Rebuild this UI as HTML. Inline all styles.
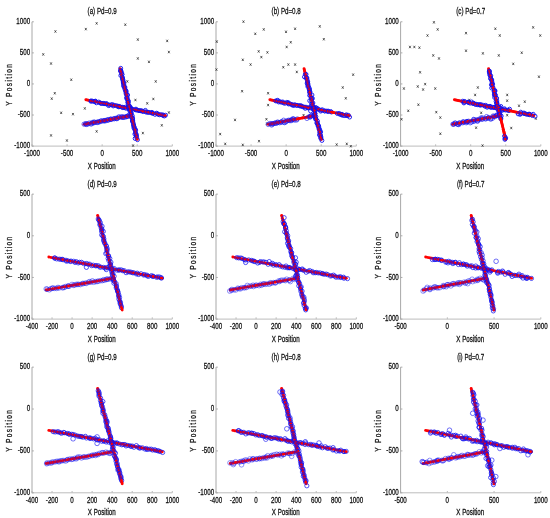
<!DOCTYPE html>
<html><head><meta charset="utf-8"><title>Tracking results</title>
<style>
html,body{margin:0;padding:0;background:#fff;}
svg{display:block;}
circle.r{fill:#f00}circle.b,circle.b1,circle.c,circle.c1,circle.e{fill:none;stroke:#1010f0}circle.e{stroke-width:0.6}circle.b{stroke-width:0.72}circle.b1{stroke-width:0.9}circle.c{stroke-width:0.45}circle.c1{stroke-width:0.6}
text{font-family:"Liberation Sans",sans-serif;font-size:9.5px;fill:#111;stroke:#111;stroke-width:0.3px;}
</style></head><body>
<svg width="550" height="518" viewBox="0 0 550 518">
<rect width="550" height="518" fill="#fff"/>
<g>
<path d="M32.00 146.10H172.30M32.00 146.10v-1.8M67.08 146.10v-1.8M102.15 146.10v-1.8M137.23 146.10v-1.8M172.30 146.10v-1.8" fill="none" stroke="#bcbcbc" stroke-width="1"/>
<path d="M32.00 21.80V146.60M32.00 146.10h1.8M32.00 115.02h1.8M32.00 83.95h1.8M32.00 52.88h1.8M32.00 21.80h1.8" fill="none" stroke="#a8a8a8" stroke-width="1"/>
<text transform="translate(32.00,156.00) scale(0.655,1)" text-anchor="middle">-1000</text>
<text transform="translate(67.08,156.00) scale(0.655,1)" text-anchor="middle">-500</text>
<text transform="translate(102.15,156.00) scale(0.655,1)" text-anchor="middle">0</text>
<text transform="translate(137.23,156.00) scale(0.655,1)" text-anchor="middle">500</text>
<text transform="translate(172.30,156.00) scale(0.655,1)" text-anchor="middle">1000</text>
<text transform="translate(30.20,148.40) scale(0.655,1)" text-anchor="end">-1000</text>
<text transform="translate(30.20,117.32) scale(0.655,1)" text-anchor="end">-500</text>
<text transform="translate(30.20,86.25) scale(0.655,1)" text-anchor="end">0</text>
<text transform="translate(30.20,55.17) scale(0.655,1)" text-anchor="end">500</text>
<text transform="translate(30.20,24.10) scale(0.655,1)" text-anchor="end">1000</text>
<text transform="translate(102.15,14.40) scale(0.655,1)" text-anchor="middle">(a) Pd=0.9</text>
<text transform="translate(101.75,168.70) scale(0.655,1)" text-anchor="middle">X Position</text>
<text transform="translate(12.00,84.25) rotate(-90) scale(0.7,0.93)" text-anchor="middle" stroke="none" fill="#2a2a2a" letter-spacing="1.9">Y Position</text>
<path d="M84.92 27.90l1.8 2.4M84.92 30.30l1.8 -2.4M95.72 22.16l1.8 2.4M95.72 24.56l1.8 -2.4M124.42 23.51l1.8 2.4M124.42 25.91l1.8 -2.4M54.53 30.26l1.8 2.4M54.53 32.66l1.8 -2.4M136.91 38.36l1.8 2.4M136.91 40.76l1.8 -2.4M166.28 39.71l1.8 2.4M166.28 42.11l1.8 -2.4M167.97 50.85l1.8 2.4M167.97 53.25l1.8 -2.4M42.38 53.22l1.8 2.4M42.38 55.62l1.8 -2.4M50.14 62.33l1.8 2.4M50.14 64.73l1.8 -2.4M136.91 57.27l1.8 2.4M136.91 59.67l1.8 -2.4M148.05 60.64l1.8 2.4M148.05 63.04l1.8 -2.4M70.40 78.54l1.8 2.4M70.40 80.94l1.8 -2.4M126.44 80.23l1.8 2.4M126.44 82.63l1.8 -2.4M154.80 80.23l1.8 2.4M154.80 82.63l1.8 -2.4M53.86 92.04l1.8 2.4M53.86 94.44l1.8 -2.4M50.82 97.44l1.8 2.4M50.82 99.84l1.8 -2.4M134.54 98.79l1.8 2.4M134.54 101.19l1.8 -2.4M152.44 97.78l1.8 2.4M152.44 100.18l1.8 -2.4M146.36 102.17l1.8 2.4M146.36 104.57l1.8 -2.4M83.90 107.24l1.8 2.4M83.90 109.64l1.8 -2.4M60.27 111.62l1.8 2.4M60.27 114.02l1.8 -2.4M72.09 112.97l1.8 2.4M72.09 115.37l1.8 -2.4M167.97 111.29l1.8 2.4M167.97 113.69l1.8 -2.4M160.88 124.12l1.8 2.4M160.88 126.52l1.8 -2.4M95.72 130.19l1.8 2.4M95.72 132.59l1.8 -2.4M141.97 131.88l1.8 2.4M141.97 134.28l1.8 -2.4M50.14 134.24l1.8 2.4M50.14 136.64l1.8 -2.4M66.01 139.31l1.8 2.4M66.01 141.71l1.8 -2.4M132.18 144.37l1.8 2.4M132.18 146.77l1.8 -2.4" fill="none" stroke="#222" stroke-width="0.7"/>
<circle class="r" cx="85.88" cy="99.80" r="1.45"/><circle class="r" cx="87.03" cy="100.03" r="1.45"/><circle class="r" cx="88.18" cy="100.26" r="1.45"/><circle class="r" cx="89.33" cy="100.49" r="1.45"/><circle class="r" cx="90.48" cy="100.72" r="1.45"/><circle class="b1" cx="90.86" cy="101.25" r="1.9500000000000002"/><circle class="r" cx="91.63" cy="100.95" r="1.45"/><circle class="b1" cx="91.21" cy="100.85" r="1.9500000000000002"/><circle class="r" cx="92.78" cy="101.18" r="1.45"/><circle class="b1" cx="92.66" cy="101.17" r="1.9500000000000002"/><circle class="r" cx="93.93" cy="101.41" r="1.45"/><circle class="b1" cx="94.11" cy="101.49" r="1.9500000000000002"/><circle class="r" cx="95.08" cy="101.64" r="1.45"/><circle class="b1" cx="95.19" cy="101.43" r="1.9500000000000002"/><circle class="r" cx="96.23" cy="101.87" r="1.45"/><circle class="b1" cx="95.47" cy="101.08" r="1.9500000000000002"/><circle class="r" cx="97.38" cy="102.10" r="1.45"/><circle class="b1" cx="96.40" cy="102.84" r="1.9500000000000002"/><circle class="r" cx="98.53" cy="102.32" r="1.45"/><circle class="b1" cx="98.77" cy="102.04" r="1.9500000000000002"/><circle class="r" cx="99.69" cy="102.55" r="1.45"/><circle class="b1" cx="99.97" cy="102.82" r="1.9500000000000002"/><circle class="r" cx="100.84" cy="102.78" r="1.45"/><circle class="b1" cx="101.09" cy="103.32" r="1.9500000000000002"/><circle class="r" cx="101.99" cy="103.01" r="1.45"/><circle class="b1" cx="101.59" cy="103.42" r="1.9500000000000002"/><circle class="r" cx="103.14" cy="103.24" r="1.45"/><circle class="b1" cx="103.42" cy="103.36" r="1.9500000000000002"/><circle class="r" cx="104.29" cy="103.47" r="1.45"/><circle class="b1" cx="103.94" cy="103.64" r="1.9500000000000002"/><circle class="r" cx="105.44" cy="103.70" r="1.45"/><circle class="b1" cx="105.08" cy="103.81" r="1.9500000000000002"/><circle class="r" cx="106.59" cy="103.93" r="1.45"/><circle class="b1" cx="106.48" cy="103.61" r="1.9500000000000002"/><circle class="r" cx="107.74" cy="104.16" r="1.45"/><circle class="b1" cx="106.84" cy="104.02" r="1.9500000000000002"/><circle class="r" cx="108.89" cy="104.39" r="1.45"/><circle class="b1" cx="108.59" cy="105.62" r="1.9500000000000002"/><circle class="r" cx="110.04" cy="104.62" r="1.45"/><circle class="b1" cx="109.38" cy="104.99" r="1.9500000000000002"/><circle class="r" cx="111.19" cy="104.85" r="1.45"/><circle class="b1" cx="111.07" cy="104.86" r="1.9500000000000002"/><circle class="r" cx="112.35" cy="105.08" r="1.45"/><circle class="b1" cx="112.40" cy="104.50" r="1.9500000000000002"/><circle class="r" cx="113.50" cy="105.31" r="1.45"/><circle class="b1" cx="113.23" cy="105.95" r="1.9500000000000002"/><circle class="r" cx="114.65" cy="105.54" r="1.45"/><circle class="b1" cx="114.21" cy="105.30" r="1.9500000000000002"/><circle class="r" cx="115.80" cy="105.77" r="1.45"/><circle class="b1" cx="116.28" cy="105.60" r="1.9500000000000002"/><circle class="r" cx="116.95" cy="106.00" r="1.45"/><circle class="b1" cx="117.60" cy="106.26" r="1.9500000000000002"/><circle class="r" cx="118.10" cy="106.23" r="1.45"/><circle class="b1" cx="118.93" cy="106.19" r="1.9500000000000002"/><circle class="r" cx="119.25" cy="106.46" r="1.45"/><circle class="b1" cx="118.75" cy="106.90" r="1.9500000000000002"/><circle class="r" cx="120.40" cy="106.69" r="1.45"/><circle class="b1" cx="120.14" cy="106.75" r="1.9500000000000002"/><circle class="r" cx="121.55" cy="106.92" r="1.45"/><circle class="b1" cx="122.27" cy="107.20" r="1.9500000000000002"/><circle class="r" cx="122.70" cy="107.15" r="1.45"/><circle class="b1" cx="122.71" cy="107.60" r="1.9500000000000002"/><circle class="r" cx="123.85" cy="107.38" r="1.45"/><circle class="b1" cx="124.28" cy="107.62" r="1.9500000000000002"/><circle class="r" cx="125.00" cy="107.61" r="1.45"/><circle class="b1" cx="125.62" cy="107.05" r="1.9500000000000002"/><circle class="r" cx="126.16" cy="107.84" r="1.45"/><circle class="b1" cx="126.07" cy="108.30" r="1.9500000000000002"/><circle class="r" cx="127.31" cy="108.07" r="1.45"/><circle class="b1" cx="128.15" cy="107.31" r="1.9500000000000002"/><circle class="r" cx="128.46" cy="108.30" r="1.45"/><circle class="b1" cx="128.60" cy="108.59" r="1.9500000000000002"/><circle class="r" cx="129.61" cy="108.53" r="1.45"/><circle class="b1" cx="129.01" cy="108.58" r="1.9500000000000002"/><circle class="r" cx="130.76" cy="108.76" r="1.45"/><circle class="b1" cx="131.23" cy="108.77" r="1.9500000000000002"/><circle class="r" cx="131.91" cy="108.99" r="1.45"/><circle class="b1" cx="130.89" cy="108.53" r="1.9500000000000002"/><circle class="r" cx="133.06" cy="109.22" r="1.45"/><circle class="b1" cx="132.44" cy="109.15" r="1.9500000000000002"/><circle class="r" cx="134.21" cy="109.45" r="1.45"/><circle class="b1" cx="135.12" cy="109.77" r="1.9500000000000002"/><circle class="r" cx="135.36" cy="109.67" r="1.45"/><circle class="b1" cx="135.93" cy="109.10" r="1.9500000000000002"/><circle class="r" cx="136.51" cy="109.90" r="1.45"/><circle class="b1" cx="136.34" cy="110.03" r="1.9500000000000002"/><circle class="r" cx="137.66" cy="110.13" r="1.45"/><circle class="b1" cx="137.82" cy="110.20" r="1.9500000000000002"/><circle class="r" cx="138.82" cy="110.36" r="1.45"/><circle class="b1" cx="139.03" cy="110.71" r="1.9500000000000002"/><circle class="r" cx="139.97" cy="110.59" r="1.45"/><circle class="b1" cx="140.22" cy="110.59" r="1.9500000000000002"/><circle class="r" cx="141.12" cy="110.82" r="1.45"/><circle class="b1" cx="141.05" cy="110.90" r="1.9500000000000002"/><circle class="r" cx="142.27" cy="111.05" r="1.45"/><circle class="b1" cx="142.08" cy="110.89" r="1.9500000000000002"/><circle class="r" cx="143.42" cy="111.28" r="1.45"/><circle class="b1" cx="143.17" cy="111.63" r="1.9500000000000002"/><circle class="r" cx="144.57" cy="111.51" r="1.45"/><circle class="b1" cx="145.40" cy="110.36" r="1.9500000000000002"/><circle class="r" cx="145.72" cy="111.74" r="1.45"/><circle class="b1" cx="145.53" cy="111.76" r="1.9500000000000002"/><circle class="r" cx="146.87" cy="111.97" r="1.45"/><circle class="b1" cx="146.68" cy="112.27" r="1.9500000000000002"/><circle class="r" cx="148.02" cy="112.20" r="1.45"/><circle class="b1" cx="148.07" cy="112.28" r="1.9500000000000002"/><circle class="r" cx="149.17" cy="112.43" r="1.45"/><circle class="b1" cx="148.92" cy="112.39" r="1.9500000000000002"/><circle class="r" cx="150.32" cy="112.66" r="1.45"/><circle class="b1" cx="150.87" cy="112.75" r="1.9500000000000002"/><circle class="r" cx="151.47" cy="112.89" r="1.45"/><circle class="b1" cx="151.93" cy="112.36" r="1.9500000000000002"/><circle class="r" cx="152.63" cy="113.12" r="1.45"/><circle class="b1" cx="152.44" cy="113.32" r="1.9500000000000002"/><circle class="r" cx="153.78" cy="113.35" r="1.45"/><circle class="b1" cx="153.01" cy="113.19" r="1.9500000000000002"/><circle class="r" cx="154.93" cy="113.58" r="1.45"/><circle class="b1" cx="155.07" cy="114.39" r="1.9500000000000002"/><circle class="r" cx="156.08" cy="113.81" r="1.45"/><circle class="b1" cx="156.57" cy="113.16" r="1.9500000000000002"/><circle class="r" cx="157.23" cy="114.04" r="1.45"/><circle class="b1" cx="157.21" cy="113.72" r="1.9500000000000002"/><circle class="r" cx="158.38" cy="114.27" r="1.45"/><circle class="b1" cx="158.31" cy="114.35" r="1.9500000000000002"/><circle class="r" cx="159.53" cy="114.50" r="1.45"/><circle class="b1" cx="159.47" cy="114.84" r="1.9500000000000002"/><circle class="r" cx="160.68" cy="114.73" r="1.45"/><circle class="b1" cx="161.15" cy="114.60" r="1.9500000000000002"/><circle class="r" cx="161.83" cy="114.96" r="1.45"/><circle class="b1" cx="162.95" cy="114.87" r="1.9500000000000002"/><circle class="r" cx="162.98" cy="115.19" r="1.45"/><circle class="b1" cx="163.04" cy="115.50" r="1.9500000000000002"/><circle class="r" cx="164.13" cy="115.42" r="1.45"/><circle class="b1" cx="164.31" cy="116.02" r="1.9500000000000002"/><circle class="r" cx="165.28" cy="115.65" r="1.45"/><circle class="b1" cx="165.56" cy="115.21" r="1.9500000000000002"/><circle class="r" cx="85.88" cy="99.80" r="0.7"/><circle class="r" cx="88.18" cy="100.26" r="0.7"/><circle class="r" cx="90.48" cy="100.72" r="0.7"/><circle class="r" cx="92.78" cy="101.18" r="0.7"/><circle class="r" cx="95.08" cy="101.64" r="0.7"/><circle class="r" cx="97.38" cy="102.10" r="0.7"/><circle class="r" cx="99.69" cy="102.55" r="0.7"/><circle class="r" cx="101.99" cy="103.01" r="0.7"/><circle class="r" cx="104.29" cy="103.47" r="0.7"/><circle class="r" cx="106.59" cy="103.93" r="0.7"/><circle class="r" cx="108.89" cy="104.39" r="0.7"/><circle class="r" cx="111.19" cy="104.85" r="0.7"/><circle class="r" cx="113.50" cy="105.31" r="0.7"/><circle class="r" cx="115.80" cy="105.77" r="0.7"/><circle class="r" cx="118.10" cy="106.23" r="0.7"/><circle class="r" cx="120.40" cy="106.69" r="0.7"/><circle class="r" cx="122.70" cy="107.15" r="0.7"/><circle class="r" cx="125.00" cy="107.61" r="0.7"/><circle class="r" cx="127.31" cy="108.07" r="0.7"/><circle class="r" cx="129.61" cy="108.53" r="0.7"/><circle class="r" cx="131.91" cy="108.99" r="0.7"/><circle class="r" cx="134.21" cy="109.45" r="0.7"/><circle class="r" cx="136.51" cy="109.90" r="0.7"/><circle class="r" cx="138.82" cy="110.36" r="0.7"/><circle class="r" cx="141.12" cy="110.82" r="0.7"/><circle class="r" cx="143.42" cy="111.28" r="0.7"/><circle class="r" cx="145.72" cy="111.74" r="0.7"/><circle class="r" cx="148.02" cy="112.20" r="0.7"/><circle class="r" cx="150.32" cy="112.66" r="0.7"/><circle class="r" cx="152.63" cy="113.12" r="0.7"/><circle class="r" cx="154.93" cy="113.58" r="0.7"/><circle class="r" cx="157.23" cy="114.04" r="0.7"/><circle class="r" cx="159.53" cy="114.50" r="0.7"/><circle class="r" cx="161.83" cy="114.96" r="0.7"/><circle class="r" cx="164.13" cy="115.42" r="0.7"/>
<circle class="r" cx="84.05" cy="124.35" r="1.45"/><circle class="c1" cx="84.11" cy="124.17" r="2.2"/><circle class="r" cx="85.09" cy="124.15" r="1.45"/><circle class="c1" cx="85.76" cy="123.73" r="2.2"/><circle class="r" cx="86.13" cy="123.96" r="1.45"/><circle class="c1" cx="85.85" cy="124.00" r="2.2"/><circle class="r" cx="87.18" cy="123.77" r="1.45"/><circle class="c1" cx="86.77" cy="124.47" r="2.2"/><circle class="r" cx="88.22" cy="123.57" r="1.45"/><circle class="c1" cx="87.85" cy="123.85" r="2.2"/><circle class="r" cx="89.26" cy="123.38" r="1.45"/><circle class="c1" cx="89.21" cy="123.11" r="2.2"/><circle class="r" cx="90.30" cy="123.19" r="1.45"/><circle class="c1" cx="90.87" cy="123.98" r="2.2"/><circle class="r" cx="91.34" cy="122.99" r="1.45"/><circle class="c1" cx="91.85" cy="123.66" r="2.2"/><circle class="r" cx="92.38" cy="122.80" r="1.45"/><circle class="c1" cx="92.15" cy="122.45" r="2.2"/><circle class="r" cx="93.42" cy="122.61" r="1.45"/><circle class="c1" cx="93.48" cy="122.66" r="2.2"/><circle class="r" cx="94.46" cy="122.41" r="1.45"/><circle class="c1" cx="94.14" cy="121.97" r="2.2"/><circle class="r" cx="95.51" cy="122.22" r="1.45"/><circle class="c1" cx="94.67" cy="122.59" r="2.2"/><circle class="r" cx="96.55" cy="122.03" r="1.45"/><circle class="c1" cx="96.63" cy="122.36" r="2.2"/><circle class="r" cx="97.59" cy="121.83" r="1.45"/><circle class="c1" cx="97.62" cy="122.43" r="2.2"/><circle class="r" cx="98.63" cy="121.64" r="1.45"/><circle class="c1" cx="98.42" cy="121.76" r="2.2"/><circle class="r" cx="99.67" cy="121.45" r="1.45"/><circle class="c1" cx="99.37" cy="121.84" r="2.2"/><circle class="r" cx="100.71" cy="121.25" r="1.45"/><circle class="c1" cx="101.10" cy="120.99" r="2.2"/><circle class="r" cx="101.75" cy="121.06" r="1.45"/><circle class="c1" cx="101.20" cy="121.05" r="2.2"/><circle class="r" cx="102.80" cy="120.87" r="1.45"/><circle class="c1" cx="103.28" cy="120.92" r="2.2"/><circle class="r" cx="103.84" cy="120.67" r="1.45"/><circle class="c1" cx="104.64" cy="120.69" r="2.2"/><circle class="r" cx="104.88" cy="120.48" r="1.45"/><circle class="c1" cx="104.16" cy="120.60" r="2.2"/><circle class="r" cx="105.92" cy="120.29" r="1.45"/><circle class="c1" cx="105.67" cy="120.77" r="2.2"/><circle class="r" cx="106.96" cy="120.09" r="1.45"/><circle class="c1" cx="107.01" cy="119.89" r="2.2"/><circle class="r" cx="108.00" cy="119.90" r="1.45"/><circle class="c1" cx="108.01" cy="120.26" r="2.2"/><circle class="r" cx="109.04" cy="119.71" r="1.45"/><circle class="c1" cx="108.47" cy="119.68" r="2.2"/><circle class="r" cx="110.08" cy="119.51" r="1.45"/><circle class="c1" cx="110.50" cy="119.26" r="2.2"/><circle class="r" cx="111.13" cy="119.32" r="1.45"/><circle class="c1" cx="110.59" cy="119.30" r="2.2"/><circle class="r" cx="112.17" cy="119.13" r="1.45"/><circle class="c1" cx="111.64" cy="119.29" r="2.2"/><circle class="r" cx="113.21" cy="118.93" r="1.45"/><circle class="c1" cx="113.86" cy="118.68" r="2.2"/><circle class="r" cx="114.25" cy="118.74" r="1.45"/><circle class="c1" cx="114.58" cy="118.62" r="2.2"/><circle class="r" cx="115.29" cy="118.55" r="1.45"/><circle class="c1" cx="116.10" cy="118.25" r="2.2"/><circle class="r" cx="116.33" cy="118.35" r="1.45"/><circle class="c1" cx="116.68" cy="118.69" r="2.2"/><circle class="r" cx="117.37" cy="118.16" r="1.45"/><circle class="c1" cx="117.38" cy="118.34" r="2.2"/><circle class="r" cx="118.42" cy="117.97" r="1.45"/><circle class="c1" cx="118.62" cy="117.03" r="2.2"/><circle class="r" cx="119.46" cy="117.77" r="1.45"/><circle class="c1" cx="119.32" cy="117.13" r="2.2"/><circle class="r" cx="120.50" cy="117.58" r="1.45"/><circle class="c1" cx="121.37" cy="116.79" r="2.2"/><circle class="r" cx="121.54" cy="117.39" r="1.45"/><circle class="c1" cx="121.97" cy="117.25" r="2.2"/><circle class="r" cx="122.58" cy="117.19" r="1.45"/><circle class="c1" cx="123.43" cy="117.14" r="2.2"/><circle class="r" cx="123.62" cy="117.00" r="1.45"/><circle class="c1" cx="123.13" cy="117.23" r="2.2"/><circle class="r" cx="124.66" cy="116.81" r="1.45"/><circle class="c1" cx="124.80" cy="117.18" r="2.2"/><circle class="r" cx="125.70" cy="116.61" r="1.45"/><circle class="c1" cx="126.27" cy="116.68" r="2.2"/><circle class="r" cx="126.75" cy="116.42" r="1.45"/><circle class="c1" cx="127.15" cy="116.47" r="2.2"/><circle class="r" cx="127.79" cy="116.23" r="1.45"/><circle class="c1" cx="127.62" cy="116.21" r="2.2"/><circle class="r" cx="128.83" cy="116.03" r="1.45"/><circle class="c1" cx="129.12" cy="114.87" r="2.2"/><circle class="r" cx="129.87" cy="115.84" r="1.45"/><circle class="c1" cx="129.86" cy="115.97" r="2.2"/><circle class="r" cx="130.91" cy="115.65" r="1.45"/><circle class="c1" cx="130.88" cy="115.88" r="2.2"/>
<circle class="r" cx="120.04" cy="68.72" r="1.45"/><circle class="b1" cx="120.74" cy="68.28" r="1.9500000000000002"/><circle class="r" cx="120.29" cy="69.75" r="1.45"/><circle class="b1" cx="120.88" cy="70.56" r="1.9500000000000002"/><circle class="r" cx="120.54" cy="70.77" r="1.45"/><circle class="b1" cx="120.48" cy="70.59" r="1.9500000000000002"/><circle class="r" cx="120.79" cy="71.80" r="1.45"/><circle class="b1" cx="120.61" cy="71.36" r="1.9500000000000002"/><circle class="r" cx="121.03" cy="72.82" r="1.45"/><circle class="b1" cx="121.63" cy="72.58" r="1.9500000000000002"/><circle class="r" cx="121.28" cy="73.84" r="1.45"/><circle class="b1" cx="122.05" cy="74.29" r="1.9500000000000002"/><circle class="r" cx="121.53" cy="74.87" r="1.45"/><circle class="b1" cx="121.85" cy="74.49" r="1.9500000000000002"/><circle class="r" cx="121.78" cy="75.89" r="1.45"/><circle class="b1" cx="120.81" cy="75.56" r="1.9500000000000002"/><circle class="r" cx="122.03" cy="76.92" r="1.45"/><circle class="b1" cx="122.41" cy="77.32" r="1.9500000000000002"/><circle class="r" cx="122.28" cy="77.94" r="1.45"/><circle class="b1" cx="122.49" cy="78.11" r="1.9500000000000002"/><circle class="r" cx="122.53" cy="78.96" r="1.45"/><circle class="b1" cx="122.65" cy="79.34" r="1.9500000000000002"/><circle class="r" cx="122.78" cy="79.99" r="1.45"/><circle class="b1" cx="122.80" cy="79.62" r="1.9500000000000002"/><circle class="r" cx="123.03" cy="81.01" r="1.45"/><circle class="b1" cx="123.21" cy="81.39" r="1.9500000000000002"/><circle class="r" cx="123.28" cy="82.04" r="1.45"/><circle class="b1" cx="123.28" cy="82.12" r="1.9500000000000002"/><circle class="r" cx="123.53" cy="83.06" r="1.45"/><circle class="b1" cx="123.25" cy="82.97" r="1.9500000000000002"/><circle class="r" cx="123.77" cy="84.09" r="1.45"/><circle class="b1" cx="123.97" cy="84.00" r="1.9500000000000002"/><circle class="r" cx="124.02" cy="85.11" r="1.45"/><circle class="b1" cx="123.54" cy="85.33" r="1.9500000000000002"/><circle class="r" cx="124.27" cy="86.13" r="1.45"/><circle class="b1" cx="123.85" cy="86.47" r="1.9500000000000002"/><circle class="r" cx="124.52" cy="87.16" r="1.45"/><circle class="b1" cx="124.93" cy="87.11" r="1.9500000000000002"/><circle class="r" cx="124.77" cy="88.18" r="1.45"/><circle class="b1" cx="124.60" cy="87.57" r="1.9500000000000002"/><circle class="r" cx="125.02" cy="89.21" r="1.45"/><circle class="b1" cx="124.93" cy="89.33" r="1.9500000000000002"/><circle class="r" cx="125.27" cy="90.23" r="1.45"/><circle class="b1" cx="125.94" cy="90.55" r="1.9500000000000002"/><circle class="r" cx="125.52" cy="91.25" r="1.45"/><circle class="b1" cx="125.62" cy="91.42" r="1.9500000000000002"/><circle class="r" cx="125.77" cy="92.28" r="1.45"/><circle class="b1" cx="126.23" cy="91.79" r="1.9500000000000002"/><circle class="r" cx="126.02" cy="93.30" r="1.45"/><circle class="b1" cx="126.03" cy="93.68" r="1.9500000000000002"/><circle class="r" cx="126.27" cy="94.33" r="1.45"/><circle class="b1" cx="126.53" cy="94.74" r="1.9500000000000002"/><circle class="r" cx="126.51" cy="95.35" r="1.45"/><circle class="b1" cx="127.69" cy="95.06" r="1.9500000000000002"/><circle class="r" cx="126.76" cy="96.37" r="1.45"/><circle class="b1" cx="126.80" cy="97.54" r="1.9500000000000002"/><circle class="r" cx="127.01" cy="97.40" r="1.45"/><circle class="b1" cx="127.00" cy="97.42" r="1.9500000000000002"/><circle class="r" cx="127.26" cy="98.42" r="1.45"/><circle class="b1" cx="126.74" cy="98.51" r="1.9500000000000002"/><circle class="r" cx="127.51" cy="99.45" r="1.45"/><circle class="b1" cx="127.47" cy="99.45" r="1.9500000000000002"/><circle class="r" cx="127.76" cy="100.47" r="1.45"/><circle class="b1" cx="128.14" cy="100.71" r="1.9500000000000002"/><circle class="r" cx="128.01" cy="101.50" r="1.45"/><circle class="b1" cx="128.39" cy="101.55" r="1.9500000000000002"/><circle class="r" cx="128.26" cy="102.52" r="1.45"/><circle class="b1" cx="127.78" cy="102.24" r="1.9500000000000002"/><circle class="r" cx="128.51" cy="103.54" r="1.45"/><circle class="b1" cx="128.12" cy="102.95" r="1.9500000000000002"/><circle class="r" cx="128.76" cy="104.57" r="1.45"/><circle class="b1" cx="128.45" cy="104.82" r="1.9500000000000002"/><circle class="r" cx="129.01" cy="105.59" r="1.45"/><circle class="b1" cx="129.43" cy="106.17" r="1.9500000000000002"/><circle class="r" cx="129.25" cy="106.62" r="1.45"/><circle class="b1" cx="130.08" cy="106.85" r="1.9500000000000002"/><circle class="r" cx="129.50" cy="107.64" r="1.45"/><circle class="b1" cx="128.99" cy="107.11" r="1.9500000000000002"/><circle class="r" cx="129.75" cy="108.66" r="1.45"/><circle class="b1" cx="130.10" cy="109.08" r="1.9500000000000002"/><circle class="r" cx="130.00" cy="109.69" r="1.45"/><circle class="b1" cx="130.42" cy="108.99" r="1.9500000000000002"/><circle class="r" cx="130.25" cy="110.71" r="1.45"/><circle class="b1" cx="129.43" cy="110.23" r="1.9500000000000002"/><circle class="r" cx="130.50" cy="111.74" r="1.45"/><circle class="b1" cx="130.39" cy="111.43" r="1.9500000000000002"/><circle class="r" cx="130.75" cy="112.76" r="1.45"/><circle class="b1" cx="131.03" cy="113.08" r="1.9500000000000002"/><circle class="r" cx="131.00" cy="113.78" r="1.45"/><circle class="b1" cx="131.29" cy="113.29" r="1.9500000000000002"/><circle class="r" cx="131.25" cy="114.81" r="1.45"/><circle class="b1" cx="130.77" cy="114.32" r="1.9500000000000002"/><circle class="r" cx="131.50" cy="115.83" r="1.45"/><circle class="b1" cx="132.30" cy="115.85" r="1.9500000000000002"/><circle class="r" cx="131.75" cy="116.86" r="1.45"/><circle class="b1" cx="131.19" cy="116.85" r="1.9500000000000002"/><circle class="r" cx="131.99" cy="117.88" r="1.45"/><circle class="b1" cx="132.67" cy="118.18" r="1.9500000000000002"/><circle class="r" cx="132.24" cy="118.91" r="1.45"/><circle class="b1" cx="132.56" cy="119.06" r="1.9500000000000002"/><circle class="r" cx="132.49" cy="119.93" r="1.45"/><circle class="b1" cx="132.70" cy="120.64" r="1.9500000000000002"/><circle class="r" cx="132.74" cy="120.95" r="1.45"/><circle class="b1" cx="132.30" cy="120.97" r="1.9500000000000002"/><circle class="r" cx="132.99" cy="121.98" r="1.45"/><circle class="b1" cx="132.68" cy="121.28" r="1.9500000000000002"/><circle class="r" cx="133.24" cy="123.00" r="1.45"/><circle class="b1" cx="133.13" cy="122.86" r="1.9500000000000002"/><circle class="r" cx="133.49" cy="124.03" r="1.45"/><circle class="b1" cx="133.47" cy="124.77" r="1.9500000000000002"/><circle class="r" cx="133.74" cy="125.05" r="1.45"/><circle class="b1" cx="133.67" cy="125.02" r="1.9500000000000002"/><circle class="r" cx="133.99" cy="126.07" r="1.45"/><circle class="b1" cx="133.91" cy="126.74" r="1.9500000000000002"/><circle class="r" cx="134.24" cy="127.10" r="1.45"/><circle class="b1" cx="134.07" cy="126.77" r="1.9500000000000002"/><circle class="r" cx="134.49" cy="128.12" r="1.45"/><circle class="b1" cx="133.99" cy="128.23" r="1.9500000000000002"/><circle class="r" cx="134.73" cy="129.15" r="1.45"/><circle class="b1" cx="134.97" cy="128.96" r="1.9500000000000002"/><circle class="r" cx="134.98" cy="130.17" r="1.45"/><circle class="b1" cx="135.06" cy="130.14" r="1.9500000000000002"/><circle class="r" cx="135.23" cy="131.19" r="1.45"/><circle class="b1" cx="135.73" cy="130.13" r="1.9500000000000002"/><circle class="r" cx="135.48" cy="132.22" r="1.45"/><circle class="b1" cx="135.45" cy="132.53" r="1.9500000000000002"/><circle class="r" cx="135.73" cy="133.24" r="1.45"/><circle class="b1" cx="135.88" cy="133.82" r="1.9500000000000002"/><circle class="r" cx="135.98" cy="134.27" r="1.45"/><circle class="b1" cx="134.88" cy="134.10" r="1.9500000000000002"/><circle class="r" cx="136.23" cy="135.29" r="1.45"/><circle class="b1" cx="136.46" cy="134.81" r="1.9500000000000002"/><circle class="r" cx="136.48" cy="136.32" r="1.45"/><circle class="b1" cx="136.38" cy="136.00" r="1.9500000000000002"/><circle class="r" cx="136.73" cy="137.34" r="1.45"/><circle class="b1" cx="136.63" cy="137.35" r="1.9500000000000002"/><circle class="r" cx="136.98" cy="138.36" r="1.45"/><circle class="b1" cx="135.12" cy="138.46" r="1.9500000000000002"/><circle class="r" cx="137.23" cy="139.39" r="1.45"/><circle class="b1" cx="137.49" cy="139.71" r="1.9500000000000002"/><circle class="r" cx="120.04" cy="68.72" r="0.7"/><circle class="r" cx="120.54" cy="70.77" r="0.7"/><circle class="r" cx="121.03" cy="72.82" r="0.7"/><circle class="r" cx="121.53" cy="74.87" r="0.7"/><circle class="r" cx="122.03" cy="76.92" r="0.7"/><circle class="r" cx="122.53" cy="78.96" r="0.7"/><circle class="r" cx="123.03" cy="81.01" r="0.7"/><circle class="r" cx="123.53" cy="83.06" r="0.7"/><circle class="r" cx="124.02" cy="85.11" r="0.7"/><circle class="r" cx="124.52" cy="87.16" r="0.7"/><circle class="r" cx="125.02" cy="89.21" r="0.7"/><circle class="r" cx="125.52" cy="91.25" r="0.7"/><circle class="r" cx="126.02" cy="93.30" r="0.7"/><circle class="r" cx="126.51" cy="95.35" r="0.7"/><circle class="r" cx="127.01" cy="97.40" r="0.7"/><circle class="r" cx="127.51" cy="99.45" r="0.7"/><circle class="r" cx="128.01" cy="101.50" r="0.7"/><circle class="r" cx="128.51" cy="103.54" r="0.7"/><circle class="r" cx="129.01" cy="105.59" r="0.7"/><circle class="r" cx="129.50" cy="107.64" r="0.7"/><circle class="r" cx="130.00" cy="109.69" r="0.7"/><circle class="r" cx="130.50" cy="111.74" r="0.7"/><circle class="r" cx="131.00" cy="113.78" r="0.7"/><circle class="r" cx="131.50" cy="115.83" r="0.7"/><circle class="r" cx="131.99" cy="117.88" r="0.7"/><circle class="r" cx="132.49" cy="119.93" r="0.7"/><circle class="r" cx="132.99" cy="121.98" r="0.7"/><circle class="r" cx="133.49" cy="124.03" r="0.7"/><circle class="r" cx="133.99" cy="126.07" r="0.7"/><circle class="r" cx="134.49" cy="128.12" r="0.7"/><circle class="r" cx="134.98" cy="130.17" r="0.7"/><circle class="r" cx="135.48" cy="132.22" r="0.7"/><circle class="r" cx="135.98" cy="134.27" r="0.7"/><circle class="r" cx="136.48" cy="136.32" r="0.7"/><circle class="r" cx="136.98" cy="138.36" r="0.7"/>

</g>
<g>
<path d="M216.00 146.10H356.30M216.00 146.10v-1.8M251.07 146.10v-1.8M286.15 146.10v-1.8M321.23 146.10v-1.8M356.30 146.10v-1.8" fill="none" stroke="#bcbcbc" stroke-width="1"/>
<path d="M216.00 21.80V146.60M216.00 146.10h1.8M216.00 115.02h1.8M216.00 83.95h1.8M216.00 52.88h1.8M216.00 21.80h1.8" fill="none" stroke="#a8a8a8" stroke-width="1"/>
<text transform="translate(216.00,156.00) scale(0.655,1)" text-anchor="middle">-1000</text>
<text transform="translate(251.07,156.00) scale(0.655,1)" text-anchor="middle">-500</text>
<text transform="translate(286.15,156.00) scale(0.655,1)" text-anchor="middle">0</text>
<text transform="translate(321.23,156.00) scale(0.655,1)" text-anchor="middle">500</text>
<text transform="translate(356.30,156.00) scale(0.655,1)" text-anchor="middle">1000</text>
<text transform="translate(214.20,148.40) scale(0.655,1)" text-anchor="end">-1000</text>
<text transform="translate(214.20,117.32) scale(0.655,1)" text-anchor="end">-500</text>
<text transform="translate(214.20,86.25) scale(0.655,1)" text-anchor="end">0</text>
<text transform="translate(214.20,55.17) scale(0.655,1)" text-anchor="end">500</text>
<text transform="translate(214.20,24.10) scale(0.655,1)" text-anchor="end">1000</text>
<text transform="translate(286.15,14.40) scale(0.655,1)" text-anchor="middle">(b) Pd=0.8</text>
<text transform="translate(285.75,168.70) scale(0.655,1)" text-anchor="middle">X Position</text>
<text transform="translate(196.00,84.25) rotate(-90) scale(0.7,0.93)" text-anchor="middle" stroke="none" fill="#2a2a2a" letter-spacing="1.9">Y Position</text>
<path d="M242.57 20.47l1.8 2.4M242.57 22.87l1.8 -2.4M318.87 25.20l1.8 2.4M318.87 27.60l1.8 -2.4M262.83 28.23l1.8 2.4M262.83 30.63l1.8 -2.4M294.22 27.56l1.8 2.4M294.22 29.96l1.8 -2.4M254.39 32.62l1.8 2.4M254.39 35.02l1.8 -2.4M285.11 30.60l1.8 2.4M285.11 33.00l1.8 -2.4M322.92 38.03l1.8 2.4M322.92 40.43l1.8 -2.4M215.90 40.39l1.8 2.4M215.90 42.79l1.8 -2.4M289.83 41.06l1.8 2.4M289.83 43.46l1.8 -2.4M285.78 45.79l1.8 2.4M285.78 48.19l1.8 -2.4M257.76 50.18l1.8 2.4M257.76 52.58l1.8 -2.4M266.54 51.19l1.8 2.4M266.54 53.59l1.8 -2.4M260.46 55.92l1.8 2.4M260.46 58.32l1.8 -2.4M241.89 58.62l1.8 2.4M241.89 61.02l1.8 -2.4M249.66 63.35l1.8 2.4M249.66 65.75l1.8 -2.4M287.47 63.35l1.8 2.4M287.47 65.75l1.8 -2.4M294.22 63.35l1.8 2.4M294.22 65.75l1.8 -2.4M282.41 66.05l1.8 2.4M282.41 68.45l1.8 -2.4M295.91 70.77l1.8 2.4M295.91 73.17l1.8 -2.4M215.56 68.41l1.8 2.4M215.56 70.81l1.8 -2.4M352.29 73.47l1.8 2.4M352.29 75.87l1.8 -2.4M341.83 86.30l1.8 2.4M341.83 88.70l1.8 -2.4M241.22 90.02l1.8 2.4M241.22 92.42l1.8 -2.4M267.21 92.04l1.8 2.4M267.21 94.44l1.8 -2.4M344.86 97.11l1.8 2.4M344.86 99.51l1.8 -2.4M267.21 103.86l1.8 2.4M267.21 106.26l1.8 -2.4M302.66 113.99l1.8 2.4M302.66 116.39l1.8 -2.4M234.13 118.71l1.8 2.4M234.13 121.11l1.8 -2.4M265.53 118.04l1.8 2.4M265.53 120.44l1.8 -2.4M266.20 122.43l1.8 2.4M266.20 124.83l1.8 -2.4M219.27 132.89l1.8 2.4M219.27 135.29l1.8 -2.4M258.10 139.98l1.8 2.4M258.10 142.38l1.8 -2.4M224.34 142.68l1.8 2.4M224.34 145.08l1.8 -2.4M241.89 143.70l1.8 2.4M241.89 146.10l1.8 -2.4M335.75 143.36l1.8 2.4M335.75 145.76l1.8 -2.4M345.88 142.68l1.8 2.4M345.88 145.08l1.8 -2.4M349.93 145.05l1.8 2.4M349.93 147.45l1.8 -2.4" fill="none" stroke="#222" stroke-width="0.7"/>
<circle class="r" cx="269.88" cy="99.80" r="1.45"/><circle class="r" cx="271.03" cy="100.03" r="1.45"/><circle class="r" cx="272.18" cy="100.26" r="1.45"/><circle class="r" cx="273.33" cy="100.49" r="1.45"/><circle class="r" cx="274.48" cy="100.72" r="1.45"/><circle class="r" cx="275.63" cy="100.95" r="1.45"/><circle class="b1" cx="275.65" cy="100.92" r="1.9500000000000002"/><circle class="r" cx="276.78" cy="101.18" r="1.45"/><circle class="b1" cx="276.93" cy="100.94" r="1.9500000000000002"/><circle class="r" cx="277.93" cy="101.41" r="1.45"/><circle class="b1" cx="277.66" cy="100.25" r="1.9500000000000002"/><circle class="r" cx="279.08" cy="101.64" r="1.45"/><circle class="b1" cx="278.70" cy="102.03" r="1.9500000000000002"/><circle class="r" cx="280.23" cy="101.87" r="1.45"/><circle class="b1" cx="279.79" cy="101.59" r="1.9500000000000002"/><circle class="r" cx="281.38" cy="102.10" r="1.45"/><circle class="b1" cx="281.36" cy="102.27" r="1.9500000000000002"/><circle class="r" cx="282.53" cy="102.32" r="1.45"/><circle class="b1" cx="282.76" cy="101.94" r="1.9500000000000002"/><circle class="r" cx="283.69" cy="102.55" r="1.45"/><circle class="b1" cx="283.69" cy="102.99" r="1.9500000000000002"/><circle class="r" cx="284.84" cy="102.78" r="1.45"/><circle class="b1" cx="285.03" cy="103.28" r="1.9500000000000002"/><circle class="r" cx="285.99" cy="103.01" r="1.45"/><circle class="b1" cx="286.74" cy="102.35" r="1.9500000000000002"/><circle class="r" cx="287.14" cy="103.24" r="1.45"/><circle class="b1" cx="288.26" cy="102.57" r="1.9500000000000002"/><circle class="r" cx="288.29" cy="103.47" r="1.45"/><circle class="b1" cx="288.26" cy="103.30" r="1.9500000000000002"/><circle class="r" cx="289.44" cy="103.70" r="1.45"/><circle class="b1" cx="288.56" cy="103.98" r="1.9500000000000002"/><circle class="r" cx="290.59" cy="103.93" r="1.45"/><circle class="b1" cx="290.55" cy="104.10" r="1.9500000000000002"/><circle class="r" cx="291.74" cy="104.16" r="1.45"/><circle class="b1" cx="292.17" cy="104.61" r="1.9500000000000002"/><circle class="r" cx="292.89" cy="104.39" r="1.45"/><circle class="b1" cx="292.63" cy="105.25" r="1.9500000000000002"/><circle class="r" cx="294.04" cy="104.62" r="1.45"/><circle class="b1" cx="293.99" cy="105.42" r="1.9500000000000002"/><circle class="r" cx="295.19" cy="104.85" r="1.45"/><circle class="b1" cx="294.68" cy="104.66" r="1.9500000000000002"/><circle class="r" cx="296.35" cy="105.08" r="1.45"/><circle class="b1" cx="296.54" cy="105.40" r="1.9500000000000002"/><circle class="r" cx="297.50" cy="105.31" r="1.45"/><circle class="b1" cx="297.11" cy="105.32" r="1.9500000000000002"/><circle class="r" cx="298.65" cy="105.54" r="1.45"/><circle class="b1" cx="299.25" cy="105.53" r="1.9500000000000002"/><circle class="r" cx="299.80" cy="105.77" r="1.45"/><circle class="b1" cx="299.88" cy="105.99" r="1.9500000000000002"/><circle class="r" cx="300.95" cy="106.00" r="1.45"/><circle class="b1" cx="301.29" cy="106.22" r="1.9500000000000002"/><circle class="r" cx="302.10" cy="106.23" r="1.45"/><circle class="b1" cx="301.06" cy="105.74" r="1.9500000000000002"/><circle class="r" cx="303.25" cy="106.46" r="1.45"/><circle class="b1" cx="302.77" cy="106.76" r="1.9500000000000002"/><circle class="r" cx="304.40" cy="106.69" r="1.45"/><circle class="b1" cx="304.04" cy="107.04" r="1.9500000000000002"/><circle class="r" cx="305.55" cy="106.92" r="1.45"/><circle class="b1" cx="305.30" cy="108.34" r="1.9500000000000002"/><circle class="r" cx="306.70" cy="107.15" r="1.45"/><circle class="b1" cx="305.93" cy="107.13" r="1.9500000000000002"/><circle class="r" cx="307.85" cy="107.38" r="1.45"/><circle class="b1" cx="307.95" cy="107.81" r="1.9500000000000002"/><circle class="r" cx="309.00" cy="107.61" r="1.45"/><circle class="b1" cx="308.52" cy="107.96" r="1.9500000000000002"/><circle class="r" cx="310.16" cy="107.84" r="1.45"/><circle class="b1" cx="310.80" cy="106.93" r="1.9500000000000002"/><circle class="r" cx="311.31" cy="108.07" r="1.45"/><circle class="b1" cx="313.92" cy="108.60" r="1.9500000000000002"/><circle class="r" cx="312.46" cy="108.30" r="1.45"/><circle class="b1" cx="311.74" cy="108.42" r="1.9500000000000002"/><circle class="r" cx="313.61" cy="108.53" r="1.45"/><circle class="b1" cx="310.59" cy="110.98" r="1.9500000000000002"/><circle class="r" cx="314.76" cy="108.76" r="1.45"/><circle class="b1" cx="315.66" cy="107.60" r="1.9500000000000002"/><circle class="r" cx="315.91" cy="108.99" r="1.45"/><circle class="b1" cx="316.16" cy="109.19" r="1.9500000000000002"/><circle class="r" cx="317.06" cy="109.22" r="1.45"/><circle class="b1" cx="316.52" cy="108.02" r="1.9500000000000002"/><circle class="r" cx="318.21" cy="109.45" r="1.45"/><circle class="b1" cx="317.65" cy="108.70" r="1.9500000000000002"/><circle class="r" cx="319.36" cy="109.67" r="1.45"/><circle class="b1" cx="319.21" cy="109.63" r="1.9500000000000002"/><circle class="r" cx="320.51" cy="109.90" r="1.45"/><circle class="b1" cx="320.65" cy="111.13" r="1.9500000000000002"/><circle class="r" cx="321.66" cy="110.13" r="1.45"/><circle class="b1" cx="321.57" cy="110.41" r="1.9500000000000002"/><circle class="r" cx="322.82" cy="110.36" r="1.45"/><circle class="b1" cx="322.26" cy="109.72" r="1.9500000000000002"/><circle class="r" cx="323.97" cy="110.59" r="1.45"/><circle class="b1" cx="324.57" cy="110.88" r="1.9500000000000002"/><circle class="r" cx="325.12" cy="110.82" r="1.45"/><circle class="b1" cx="324.82" cy="111.08" r="1.9500000000000002"/><circle class="r" cx="326.27" cy="111.05" r="1.45"/><circle class="b1" cx="326.73" cy="111.08" r="1.9500000000000002"/><circle class="r" cx="327.42" cy="111.28" r="1.45"/><circle class="b1" cx="328.18" cy="111.08" r="1.9500000000000002"/><circle class="r" cx="328.57" cy="111.51" r="1.45"/><circle class="b1" cx="328.17" cy="111.57" r="1.9500000000000002"/><circle class="r" cx="329.72" cy="111.74" r="1.45"/><circle class="b1" cx="330.55" cy="111.53" r="1.9500000000000002"/><circle class="r" cx="330.87" cy="111.97" r="1.45"/><circle class="b1" cx="331.51" cy="112.06" r="1.9500000000000002"/><circle class="r" cx="332.02" cy="112.20" r="1.45"/><circle class="r" cx="333.17" cy="112.43" r="1.45"/><circle class="r" cx="334.32" cy="112.66" r="1.45"/><circle class="r" cx="335.47" cy="112.89" r="1.45"/><circle class="r" cx="336.63" cy="113.12" r="1.45"/><circle class="r" cx="337.78" cy="113.35" r="1.45"/><circle class="b1" cx="337.40" cy="113.55" r="1.9500000000000002"/><circle class="r" cx="338.93" cy="113.58" r="1.45"/><circle class="b1" cx="339.28" cy="113.40" r="1.9500000000000002"/><circle class="r" cx="340.08" cy="113.81" r="1.45"/><circle class="b1" cx="339.78" cy="114.30" r="1.9500000000000002"/><circle class="r" cx="341.23" cy="114.04" r="1.45"/><circle class="b1" cx="341.54" cy="114.97" r="1.9500000000000002"/><circle class="r" cx="342.38" cy="114.27" r="1.45"/><circle class="b1" cx="342.01" cy="114.26" r="1.9500000000000002"/><circle class="r" cx="343.53" cy="114.50" r="1.45"/><circle class="b1" cx="343.15" cy="115.44" r="1.9500000000000002"/><circle class="r" cx="344.68" cy="114.73" r="1.45"/><circle class="b1" cx="344.85" cy="115.64" r="1.9500000000000002"/><circle class="r" cx="345.83" cy="114.96" r="1.45"/><circle class="b1" cx="346.45" cy="114.77" r="1.9500000000000002"/><circle class="r" cx="346.98" cy="115.19" r="1.45"/><circle class="b1" cx="347.08" cy="115.75" r="1.9500000000000002"/><circle class="r" cx="348.13" cy="115.42" r="1.45"/><circle class="b1" cx="348.43" cy="115.32" r="1.9500000000000002"/><circle class="r" cx="349.28" cy="115.65" r="1.45"/><circle class="b1" cx="349.63" cy="117.09" r="1.9500000000000002"/><circle class="r" cx="269.88" cy="99.80" r="0.7"/><circle class="r" cx="272.18" cy="100.26" r="0.7"/><circle class="r" cx="274.48" cy="100.72" r="0.7"/><circle class="r" cx="276.78" cy="101.18" r="0.7"/><circle class="r" cx="279.08" cy="101.64" r="0.7"/><circle class="r" cx="281.38" cy="102.10" r="0.7"/><circle class="r" cx="283.69" cy="102.55" r="0.7"/><circle class="r" cx="285.99" cy="103.01" r="0.7"/><circle class="r" cx="288.29" cy="103.47" r="0.7"/><circle class="r" cx="290.59" cy="103.93" r="0.7"/><circle class="r" cx="292.89" cy="104.39" r="0.7"/><circle class="r" cx="295.19" cy="104.85" r="0.7"/><circle class="r" cx="297.50" cy="105.31" r="0.7"/><circle class="r" cx="299.80" cy="105.77" r="0.7"/><circle class="r" cx="302.10" cy="106.23" r="0.7"/><circle class="r" cx="304.40" cy="106.69" r="0.7"/><circle class="r" cx="306.70" cy="107.15" r="0.7"/><circle class="r" cx="309.00" cy="107.61" r="0.7"/><circle class="r" cx="311.31" cy="108.07" r="0.7"/><circle class="r" cx="313.61" cy="108.53" r="0.7"/><circle class="r" cx="315.91" cy="108.99" r="0.7"/><circle class="r" cx="318.21" cy="109.45" r="0.7"/><circle class="r" cx="320.51" cy="109.90" r="0.7"/><circle class="r" cx="322.82" cy="110.36" r="0.7"/><circle class="r" cx="325.12" cy="110.82" r="0.7"/><circle class="r" cx="327.42" cy="111.28" r="0.7"/><circle class="r" cx="329.72" cy="111.74" r="0.7"/><circle class="r" cx="332.02" cy="112.20" r="0.7"/><circle class="r" cx="334.32" cy="112.66" r="0.7"/><circle class="r" cx="336.63" cy="113.12" r="0.7"/><circle class="r" cx="338.93" cy="113.58" r="0.7"/><circle class="r" cx="341.23" cy="114.04" r="0.7"/><circle class="r" cx="343.53" cy="114.50" r="0.7"/><circle class="r" cx="345.83" cy="114.96" r="0.7"/><circle class="r" cx="348.13" cy="115.42" r="0.7"/>
<circle class="r" cx="268.05" cy="124.35" r="1.45"/><circle class="c1" cx="268.23" cy="124.41" r="2.2"/><circle class="r" cx="269.09" cy="124.15" r="1.45"/><circle class="c1" cx="270.01" cy="123.47" r="2.2"/><circle class="r" cx="270.13" cy="123.96" r="1.45"/><circle class="c1" cx="271.41" cy="123.94" r="2.2"/><circle class="r" cx="271.18" cy="123.77" r="1.45"/><circle class="c1" cx="271.68" cy="124.95" r="2.2"/><circle class="r" cx="272.22" cy="123.57" r="1.45"/><circle class="c1" cx="273.01" cy="123.74" r="2.2"/><circle class="r" cx="273.26" cy="123.38" r="1.45"/><circle class="c1" cx="272.91" cy="123.73" r="2.2"/><circle class="r" cx="274.30" cy="123.19" r="1.45"/><circle class="c1" cx="274.74" cy="123.20" r="2.2"/><circle class="r" cx="275.34" cy="122.99" r="1.45"/><circle class="c1" cx="275.61" cy="122.92" r="2.2"/><circle class="r" cx="276.38" cy="122.80" r="1.45"/><circle class="c1" cx="276.52" cy="123.30" r="2.2"/><circle class="r" cx="277.42" cy="122.61" r="1.45"/><circle class="c1" cx="277.68" cy="122.08" r="2.2"/><circle class="r" cx="278.46" cy="122.41" r="1.45"/><circle class="c1" cx="277.94" cy="122.50" r="2.2"/><circle class="r" cx="279.51" cy="122.22" r="1.45"/><circle class="c1" cx="279.69" cy="122.71" r="2.2"/><circle class="r" cx="280.55" cy="122.03" r="1.45"/><circle class="c1" cx="281.10" cy="122.13" r="2.2"/><circle class="r" cx="281.59" cy="121.83" r="1.45"/><circle class="c1" cx="281.61" cy="121.68" r="2.2"/><circle class="r" cx="282.63" cy="121.64" r="1.45"/><circle class="c1" cx="283.77" cy="122.11" r="2.2"/><circle class="r" cx="283.67" cy="121.45" r="1.45"/><circle class="c1" cx="283.65" cy="120.27" r="2.2"/><circle class="r" cx="284.71" cy="121.25" r="1.45"/><circle class="c1" cx="284.52" cy="122.62" r="2.2"/><circle class="r" cx="285.75" cy="121.06" r="1.45"/><circle class="c1" cx="285.69" cy="121.93" r="2.2"/><circle class="r" cx="286.80" cy="120.87" r="1.45"/><circle class="c1" cx="286.79" cy="120.91" r="2.2"/><circle class="r" cx="287.84" cy="120.67" r="1.45"/><circle class="c1" cx="288.51" cy="120.28" r="2.2"/><circle class="r" cx="288.88" cy="120.48" r="1.45"/><circle class="c1" cx="289.27" cy="120.54" r="2.2"/><circle class="r" cx="289.92" cy="120.29" r="1.45"/><circle class="c1" cx="291.23" cy="119.92" r="2.2"/><circle class="r" cx="290.96" cy="120.09" r="1.45"/><circle class="c1" cx="290.96" cy="120.68" r="2.2"/><circle class="r" cx="292.00" cy="119.90" r="1.45"/><circle class="c1" cx="292.32" cy="119.75" r="2.2"/><circle class="r" cx="293.04" cy="119.71" r="1.45"/><circle class="c1" cx="292.97" cy="118.69" r="2.2"/><circle class="r" cx="294.08" cy="119.51" r="1.45"/><circle class="c1" cx="293.70" cy="119.21" r="2.2"/><circle class="r" cx="295.13" cy="119.32" r="1.45"/><circle class="c1" cx="294.51" cy="120.05" r="2.2"/><circle class="r" cx="296.17" cy="119.13" r="1.45"/><circle class="c1" cx="296.47" cy="120.00" r="2.2"/><circle class="r" cx="297.21" cy="118.93" r="1.45"/><circle class="c1" cx="297.34" cy="118.99" r="2.2"/><circle class="r" cx="298.25" cy="118.74" r="1.45"/><circle class="r" cx="299.29" cy="118.55" r="1.45"/><circle class="r" cx="300.33" cy="118.35" r="1.45"/><circle class="r" cx="301.37" cy="118.16" r="1.45"/><circle class="r" cx="302.42" cy="117.97" r="1.45"/><circle class="r" cx="303.46" cy="117.77" r="1.45"/><circle class="r" cx="304.50" cy="117.58" r="1.45"/><circle class="r" cx="305.54" cy="117.39" r="1.45"/><circle class="r" cx="306.58" cy="117.19" r="1.45"/><circle class="r" cx="307.62" cy="117.00" r="1.45"/><circle class="c1" cx="306.92" cy="118.37" r="2.2"/><circle class="r" cx="308.66" cy="116.81" r="1.45"/><circle class="c1" cx="309.09" cy="116.77" r="2.2"/><circle class="r" cx="309.70" cy="116.61" r="1.45"/><circle class="c1" cx="310.24" cy="116.98" r="2.2"/><circle class="r" cx="310.75" cy="116.42" r="1.45"/><circle class="c1" cx="310.37" cy="116.55" r="2.2"/><circle class="r" cx="311.79" cy="116.23" r="1.45"/><circle class="c1" cx="311.19" cy="115.66" r="2.2"/><circle class="r" cx="312.83" cy="116.03" r="1.45"/><circle class="c1" cx="313.29" cy="115.37" r="2.2"/><circle class="r" cx="313.87" cy="115.84" r="1.45"/><circle class="c1" cx="314.12" cy="115.45" r="2.2"/><circle class="r" cx="314.91" cy="115.65" r="1.45"/><circle class="c1" cx="314.28" cy="116.29" r="2.2"/>
<circle class="r" cx="304.04" cy="68.72" r="1.45"/><circle class="r" cx="304.29" cy="69.75" r="1.45"/><circle class="r" cx="304.54" cy="70.77" r="1.45"/><circle class="r" cx="304.79" cy="71.80" r="1.45"/><circle class="r" cx="305.03" cy="72.82" r="1.45"/><circle class="r" cx="305.28" cy="73.84" r="1.45"/><circle class="b1" cx="305.29" cy="74.26" r="1.9500000000000002"/><circle class="r" cx="305.53" cy="74.87" r="1.45"/><circle class="b1" cx="306.07" cy="74.39" r="1.9500000000000002"/><circle class="r" cx="305.78" cy="75.89" r="1.45"/><circle class="b1" cx="304.42" cy="76.94" r="1.9500000000000002"/><circle class="r" cx="306.03" cy="76.92" r="1.45"/><circle class="b1" cx="306.15" cy="77.91" r="1.9500000000000002"/><circle class="r" cx="306.28" cy="77.94" r="1.45"/><circle class="b1" cx="306.54" cy="77.93" r="1.9500000000000002"/><circle class="r" cx="306.53" cy="78.96" r="1.45"/><circle class="b1" cx="306.97" cy="78.01" r="1.9500000000000002"/><circle class="r" cx="306.78" cy="79.99" r="1.45"/><circle class="b1" cx="307.22" cy="80.10" r="1.9500000000000002"/><circle class="r" cx="307.03" cy="81.01" r="1.45"/><circle class="b1" cx="307.58" cy="82.39" r="1.9500000000000002"/><circle class="r" cx="307.28" cy="82.04" r="1.45"/><circle class="b1" cx="307.76" cy="81.81" r="1.9500000000000002"/><circle class="r" cx="307.53" cy="83.06" r="1.45"/><circle class="b1" cx="307.12" cy="83.20" r="1.9500000000000002"/><circle class="r" cx="307.77" cy="84.09" r="1.45"/><circle class="b1" cx="308.02" cy="84.00" r="1.9500000000000002"/><circle class="r" cx="308.02" cy="85.11" r="1.45"/><circle class="b1" cx="307.74" cy="84.85" r="1.9500000000000002"/><circle class="r" cx="308.27" cy="86.13" r="1.45"/><circle class="b1" cx="308.51" cy="86.42" r="1.9500000000000002"/><circle class="r" cx="308.52" cy="87.16" r="1.45"/><circle class="b1" cx="307.87" cy="86.69" r="1.9500000000000002"/><circle class="r" cx="308.77" cy="88.18" r="1.45"/><circle class="b1" cx="309.26" cy="88.22" r="1.9500000000000002"/><circle class="r" cx="309.02" cy="89.21" r="1.45"/><circle class="b1" cx="309.21" cy="89.64" r="1.9500000000000002"/><circle class="r" cx="309.27" cy="90.23" r="1.45"/><circle class="b1" cx="309.46" cy="89.56" r="1.9500000000000002"/><circle class="r" cx="309.52" cy="91.25" r="1.45"/><circle class="b1" cx="309.96" cy="91.58" r="1.9500000000000002"/><circle class="r" cx="309.77" cy="92.28" r="1.45"/><circle class="b1" cx="309.61" cy="92.09" r="1.9500000000000002"/><circle class="r" cx="310.02" cy="93.30" r="1.45"/><circle class="b1" cx="309.83" cy="92.77" r="1.9500000000000002"/><circle class="r" cx="310.27" cy="94.33" r="1.45"/><circle class="b1" cx="309.78" cy="95.60" r="1.9500000000000002"/><circle class="r" cx="310.51" cy="95.35" r="1.45"/><circle class="b1" cx="310.04" cy="95.14" r="1.9500000000000002"/><circle class="r" cx="310.76" cy="96.37" r="1.45"/><circle class="b1" cx="311.98" cy="94.98" r="1.9500000000000002"/><circle class="r" cx="311.01" cy="97.40" r="1.45"/><circle class="b1" cx="311.30" cy="98.24" r="1.9500000000000002"/><circle class="r" cx="311.26" cy="98.42" r="1.45"/><circle class="b1" cx="312.45" cy="98.47" r="1.9500000000000002"/><circle class="r" cx="311.51" cy="99.45" r="1.45"/><circle class="b1" cx="311.75" cy="98.94" r="1.9500000000000002"/><circle class="r" cx="311.76" cy="100.47" r="1.45"/><circle class="b1" cx="311.44" cy="100.55" r="1.9500000000000002"/><circle class="r" cx="312.01" cy="101.50" r="1.45"/><circle class="b1" cx="309.70" cy="100.72" r="1.9500000000000002"/><circle class="r" cx="312.26" cy="102.52" r="1.45"/><circle class="b1" cx="312.91" cy="102.93" r="1.9500000000000002"/><circle class="r" cx="312.51" cy="103.54" r="1.45"/><circle class="b1" cx="312.20" cy="103.53" r="1.9500000000000002"/><circle class="r" cx="312.76" cy="104.57" r="1.45"/><circle class="b1" cx="311.51" cy="104.40" r="1.9500000000000002"/><circle class="r" cx="313.01" cy="105.59" r="1.45"/><circle class="b1" cx="312.01" cy="105.65" r="1.9500000000000002"/><circle class="r" cx="313.25" cy="106.62" r="1.45"/><circle class="b1" cx="313.35" cy="106.89" r="1.9500000000000002"/><circle class="r" cx="313.50" cy="107.64" r="1.45"/><circle class="b1" cx="314.13" cy="107.54" r="1.9500000000000002"/><circle class="r" cx="313.75" cy="108.66" r="1.45"/><circle class="b1" cx="314.24" cy="108.42" r="1.9500000000000002"/><circle class="r" cx="314.00" cy="109.69" r="1.45"/><circle class="b1" cx="313.26" cy="108.98" r="1.9500000000000002"/><circle class="r" cx="314.25" cy="110.71" r="1.45"/><circle class="b1" cx="314.34" cy="110.33" r="1.9500000000000002"/><circle class="r" cx="314.50" cy="111.74" r="1.45"/><circle class="b1" cx="315.09" cy="110.89" r="1.9500000000000002"/><circle class="r" cx="314.75" cy="112.76" r="1.45"/><circle class="b1" cx="314.86" cy="113.31" r="1.9500000000000002"/><circle class="r" cx="315.00" cy="113.78" r="1.45"/><circle class="b1" cx="314.79" cy="113.97" r="1.9500000000000002"/><circle class="r" cx="315.25" cy="114.81" r="1.45"/><circle class="b1" cx="315.06" cy="113.65" r="1.9500000000000002"/><circle class="r" cx="315.50" cy="115.83" r="1.45"/><circle class="b1" cx="314.64" cy="115.48" r="1.9500000000000002"/><circle class="r" cx="315.75" cy="116.86" r="1.45"/><circle class="b1" cx="315.89" cy="116.62" r="1.9500000000000002"/><circle class="r" cx="315.99" cy="117.88" r="1.45"/><circle class="b1" cx="315.26" cy="117.64" r="1.9500000000000002"/><circle class="r" cx="316.24" cy="118.91" r="1.45"/><circle class="b1" cx="315.61" cy="119.26" r="1.9500000000000002"/><circle class="r" cx="316.49" cy="119.93" r="1.45"/><circle class="b1" cx="316.17" cy="119.43" r="1.9500000000000002"/><circle class="r" cx="316.74" cy="120.95" r="1.45"/><circle class="b1" cx="317.50" cy="121.07" r="1.9500000000000002"/><circle class="r" cx="316.99" cy="121.98" r="1.45"/><circle class="b1" cx="317.08" cy="122.91" r="1.9500000000000002"/><circle class="r" cx="317.24" cy="123.00" r="1.45"/><circle class="b1" cx="316.91" cy="123.09" r="1.9500000000000002"/><circle class="r" cx="317.49" cy="124.03" r="1.45"/><circle class="b1" cx="317.71" cy="124.21" r="1.9500000000000002"/><circle class="r" cx="317.74" cy="125.05" r="1.45"/><circle class="b1" cx="318.24" cy="125.37" r="1.9500000000000002"/><circle class="r" cx="317.99" cy="126.07" r="1.45"/><circle class="b1" cx="318.74" cy="126.27" r="1.9500000000000002"/><circle class="r" cx="318.24" cy="127.10" r="1.45"/><circle class="b1" cx="318.14" cy="126.15" r="1.9500000000000002"/><circle class="r" cx="318.49" cy="128.12" r="1.45"/><circle class="b1" cx="319.10" cy="128.34" r="1.9500000000000002"/><circle class="r" cx="318.73" cy="129.15" r="1.45"/><circle class="b1" cx="319.02" cy="129.06" r="1.9500000000000002"/><circle class="r" cx="318.98" cy="130.17" r="1.45"/><circle class="b1" cx="319.88" cy="130.15" r="1.9500000000000002"/><circle class="r" cx="319.23" cy="131.19" r="1.45"/><circle class="b1" cx="319.77" cy="132.65" r="1.9500000000000002"/><circle class="r" cx="319.48" cy="132.22" r="1.45"/><circle class="b1" cx="320.66" cy="131.89" r="1.9500000000000002"/><circle class="r" cx="319.73" cy="133.24" r="1.45"/><circle class="b1" cx="320.03" cy="132.01" r="1.9500000000000002"/><circle class="r" cx="319.98" cy="134.27" r="1.45"/><circle class="b1" cx="319.43" cy="135.01" r="1.9500000000000002"/><circle class="r" cx="320.23" cy="135.29" r="1.45"/><circle class="b1" cx="320.58" cy="135.02" r="1.9500000000000002"/><circle class="r" cx="320.48" cy="136.32" r="1.45"/><circle class="b1" cx="320.88" cy="136.83" r="1.9500000000000002"/><circle class="r" cx="320.73" cy="137.34" r="1.45"/><circle class="b1" cx="320.84" cy="137.75" r="1.9500000000000002"/><circle class="r" cx="320.98" cy="138.36" r="1.45"/><circle class="b1" cx="320.91" cy="138.50" r="1.9500000000000002"/><circle class="r" cx="321.23" cy="139.39" r="1.45"/><circle class="b1" cx="321.91" cy="140.48" r="1.9500000000000002"/><circle class="r" cx="304.04" cy="68.72" r="0.7"/><circle class="r" cx="304.54" cy="70.77" r="0.7"/><circle class="r" cx="305.03" cy="72.82" r="0.7"/><circle class="r" cx="305.53" cy="74.87" r="0.7"/><circle class="r" cx="306.03" cy="76.92" r="0.7"/><circle class="r" cx="306.53" cy="78.96" r="0.7"/><circle class="r" cx="307.03" cy="81.01" r="0.7"/><circle class="r" cx="307.53" cy="83.06" r="0.7"/><circle class="r" cx="308.02" cy="85.11" r="0.7"/><circle class="r" cx="308.52" cy="87.16" r="0.7"/><circle class="r" cx="309.02" cy="89.21" r="0.7"/><circle class="r" cx="309.52" cy="91.25" r="0.7"/><circle class="r" cx="310.02" cy="93.30" r="0.7"/><circle class="r" cx="310.51" cy="95.35" r="0.7"/><circle class="r" cx="311.01" cy="97.40" r="0.7"/><circle class="r" cx="311.51" cy="99.45" r="0.7"/><circle class="r" cx="312.01" cy="101.50" r="0.7"/><circle class="r" cx="312.51" cy="103.54" r="0.7"/><circle class="r" cx="313.01" cy="105.59" r="0.7"/><circle class="r" cx="313.50" cy="107.64" r="0.7"/><circle class="r" cx="314.00" cy="109.69" r="0.7"/><circle class="r" cx="314.50" cy="111.74" r="0.7"/><circle class="r" cx="315.00" cy="113.78" r="0.7"/><circle class="r" cx="315.50" cy="115.83" r="0.7"/><circle class="r" cx="315.99" cy="117.88" r="0.7"/><circle class="r" cx="316.49" cy="119.93" r="0.7"/><circle class="r" cx="316.99" cy="121.98" r="0.7"/><circle class="r" cx="317.49" cy="124.03" r="0.7"/><circle class="r" cx="317.99" cy="126.07" r="0.7"/><circle class="r" cx="318.49" cy="128.12" r="0.7"/><circle class="r" cx="318.98" cy="130.17" r="0.7"/><circle class="r" cx="319.48" cy="132.22" r="0.7"/><circle class="r" cx="319.98" cy="134.27" r="0.7"/><circle class="r" cx="320.48" cy="136.32" r="0.7"/><circle class="r" cx="320.98" cy="138.36" r="0.7"/>

</g>
<g>
<path d="M400.60 146.10H540.80M400.60 146.10v-1.8M435.65 146.10v-1.8M470.70 146.10v-1.8M505.75 146.10v-1.8M540.80 146.10v-1.8" fill="none" stroke="#bcbcbc" stroke-width="1"/>
<path d="M400.60 21.80V146.60M400.60 146.10h1.8M400.60 115.02h1.8M400.60 83.95h1.8M400.60 52.88h1.8M400.60 21.80h1.8" fill="none" stroke="#a8a8a8" stroke-width="1"/>
<text transform="translate(400.60,156.00) scale(0.655,1)" text-anchor="middle">-1000</text>
<text transform="translate(435.65,156.00) scale(0.655,1)" text-anchor="middle">-500</text>
<text transform="translate(470.70,156.00) scale(0.655,1)" text-anchor="middle">0</text>
<text transform="translate(505.75,156.00) scale(0.655,1)" text-anchor="middle">500</text>
<text transform="translate(540.80,156.00) scale(0.655,1)" text-anchor="middle">1000</text>
<text transform="translate(398.80,148.40) scale(0.655,1)" text-anchor="end">-1000</text>
<text transform="translate(398.80,117.32) scale(0.655,1)" text-anchor="end">-500</text>
<text transform="translate(398.80,86.25) scale(0.655,1)" text-anchor="end">0</text>
<text transform="translate(398.80,55.17) scale(0.655,1)" text-anchor="end">500</text>
<text transform="translate(398.80,24.10) scale(0.655,1)" text-anchor="end">1000</text>
<text transform="translate(470.70,14.40) scale(0.655,1)" text-anchor="middle">(c) Pd=0.7</text>
<text transform="translate(470.30,168.70) scale(0.655,1)" text-anchor="middle">X Position</text>
<text transform="translate(380.60,84.25) rotate(-90) scale(0.7,0.93)" text-anchor="middle" stroke="none" fill="#2a2a2a" letter-spacing="1.9">Y Position</text>
<path d="M433.03 21.14l1.8 2.4M433.03 23.54l1.8 -2.4M436.75 28.23l1.8 2.4M436.75 30.63l1.8 -2.4M494.48 27.56l1.8 2.4M494.48 29.96l1.8 -2.4M532.29 26.21l1.8 2.4M532.29 28.61l1.8 -2.4M465.11 31.95l1.8 2.4M465.11 34.35l1.8 -2.4M426.62 34.31l1.8 2.4M426.62 36.71l1.8 -2.4M498.87 34.31l1.8 2.4M498.87 36.71l1.8 -2.4M539.38 34.31l1.8 2.4M539.38 36.71l1.8 -2.4M409.06 45.79l1.8 2.4M409.06 48.19l1.8 -2.4M413.45 45.79l1.8 2.4M413.45 48.19l1.8 -2.4M418.52 46.47l1.8 2.4M418.52 48.87l1.8 -2.4M465.11 49.50l1.8 2.4M465.11 51.90l1.8 -2.4M481.99 52.20l1.8 2.4M481.99 54.60l1.8 -2.4M520.81 51.53l1.8 2.4M520.81 53.93l1.8 -2.4M432.36 54.23l1.8 2.4M432.36 56.63l1.8 -2.4M438.10 57.27l1.8 2.4M438.10 59.67l1.8 -2.4M497.86 54.23l1.8 2.4M497.86 56.63l1.8 -2.4M512.37 62.67l1.8 2.4M512.37 65.07l1.8 -2.4M419.19 71.11l1.8 2.4M419.19 73.51l1.8 -2.4M538.03 75.50l1.8 2.4M538.03 77.90l1.8 -2.4M424.26 82.93l1.8 2.4M424.26 85.33l1.8 -2.4M416.83 85.29l1.8 2.4M416.83 87.69l1.8 -2.4M402.99 87.32l1.8 2.4M402.99 89.72l1.8 -2.4M422.23 88.33l1.8 2.4M422.23 90.73l1.8 -2.4M434.39 87.32l1.8 2.4M434.39 89.72l1.8 -2.4M476.92 86.30l1.8 2.4M476.92 88.70l1.8 -2.4M474.22 93.73l1.8 2.4M474.22 96.13l1.8 -2.4M506.30 93.73l1.8 2.4M506.30 96.13l1.8 -2.4M468.48 98.79l1.8 2.4M468.48 101.19l1.8 -2.4M506.30 99.47l1.8 2.4M506.30 101.87l1.8 -2.4M523.85 100.48l1.8 2.4M523.85 102.88l1.8 -2.4M417.50 103.52l1.8 2.4M417.50 105.92l1.8 -2.4M518.11 104.53l1.8 2.4M518.11 106.93l1.8 -2.4M407.38 109.60l1.8 2.4M407.38 112.00l1.8 -2.4M435.40 110.95l1.8 2.4M435.40 113.35l1.8 -2.4M480.30 111.62l1.8 2.4M480.30 114.02l1.8 -2.4M506.30 113.99l1.8 2.4M506.30 116.39l1.8 -2.4M439.45 116.35l1.8 2.4M439.45 118.75l1.8 -2.4M400.62 118.04l1.8 2.4M400.62 120.44l1.8 -2.4M534.99 117.36l1.8 2.4M534.99 119.76l1.8 -2.4M475.24 126.48l1.8 2.4M475.24 128.88l1.8 -2.4M510.35 126.82l1.8 2.4M510.35 129.22l1.8 -2.4M439.45 132.56l1.8 2.4M439.45 134.96l1.8 -2.4M481.65 144.37l1.8 2.4M481.65 146.77l1.8 -2.4" fill="none" stroke="#222" stroke-width="0.7"/>
<circle class="r" cx="454.44" cy="99.80" r="1.45"/><circle class="r" cx="455.59" cy="100.03" r="1.45"/><circle class="r" cx="456.74" cy="100.26" r="1.45"/><circle class="r" cx="457.89" cy="100.49" r="1.45"/><circle class="r" cx="459.04" cy="100.72" r="1.45"/><circle class="r" cx="460.19" cy="100.95" r="1.45"/><circle class="r" cx="461.34" cy="101.18" r="1.45"/><circle class="r" cx="462.49" cy="101.41" r="1.45"/><circle class="b1" cx="462.82" cy="101.15" r="1.9500000000000002"/><circle class="r" cx="463.64" cy="101.64" r="1.45"/><circle class="b1" cx="464.28" cy="102.21" r="1.9500000000000002"/><circle class="r" cx="464.79" cy="101.87" r="1.45"/><circle class="b1" cx="463.88" cy="102.96" r="1.9500000000000002"/><circle class="r" cx="465.94" cy="102.10" r="1.45"/><circle class="b1" cx="464.67" cy="101.40" r="1.9500000000000002"/><circle class="r" cx="467.09" cy="102.32" r="1.45"/><circle class="b1" cx="468.07" cy="102.28" r="1.9500000000000002"/><circle class="r" cx="468.24" cy="102.55" r="1.45"/><circle class="b1" cx="468.40" cy="102.03" r="1.9500000000000002"/><circle class="r" cx="469.39" cy="102.78" r="1.45"/><circle class="b1" cx="468.80" cy="102.48" r="1.9500000000000002"/><circle class="r" cx="470.54" cy="103.01" r="1.45"/><circle class="b1" cx="470.13" cy="103.17" r="1.9500000000000002"/><circle class="r" cx="471.69" cy="103.24" r="1.45"/><circle class="b1" cx="472.92" cy="103.63" r="1.9500000000000002"/><circle class="r" cx="472.84" cy="103.47" r="1.45"/><circle class="b1" cx="471.55" cy="101.93" r="1.9500000000000002"/><circle class="r" cx="473.99" cy="103.70" r="1.45"/><circle class="b1" cx="473.67" cy="103.18" r="1.9500000000000002"/><circle class="r" cx="475.14" cy="103.93" r="1.45"/><circle class="b1" cx="476.08" cy="104.14" r="1.9500000000000002"/><circle class="r" cx="476.29" cy="104.16" r="1.45"/><circle class="b1" cx="475.52" cy="104.51" r="1.9500000000000002"/><circle class="r" cx="477.44" cy="104.39" r="1.45"/><circle class="b1" cx="477.78" cy="104.76" r="1.9500000000000002"/><circle class="r" cx="478.59" cy="104.62" r="1.45"/><circle class="b1" cx="478.64" cy="104.63" r="1.9500000000000002"/><circle class="r" cx="479.74" cy="104.85" r="1.45"/><circle class="b1" cx="480.25" cy="105.26" r="1.9500000000000002"/><circle class="r" cx="480.89" cy="105.08" r="1.45"/><circle class="b1" cx="480.08" cy="104.61" r="1.9500000000000002"/><circle class="r" cx="482.04" cy="105.31" r="1.45"/><circle class="b1" cx="481.47" cy="104.75" r="1.9500000000000002"/><circle class="r" cx="483.19" cy="105.54" r="1.45"/><circle class="b1" cx="483.67" cy="105.34" r="1.9500000000000002"/><circle class="r" cx="484.34" cy="105.77" r="1.45"/><circle class="b1" cx="485.16" cy="106.34" r="1.9500000000000002"/><circle class="r" cx="485.49" cy="106.00" r="1.45"/><circle class="b1" cx="485.63" cy="105.30" r="1.9500000000000002"/><circle class="r" cx="486.64" cy="106.23" r="1.45"/><circle class="b1" cx="487.64" cy="106.30" r="1.9500000000000002"/><circle class="r" cx="487.79" cy="106.46" r="1.45"/><circle class="b1" cx="487.19" cy="107.27" r="1.9500000000000002"/><circle class="r" cx="488.94" cy="106.69" r="1.45"/><circle class="b1" cx="489.99" cy="106.25" r="1.9500000000000002"/><circle class="r" cx="490.09" cy="106.92" r="1.45"/><circle class="b1" cx="490.26" cy="106.80" r="1.9500000000000002"/><circle class="r" cx="491.24" cy="107.15" r="1.45"/><circle class="b1" cx="490.81" cy="107.44" r="1.9500000000000002"/><circle class="r" cx="492.39" cy="107.38" r="1.45"/><circle class="b1" cx="492.41" cy="107.27" r="1.9500000000000002"/><circle class="r" cx="493.54" cy="107.61" r="1.45"/><circle class="b1" cx="493.90" cy="107.47" r="1.9500000000000002"/><circle class="r" cx="494.69" cy="107.84" r="1.45"/><circle class="b1" cx="494.04" cy="107.31" r="1.9500000000000002"/><circle class="r" cx="495.84" cy="108.07" r="1.45"/><circle class="b1" cx="496.01" cy="107.67" r="1.9500000000000002"/><circle class="r" cx="496.99" cy="108.30" r="1.45"/><circle class="b1" cx="496.92" cy="108.51" r="1.9500000000000002"/><circle class="r" cx="498.14" cy="108.53" r="1.45"/><circle class="b1" cx="498.37" cy="107.44" r="1.9500000000000002"/><circle class="r" cx="499.29" cy="108.76" r="1.45"/><circle class="b1" cx="500.86" cy="106.43" r="1.9500000000000002"/><circle class="r" cx="500.44" cy="108.99" r="1.45"/><circle class="b1" cx="500.40" cy="108.22" r="1.9500000000000002"/><circle class="r" cx="501.59" cy="109.22" r="1.45"/><circle class="b1" cx="501.99" cy="109.53" r="1.9500000000000002"/><circle class="r" cx="502.74" cy="109.45" r="1.45"/><circle class="b1" cx="502.14" cy="110.45" r="1.9500000000000002"/><circle class="r" cx="503.89" cy="109.67" r="1.45"/><circle class="b1" cx="504.51" cy="108.76" r="1.9500000000000002"/><circle class="r" cx="505.04" cy="109.90" r="1.45"/><circle class="b1" cx="504.33" cy="109.66" r="1.9500000000000002"/><circle class="r" cx="506.19" cy="110.13" r="1.45"/><circle class="b1" cx="505.65" cy="110.05" r="1.9500000000000002"/><circle class="r" cx="507.34" cy="110.36" r="1.45"/><circle class="b1" cx="507.82" cy="110.26" r="1.9500000000000002"/><circle class="r" cx="508.49" cy="110.59" r="1.45"/><circle class="b1" cx="509.03" cy="110.65" r="1.9500000000000002"/><circle class="r" cx="509.64" cy="110.82" r="1.45"/><circle class="b1" cx="509.57" cy="109.14" r="1.9500000000000002"/><circle class="r" cx="510.79" cy="111.05" r="1.45"/><circle class="r" cx="511.94" cy="111.28" r="1.45"/><circle class="r" cx="513.09" cy="111.51" r="1.45"/><circle class="r" cx="514.24" cy="111.74" r="1.45"/><circle class="r" cx="515.39" cy="111.97" r="1.45"/><circle class="r" cx="516.54" cy="112.20" r="1.45"/><circle class="r" cx="517.69" cy="112.43" r="1.45"/><circle class="r" cx="518.84" cy="112.66" r="1.45"/><circle class="b1" cx="518.17" cy="113.94" r="1.9500000000000002"/><circle class="r" cx="519.99" cy="112.89" r="1.45"/><circle class="b1" cx="520.09" cy="114.41" r="1.9500000000000002"/><circle class="r" cx="521.14" cy="113.12" r="1.45"/><circle class="b1" cx="520.78" cy="112.15" r="1.9500000000000002"/><circle class="r" cx="522.29" cy="113.35" r="1.45"/><circle class="b1" cx="520.97" cy="113.60" r="1.9500000000000002"/><circle class="r" cx="523.44" cy="113.58" r="1.45"/><circle class="b1" cx="523.91" cy="112.99" r="1.9500000000000002"/><circle class="r" cx="524.59" cy="113.81" r="1.45"/><circle class="b1" cx="524.05" cy="113.55" r="1.9500000000000002"/><circle class="r" cx="525.74" cy="114.04" r="1.45"/><circle class="b1" cx="525.54" cy="113.84" r="1.9500000000000002"/><circle class="r" cx="526.89" cy="114.27" r="1.45"/><circle class="b1" cx="526.99" cy="114.40" r="1.9500000000000002"/><circle class="r" cx="528.04" cy="114.50" r="1.45"/><circle class="b1" cx="528.62" cy="114.22" r="1.9500000000000002"/><circle class="r" cx="529.19" cy="114.73" r="1.45"/><circle class="b1" cx="529.39" cy="114.76" r="1.9500000000000002"/><circle class="r" cx="530.34" cy="114.96" r="1.45"/><circle class="b1" cx="529.62" cy="114.15" r="1.9500000000000002"/><circle class="r" cx="531.49" cy="115.19" r="1.45"/><circle class="b1" cx="532.35" cy="115.56" r="1.9500000000000002"/><circle class="r" cx="532.64" cy="115.42" r="1.45"/><circle class="b1" cx="533.17" cy="114.24" r="1.9500000000000002"/><circle class="r" cx="533.79" cy="115.65" r="1.45"/><circle class="b1" cx="535.08" cy="116.21" r="1.9500000000000002"/><circle class="r" cx="454.44" cy="99.80" r="0.7"/><circle class="r" cx="456.74" cy="100.26" r="0.7"/><circle class="r" cx="459.04" cy="100.72" r="0.7"/><circle class="r" cx="461.34" cy="101.18" r="0.7"/><circle class="r" cx="463.64" cy="101.64" r="0.7"/><circle class="r" cx="465.94" cy="102.10" r="0.7"/><circle class="r" cx="468.24" cy="102.55" r="0.7"/><circle class="r" cx="470.54" cy="103.01" r="0.7"/><circle class="r" cx="472.84" cy="103.47" r="0.7"/><circle class="r" cx="475.14" cy="103.93" r="0.7"/><circle class="r" cx="477.44" cy="104.39" r="0.7"/><circle class="r" cx="479.74" cy="104.85" r="0.7"/><circle class="r" cx="482.04" cy="105.31" r="0.7"/><circle class="r" cx="484.34" cy="105.77" r="0.7"/><circle class="r" cx="486.64" cy="106.23" r="0.7"/><circle class="r" cx="488.94" cy="106.69" r="0.7"/><circle class="r" cx="491.24" cy="107.15" r="0.7"/><circle class="r" cx="493.54" cy="107.61" r="0.7"/><circle class="r" cx="495.84" cy="108.07" r="0.7"/><circle class="r" cx="498.14" cy="108.53" r="0.7"/><circle class="r" cx="500.44" cy="108.99" r="0.7"/><circle class="r" cx="502.74" cy="109.45" r="0.7"/><circle class="r" cx="505.04" cy="109.90" r="0.7"/><circle class="r" cx="507.34" cy="110.36" r="0.7"/><circle class="r" cx="509.64" cy="110.82" r="0.7"/><circle class="r" cx="511.94" cy="111.28" r="0.7"/><circle class="r" cx="514.24" cy="111.74" r="0.7"/><circle class="r" cx="516.54" cy="112.20" r="0.7"/><circle class="r" cx="518.84" cy="112.66" r="0.7"/><circle class="r" cx="521.14" cy="113.12" r="0.7"/><circle class="r" cx="523.44" cy="113.58" r="0.7"/><circle class="r" cx="525.74" cy="114.04" r="0.7"/><circle class="r" cx="528.04" cy="114.50" r="0.7"/><circle class="r" cx="530.34" cy="114.96" r="0.7"/><circle class="r" cx="532.64" cy="115.42" r="0.7"/>
<circle class="r" cx="452.61" cy="124.35" r="1.45"/><circle class="c1" cx="452.93" cy="124.23" r="2.2"/><circle class="r" cx="453.65" cy="124.15" r="1.45"/><circle class="c1" cx="453.80" cy="124.27" r="2.2"/><circle class="r" cx="454.70" cy="123.96" r="1.45"/><circle class="c1" cx="455.07" cy="123.04" r="2.2"/><circle class="r" cx="455.74" cy="123.77" r="1.45"/><circle class="c1" cx="455.35" cy="123.34" r="2.2"/><circle class="r" cx="456.78" cy="123.57" r="1.45"/><circle class="c1" cx="457.74" cy="124.25" r="2.2"/><circle class="r" cx="457.82" cy="123.38" r="1.45"/><circle class="c1" cx="457.51" cy="124.05" r="2.2"/><circle class="r" cx="458.86" cy="123.19" r="1.45"/><circle class="c1" cx="458.80" cy="124.57" r="2.2"/><circle class="r" cx="459.90" cy="122.99" r="1.45"/><circle class="c1" cx="459.48" cy="123.45" r="2.2"/><circle class="r" cx="460.94" cy="122.80" r="1.45"/><circle class="c1" cx="459.57" cy="122.77" r="2.2"/><circle class="r" cx="461.98" cy="122.61" r="1.45"/><circle class="c1" cx="462.69" cy="122.75" r="2.2"/><circle class="r" cx="463.02" cy="122.41" r="1.45"/><circle class="c1" cx="463.11" cy="121.77" r="2.2"/><circle class="r" cx="464.06" cy="122.22" r="1.45"/><circle class="c1" cx="463.59" cy="122.11" r="2.2"/><circle class="r" cx="465.10" cy="122.03" r="1.45"/><circle class="c1" cx="466.19" cy="122.73" r="2.2"/><circle class="r" cx="466.14" cy="121.83" r="1.45"/><circle class="c1" cx="466.61" cy="121.84" r="2.2"/><circle class="r" cx="467.18" cy="121.64" r="1.45"/><circle class="c1" cx="467.25" cy="121.63" r="2.2"/><circle class="r" cx="468.22" cy="121.45" r="1.45"/><circle class="c1" cx="466.98" cy="121.51" r="2.2"/><circle class="r" cx="469.26" cy="121.25" r="1.45"/><circle class="c1" cx="468.62" cy="121.28" r="2.2"/><circle class="r" cx="470.30" cy="121.06" r="1.45"/><circle class="c1" cx="470.19" cy="122.74" r="2.2"/><circle class="r" cx="471.34" cy="120.87" r="1.45"/><circle class="c1" cx="471.58" cy="121.93" r="2.2"/><circle class="r" cx="472.39" cy="120.67" r="1.45"/><circle class="c1" cx="473.15" cy="121.31" r="2.2"/><circle class="r" cx="473.43" cy="120.48" r="1.45"/><circle class="c1" cx="473.68" cy="119.43" r="2.2"/><circle class="r" cx="474.47" cy="120.29" r="1.45"/><circle class="c1" cx="474.01" cy="119.81" r="2.2"/><circle class="r" cx="475.51" cy="120.09" r="1.45"/><circle class="c1" cx="474.35" cy="121.00" r="2.2"/><circle class="r" cx="476.55" cy="119.90" r="1.45"/><circle class="c1" cx="476.67" cy="119.80" r="2.2"/><circle class="r" cx="477.59" cy="119.71" r="1.45"/><circle class="c1" cx="477.46" cy="121.21" r="2.2"/><circle class="r" cx="478.63" cy="119.51" r="1.45"/><circle class="c1" cx="477.57" cy="120.51" r="2.2"/><circle class="r" cx="479.67" cy="119.32" r="1.45"/><circle class="c1" cx="478.83" cy="119.53" r="2.2"/><circle class="r" cx="480.71" cy="119.13" r="1.45"/><circle class="c1" cx="480.73" cy="118.12" r="2.2"/><circle class="r" cx="481.75" cy="118.93" r="1.45"/><circle class="c1" cx="481.56" cy="119.29" r="2.2"/><circle class="r" cx="482.79" cy="118.74" r="1.45"/><circle class="c1" cx="482.19" cy="117.76" r="2.2"/><circle class="r" cx="483.83" cy="118.55" r="1.45"/><circle class="c1" cx="482.71" cy="119.00" r="2.2"/><circle class="r" cx="484.87" cy="118.35" r="1.45"/><circle class="c1" cx="485.42" cy="118.91" r="2.2"/><circle class="r" cx="485.91" cy="118.16" r="1.45"/><circle class="c1" cx="485.95" cy="118.62" r="2.2"/><circle class="r" cx="486.95" cy="117.97" r="1.45"/><circle class="c1" cx="486.56" cy="116.68" r="2.2"/><circle class="r" cx="487.99" cy="117.77" r="1.45"/><circle class="c1" cx="488.29" cy="118.21" r="2.2"/><circle class="r" cx="489.04" cy="117.58" r="1.45"/><circle class="c1" cx="488.62" cy="117.52" r="2.2"/><circle class="r" cx="490.08" cy="117.39" r="1.45"/><circle class="c1" cx="490.78" cy="119.15" r="2.2"/><circle class="r" cx="491.12" cy="117.19" r="1.45"/><circle class="c1" cx="492.55" cy="118.26" r="2.2"/><circle class="r" cx="492.16" cy="117.00" r="1.45"/><circle class="c1" cx="490.66" cy="118.34" r="2.2"/><circle class="r" cx="493.20" cy="116.81" r="1.45"/><circle class="c1" cx="493.12" cy="116.06" r="2.2"/><circle class="r" cx="494.24" cy="116.61" r="1.45"/><circle class="c1" cx="494.02" cy="116.36" r="2.2"/><circle class="r" cx="495.28" cy="116.42" r="1.45"/><circle class="c1" cx="495.14" cy="116.54" r="2.2"/><circle class="r" cx="496.32" cy="116.23" r="1.45"/><circle class="c1" cx="496.59" cy="115.19" r="2.2"/><circle class="r" cx="497.36" cy="116.03" r="1.45"/><circle class="c1" cx="496.83" cy="115.46" r="2.2"/><circle class="r" cx="498.40" cy="115.84" r="1.45"/><circle class="c1" cx="497.83" cy="115.41" r="2.2"/><circle class="r" cx="499.44" cy="115.65" r="1.45"/><circle class="c1" cx="500.06" cy="115.24" r="2.2"/>
<circle class="r" cx="488.58" cy="68.72" r="1.45"/><circle class="r" cx="488.82" cy="69.75" r="1.45"/><circle class="r" cx="489.07" cy="70.77" r="1.45"/><circle class="r" cx="489.32" cy="71.80" r="1.45"/><circle class="b1" cx="489.32" cy="71.06" r="1.9500000000000002"/><circle class="r" cx="489.57" cy="72.82" r="1.45"/><circle class="b1" cx="489.32" cy="71.40" r="1.9500000000000002"/><circle class="r" cx="489.82" cy="73.84" r="1.45"/><circle class="b1" cx="489.40" cy="72.54" r="1.9500000000000002"/><circle class="r" cx="490.07" cy="74.87" r="1.45"/><circle class="b1" cx="489.58" cy="74.27" r="1.9500000000000002"/><circle class="r" cx="490.32" cy="75.89" r="1.45"/><circle class="b1" cx="490.10" cy="75.66" r="1.9500000000000002"/><circle class="r" cx="490.57" cy="76.92" r="1.45"/><circle class="b1" cx="490.79" cy="75.83" r="1.9500000000000002"/><circle class="r" cx="490.82" cy="77.94" r="1.45"/><circle class="b1" cx="490.82" cy="78.68" r="1.9500000000000002"/><circle class="r" cx="491.06" cy="78.96" r="1.45"/><circle class="b1" cx="490.55" cy="78.47" r="1.9500000000000002"/><circle class="r" cx="491.31" cy="79.99" r="1.45"/><circle class="b1" cx="491.72" cy="79.80" r="1.9500000000000002"/><circle class="r" cx="491.56" cy="81.01" r="1.45"/><circle class="b1" cx="491.68" cy="80.33" r="1.9500000000000002"/><circle class="r" cx="491.81" cy="82.04" r="1.45"/><circle class="b1" cx="492.00" cy="82.01" r="1.9500000000000002"/><circle class="r" cx="492.06" cy="83.06" r="1.45"/><circle class="b1" cx="492.71" cy="84.10" r="1.9500000000000002"/><circle class="r" cx="492.31" cy="84.09" r="1.45"/><circle class="b1" cx="491.99" cy="84.05" r="1.9500000000000002"/><circle class="r" cx="492.56" cy="85.11" r="1.45"/><circle class="b1" cx="491.48" cy="84.83" r="1.9500000000000002"/><circle class="r" cx="492.81" cy="86.13" r="1.45"/><circle class="b1" cx="491.96" cy="85.12" r="1.9500000000000002"/><circle class="r" cx="493.06" cy="87.16" r="1.45"/><circle class="b1" cx="491.62" cy="88.07" r="1.9500000000000002"/><circle class="r" cx="493.30" cy="88.18" r="1.45"/><circle class="b1" cx="493.02" cy="87.54" r="1.9500000000000002"/><circle class="r" cx="493.55" cy="89.21" r="1.45"/><circle class="b1" cx="495.01" cy="90.61" r="1.9500000000000002"/><circle class="r" cx="493.80" cy="90.23" r="1.45"/><circle class="b1" cx="494.33" cy="90.43" r="1.9500000000000002"/><circle class="r" cx="494.05" cy="91.25" r="1.45"/><circle class="b1" cx="494.78" cy="91.31" r="1.9500000000000002"/><circle class="r" cx="494.30" cy="92.28" r="1.45"/><circle class="b1" cx="494.09" cy="91.66" r="1.9500000000000002"/><circle class="r" cx="494.55" cy="93.30" r="1.45"/><circle class="b1" cx="494.73" cy="94.44" r="1.9500000000000002"/><circle class="r" cx="494.80" cy="94.33" r="1.45"/><circle class="b1" cx="494.31" cy="94.24" r="1.9500000000000002"/><circle class="r" cx="495.05" cy="95.35" r="1.45"/><circle class="b1" cx="494.67" cy="95.65" r="1.9500000000000002"/><circle class="r" cx="495.30" cy="96.37" r="1.45"/><circle class="b1" cx="495.51" cy="95.12" r="1.9500000000000002"/><circle class="r" cx="495.54" cy="97.40" r="1.45"/><circle class="b1" cx="494.66" cy="97.57" r="1.9500000000000002"/><circle class="r" cx="495.79" cy="98.42" r="1.45"/><circle class="b1" cx="496.43" cy="98.28" r="1.9500000000000002"/><circle class="r" cx="496.04" cy="99.45" r="1.45"/><circle class="b1" cx="496.58" cy="98.28" r="1.9500000000000002"/><circle class="r" cx="496.29" cy="100.47" r="1.45"/><circle class="b1" cx="496.05" cy="101.32" r="1.9500000000000002"/><circle class="r" cx="496.54" cy="101.50" r="1.45"/><circle class="b1" cx="496.87" cy="100.93" r="1.9500000000000002"/><circle class="r" cx="496.79" cy="102.52" r="1.45"/><circle class="b1" cx="496.72" cy="103.20" r="1.9500000000000002"/><circle class="r" cx="497.04" cy="103.54" r="1.45"/><circle class="b1" cx="496.64" cy="103.74" r="1.9500000000000002"/><circle class="r" cx="497.29" cy="104.57" r="1.45"/><circle class="b1" cx="497.04" cy="103.21" r="1.9500000000000002"/><circle class="r" cx="497.54" cy="105.59" r="1.45"/><circle class="b1" cx="497.28" cy="106.35" r="1.9500000000000002"/><circle class="r" cx="497.79" cy="106.62" r="1.45"/><circle class="b1" cx="497.12" cy="105.84" r="1.9500000000000002"/><circle class="r" cx="498.03" cy="107.64" r="1.45"/><circle class="b1" cx="499.27" cy="107.04" r="1.9500000000000002"/><circle class="r" cx="498.28" cy="108.66" r="1.45"/><circle class="b1" cx="499.00" cy="107.32" r="1.9500000000000002"/><circle class="r" cx="498.53" cy="109.69" r="1.45"/><circle class="b1" cx="499.37" cy="110.71" r="1.9500000000000002"/><circle class="r" cx="498.78" cy="110.71" r="1.45"/><circle class="b1" cx="498.89" cy="110.72" r="1.9500000000000002"/><circle class="r" cx="499.03" cy="111.74" r="1.45"/><circle class="b1" cx="498.73" cy="111.30" r="1.9500000000000002"/><circle class="r" cx="499.28" cy="112.76" r="1.45"/><circle class="b1" cx="499.60" cy="113.16" r="1.9500000000000002"/><circle class="r" cx="499.53" cy="113.78" r="1.45"/><circle class="b1" cx="499.30" cy="114.12" r="1.9500000000000002"/><circle class="r" cx="499.78" cy="114.81" r="1.45"/><circle class="b1" cx="499.89" cy="114.40" r="1.9500000000000002"/><circle class="r" cx="500.03" cy="115.83" r="1.45"/><circle class="b1" cx="499.08" cy="115.06" r="1.9500000000000002"/><circle class="r" cx="500.27" cy="116.86" r="1.45"/><circle class="b1" cx="501.24" cy="116.09" r="1.9500000000000002"/><circle class="r" cx="500.52" cy="117.88" r="1.45"/><circle class="b1" cx="500.87" cy="118.90" r="1.9500000000000002"/><circle class="r" cx="500.77" cy="118.91" r="1.45"/><circle class="b1" cx="500.73" cy="118.15" r="1.9500000000000002"/><circle class="r" cx="501.02" cy="119.93" r="1.45"/><circle class="r" cx="501.27" cy="120.95" r="1.45"/><circle class="r" cx="501.52" cy="121.98" r="1.45"/><circle class="r" cx="501.77" cy="123.00" r="1.45"/><circle class="r" cx="502.02" cy="124.03" r="1.45"/><circle class="r" cx="502.27" cy="125.05" r="1.45"/><circle class="r" cx="502.51" cy="126.07" r="1.45"/><circle class="r" cx="502.76" cy="127.10" r="1.45"/><circle class="r" cx="503.01" cy="128.12" r="1.45"/><circle class="r" cx="503.26" cy="129.15" r="1.45"/><circle class="r" cx="503.51" cy="130.17" r="1.45"/><circle class="r" cx="503.76" cy="131.19" r="1.45"/><circle class="r" cx="504.01" cy="132.22" r="1.45"/><circle class="r" cx="504.26" cy="133.24" r="1.45"/><circle class="r" cx="504.51" cy="134.27" r="1.45"/><circle class="r" cx="504.75" cy="135.29" r="1.45"/><circle class="r" cx="505.00" cy="136.32" r="1.45"/><circle class="b1" cx="504.49" cy="136.13" r="1.9500000000000002"/><circle class="r" cx="505.25" cy="137.34" r="1.45"/><circle class="b1" cx="505.77" cy="137.97" r="1.9500000000000002"/><circle class="r" cx="505.50" cy="138.36" r="1.45"/><circle class="b1" cx="505.12" cy="138.44" r="1.9500000000000002"/><circle class="r" cx="505.75" cy="139.39" r="1.45"/><circle class="b1" cx="504.88" cy="139.40" r="1.9500000000000002"/><circle class="r" cx="488.58" cy="68.72" r="0.7"/><circle class="r" cx="489.07" cy="70.77" r="0.7"/><circle class="r" cx="489.57" cy="72.82" r="0.7"/><circle class="r" cx="490.07" cy="74.87" r="0.7"/><circle class="r" cx="490.57" cy="76.92" r="0.7"/><circle class="r" cx="491.06" cy="78.96" r="0.7"/><circle class="r" cx="491.56" cy="81.01" r="0.7"/><circle class="r" cx="492.06" cy="83.06" r="0.7"/><circle class="r" cx="492.56" cy="85.11" r="0.7"/><circle class="r" cx="493.06" cy="87.16" r="0.7"/><circle class="r" cx="493.55" cy="89.21" r="0.7"/><circle class="r" cx="494.05" cy="91.25" r="0.7"/><circle class="r" cx="494.55" cy="93.30" r="0.7"/><circle class="r" cx="495.05" cy="95.35" r="0.7"/><circle class="r" cx="495.54" cy="97.40" r="0.7"/><circle class="r" cx="496.04" cy="99.45" r="0.7"/><circle class="r" cx="496.54" cy="101.50" r="0.7"/><circle class="r" cx="497.04" cy="103.54" r="0.7"/><circle class="r" cx="497.54" cy="105.59" r="0.7"/><circle class="r" cx="498.03" cy="107.64" r="0.7"/><circle class="r" cx="498.53" cy="109.69" r="0.7"/><circle class="r" cx="499.03" cy="111.74" r="0.7"/><circle class="r" cx="499.53" cy="113.78" r="0.7"/><circle class="r" cx="500.03" cy="115.83" r="0.7"/><circle class="r" cx="500.52" cy="117.88" r="0.7"/><circle class="r" cx="501.02" cy="119.93" r="0.7"/><circle class="r" cx="501.52" cy="121.98" r="0.7"/><circle class="r" cx="502.02" cy="124.03" r="0.7"/><circle class="r" cx="502.51" cy="126.07" r="0.7"/><circle class="r" cx="503.01" cy="128.12" r="0.7"/><circle class="r" cx="503.51" cy="130.17" r="0.7"/><circle class="r" cx="504.01" cy="132.22" r="0.7"/><circle class="r" cx="504.51" cy="134.27" r="0.7"/><circle class="r" cx="505.00" cy="136.32" r="0.7"/><circle class="r" cx="505.50" cy="138.36" r="0.7"/>

</g>
<g>
<path d="M32.00 319.10H172.30M32.00 319.10v-1.8M52.04 319.10v-1.8M72.09 319.10v-1.8M92.13 319.10v-1.8M112.17 319.10v-1.8M132.21 319.10v-1.8M152.26 319.10v-1.8M172.30 319.10v-1.8" fill="none" stroke="#bcbcbc" stroke-width="1"/>
<path d="M32.00 194.15V319.60M32.00 319.10h1.8M32.00 277.45h1.8M32.00 235.80h1.8M32.00 194.15h1.8" fill="none" stroke="#a8a8a8" stroke-width="1"/>
<text transform="translate(32.00,329.00) scale(0.655,1)" text-anchor="middle">-400</text>
<text transform="translate(52.04,329.00) scale(0.655,1)" text-anchor="middle">-200</text>
<text transform="translate(72.09,329.00) scale(0.655,1)" text-anchor="middle">0</text>
<text transform="translate(92.13,329.00) scale(0.655,1)" text-anchor="middle">200</text>
<text transform="translate(112.17,329.00) scale(0.655,1)" text-anchor="middle">400</text>
<text transform="translate(132.21,329.00) scale(0.655,1)" text-anchor="middle">600</text>
<text transform="translate(152.26,329.00) scale(0.655,1)" text-anchor="middle">800</text>
<text transform="translate(172.30,329.00) scale(0.655,1)" text-anchor="middle">1000</text>
<text transform="translate(30.20,321.40) scale(0.655,1)" text-anchor="end">-1000</text>
<text transform="translate(30.20,279.75) scale(0.655,1)" text-anchor="end">-500</text>
<text transform="translate(30.20,238.10) scale(0.655,1)" text-anchor="end">0</text>
<text transform="translate(30.20,196.45) scale(0.655,1)" text-anchor="end">500</text>
<text transform="translate(102.15,186.75) scale(0.655,1)" text-anchor="middle">(d) Pd=0.9</text>
<text transform="translate(101.75,341.70) scale(0.655,1)" text-anchor="middle">X Position</text>
<text transform="translate(12.00,256.93) rotate(-90) scale(0.7,0.93)" text-anchor="middle" stroke="none" fill="#2a2a2a" letter-spacing="1.9">Y Position</text>
<circle class="r" cx="48.84" cy="257.04" r="1.45"/><circle class="r" cx="50.48" cy="257.35" r="1.45"/><circle class="r" cx="52.12" cy="257.66" r="1.45"/><circle class="r" cx="53.77" cy="257.97" r="1.45"/><circle class="b" cx="54.63" cy="258.00" r="2.1"/><circle class="r" cx="55.41" cy="258.27" r="1.45"/><circle class="b" cx="54.80" cy="258.02" r="2.1"/><circle class="r" cx="57.06" cy="258.58" r="1.45"/><circle class="b" cx="56.73" cy="258.91" r="2.1"/><circle class="r" cx="58.70" cy="258.89" r="1.45"/><circle class="b" cx="59.27" cy="259.18" r="2.1"/><circle class="r" cx="60.34" cy="259.20" r="1.45"/><circle class="b" cx="60.95" cy="259.31" r="2.1"/><circle class="r" cx="61.99" cy="259.50" r="1.45"/><circle class="b" cx="62.36" cy="259.34" r="2.1"/><circle class="r" cx="63.63" cy="259.81" r="1.45"/><circle class="b" cx="63.12" cy="259.78" r="2.1"/><circle class="r" cx="65.28" cy="260.12" r="1.45"/><circle class="b" cx="65.98" cy="260.27" r="2.1"/><circle class="r" cx="66.92" cy="260.43" r="1.45"/><circle class="b" cx="66.45" cy="261.19" r="2.1"/><circle class="r" cx="68.57" cy="260.74" r="1.45"/><circle class="b" cx="68.02" cy="260.82" r="2.1"/><circle class="r" cx="70.21" cy="261.04" r="1.45"/><circle class="b" cx="70.33" cy="261.51" r="2.1"/><circle class="r" cx="71.85" cy="261.35" r="1.45"/><circle class="b" cx="71.06" cy="261.07" r="2.1"/><circle class="r" cx="73.50" cy="261.66" r="1.45"/><circle class="b" cx="73.71" cy="261.26" r="2.1"/><circle class="r" cx="75.14" cy="261.97" r="1.45"/><circle class="b" cx="75.07" cy="262.50" r="2.1"/><circle class="r" cx="76.79" cy="262.27" r="1.45"/><circle class="b" cx="76.34" cy="261.62" r="2.1"/><circle class="r" cx="78.43" cy="262.58" r="1.45"/><circle class="b" cx="78.27" cy="262.93" r="2.1"/><circle class="r" cx="80.07" cy="262.89" r="1.45"/><circle class="b" cx="79.55" cy="262.30" r="2.1"/><circle class="r" cx="81.72" cy="263.20" r="1.45"/><circle class="b" cx="81.56" cy="262.28" r="2.1"/><circle class="r" cx="83.36" cy="263.51" r="1.45"/><circle class="b" cx="83.72" cy="263.62" r="2.1"/><circle class="r" cx="85.01" cy="263.81" r="1.45"/><circle class="b" cx="86.42" cy="267.38" r="2.1"/><circle class="r" cx="86.65" cy="264.12" r="1.45"/><circle class="b" cx="86.22" cy="263.46" r="2.1"/><circle class="r" cx="88.29" cy="264.43" r="1.45"/><circle class="b" cx="87.82" cy="264.03" r="2.1"/><circle class="r" cx="89.94" cy="264.74" r="1.45"/><circle class="b" cx="89.74" cy="264.17" r="2.1"/><circle class="r" cx="91.58" cy="265.05" r="1.45"/><circle class="b" cx="91.74" cy="265.69" r="2.1"/><circle class="r" cx="93.23" cy="265.35" r="1.45"/><circle class="b" cx="93.24" cy="265.15" r="2.1"/><circle class="r" cx="94.87" cy="265.66" r="1.45"/><circle class="b" cx="95.63" cy="265.84" r="2.1"/><circle class="r" cx="96.51" cy="265.97" r="1.45"/><circle class="b" cx="96.27" cy="265.61" r="2.1"/><circle class="r" cx="98.16" cy="266.28" r="1.45"/><circle class="b" cx="98.29" cy="265.71" r="2.1"/><circle class="r" cx="99.80" cy="266.58" r="1.45"/><circle class="b" cx="99.65" cy="267.03" r="2.1"/><circle class="r" cx="101.45" cy="266.89" r="1.45"/><circle class="b" cx="100.86" cy="267.16" r="2.1"/><circle class="r" cx="103.09" cy="267.20" r="1.45"/><circle class="b" cx="103.64" cy="267.40" r="2.1"/><circle class="r" cx="104.74" cy="267.51" r="1.45"/><circle class="b" cx="105.34" cy="268.07" r="2.1"/><circle class="r" cx="106.38" cy="267.82" r="1.45"/><circle class="b" cx="106.81" cy="267.58" r="2.1"/><circle class="r" cx="108.02" cy="268.12" r="1.45"/><circle class="b" cx="106.30" cy="269.61" r="2.1"/><circle class="r" cx="109.67" cy="268.43" r="1.45"/><circle class="b" cx="110.17" cy="268.37" r="2.1"/><circle class="r" cx="111.31" cy="268.74" r="1.45"/><circle class="b" cx="111.83" cy="269.13" r="2.1"/><circle class="r" cx="112.96" cy="269.05" r="1.45"/><circle class="b" cx="113.00" cy="269.11" r="2.1"/><circle class="r" cx="114.60" cy="269.36" r="1.45"/><circle class="b" cx="114.25" cy="268.56" r="2.1"/><circle class="r" cx="116.24" cy="269.66" r="1.45"/><circle class="b" cx="117.02" cy="270.14" r="2.1"/><circle class="r" cx="117.89" cy="269.97" r="1.45"/><circle class="b" cx="118.60" cy="270.05" r="2.1"/><circle class="r" cx="119.53" cy="270.28" r="1.45"/><circle class="b" cx="119.50" cy="269.99" r="2.1"/><circle class="r" cx="121.18" cy="270.59" r="1.45"/><circle class="b" cx="121.28" cy="269.88" r="2.1"/><circle class="r" cx="122.82" cy="270.89" r="1.45"/><circle class="b" cx="122.80" cy="270.71" r="2.1"/><circle class="r" cx="124.46" cy="271.20" r="1.45"/><circle class="b" cx="124.34" cy="270.72" r="2.1"/><circle class="r" cx="126.11" cy="271.51" r="1.45"/><circle class="b" cx="126.08" cy="272.67" r="2.1"/><circle class="r" cx="127.75" cy="271.82" r="1.45"/><circle class="b" cx="127.83" cy="271.82" r="2.1"/><circle class="r" cx="129.40" cy="272.13" r="1.45"/><circle class="b" cx="129.47" cy="271.96" r="2.1"/><circle class="r" cx="131.04" cy="272.43" r="1.45"/><circle class="b" cx="131.01" cy="272.17" r="2.1"/><circle class="r" cx="132.68" cy="272.74" r="1.45"/><circle class="b" cx="132.53" cy="272.76" r="2.1"/><circle class="r" cx="134.33" cy="273.05" r="1.45"/><circle class="b" cx="133.90" cy="272.83" r="2.1"/><circle class="r" cx="135.97" cy="273.36" r="1.45"/><circle class="b" cx="136.47" cy="273.99" r="2.1"/><circle class="r" cx="137.62" cy="273.67" r="1.45"/><circle class="b" cx="137.23" cy="273.16" r="2.1"/><circle class="r" cx="139.26" cy="273.97" r="1.45"/><circle class="b" cx="138.67" cy="274.49" r="2.1"/><circle class="r" cx="140.91" cy="274.28" r="1.45"/><circle class="b" cx="141.03" cy="273.71" r="2.1"/><circle class="r" cx="142.55" cy="274.59" r="1.45"/><circle class="b" cx="143.68" cy="275.04" r="2.1"/><circle class="r" cx="144.19" cy="274.90" r="1.45"/><circle class="b" cx="144.38" cy="274.54" r="2.1"/><circle class="r" cx="145.84" cy="275.20" r="1.45"/><circle class="b" cx="146.68" cy="275.08" r="2.1"/><circle class="r" cx="147.48" cy="275.51" r="1.45"/><circle class="b" cx="147.31" cy="275.96" r="2.1"/><circle class="r" cx="149.13" cy="275.82" r="1.45"/><circle class="b" cx="148.64" cy="276.30" r="2.1"/><circle class="r" cx="150.77" cy="276.13" r="1.45"/><circle class="b" cx="151.42" cy="275.63" r="2.1"/><circle class="r" cx="152.41" cy="276.44" r="1.45"/><circle class="b" cx="152.77" cy="276.44" r="2.1"/><circle class="r" cx="154.06" cy="276.74" r="1.45"/><circle class="b" cx="153.35" cy="276.31" r="2.1"/><circle class="r" cx="155.70" cy="277.05" r="1.45"/><circle class="b" cx="156.52" cy="277.28" r="2.1"/><circle class="r" cx="157.35" cy="277.36" r="1.45"/><circle class="b" cx="157.74" cy="276.93" r="2.1"/><circle class="r" cx="158.99" cy="277.67" r="1.45"/><circle class="b" cx="159.48" cy="277.01" r="2.1"/><circle class="r" cx="160.63" cy="277.98" r="1.45"/><circle class="b" cx="160.99" cy="277.76" r="2.1"/><circle class="r" cx="162.28" cy="278.28" r="1.45"/><circle class="b" cx="161.52" cy="278.02" r="2.1"/>
<circle class="r" cx="46.23" cy="289.94" r="1.45"/><circle class="c" cx="46.23" cy="288.90" r="2.35"/><circle class="r" cx="47.72" cy="289.69" r="1.45"/><circle class="c" cx="47.19" cy="289.26" r="2.35"/><circle class="r" cx="49.21" cy="289.43" r="1.45"/><circle class="c" cx="49.30" cy="289.76" r="2.35"/><circle class="r" cx="50.69" cy="289.17" r="1.45"/><circle class="c" cx="50.82" cy="288.69" r="2.35"/><circle class="r" cx="52.18" cy="288.91" r="1.45"/><circle class="c" cx="52.45" cy="288.18" r="2.35"/><circle class="r" cx="53.67" cy="288.65" r="1.45"/><circle class="c" cx="52.83" cy="288.19" r="2.35"/><circle class="r" cx="55.16" cy="288.39" r="1.45"/><circle class="c" cx="54.65" cy="288.32" r="2.35"/><circle class="r" cx="56.64" cy="288.13" r="1.45"/><circle class="c" cx="56.75" cy="288.40" r="2.35"/><circle class="r" cx="58.13" cy="287.87" r="1.45"/><circle class="c" cx="58.00" cy="287.46" r="2.35"/><circle class="r" cx="59.62" cy="287.61" r="1.45"/><circle class="c" cx="59.17" cy="287.92" r="2.35"/><circle class="r" cx="61.11" cy="287.35" r="1.45"/><circle class="c" cx="62.59" cy="287.78" r="2.35"/><circle class="r" cx="62.59" cy="287.09" r="1.45"/><circle class="c" cx="63.09" cy="287.49" r="2.35"/><circle class="r" cx="64.08" cy="286.84" r="1.45"/><circle class="c" cx="64.42" cy="287.34" r="2.35"/><circle class="r" cx="65.57" cy="286.58" r="1.45"/><circle class="c" cx="65.48" cy="286.56" r="2.35"/><circle class="r" cx="67.06" cy="286.32" r="1.45"/><circle class="c" cx="67.96" cy="286.26" r="2.35"/><circle class="r" cx="68.54" cy="286.06" r="1.45"/><circle class="c" cx="68.23" cy="285.91" r="2.35"/><circle class="r" cx="70.03" cy="285.80" r="1.45"/><circle class="c" cx="69.06" cy="286.29" r="2.35"/><circle class="r" cx="71.52" cy="285.54" r="1.45"/><circle class="c" cx="72.01" cy="284.49" r="2.35"/><circle class="r" cx="73.01" cy="285.28" r="1.45"/><circle class="c" cx="73.30" cy="285.35" r="2.35"/><circle class="r" cx="74.50" cy="285.02" r="1.45"/><circle class="c" cx="74.62" cy="285.09" r="2.35"/><circle class="r" cx="75.98" cy="284.76" r="1.45"/><circle class="c" cx="76.33" cy="284.40" r="2.35"/><circle class="r" cx="77.47" cy="284.50" r="1.45"/><circle class="c" cx="77.61" cy="284.41" r="2.35"/><circle class="r" cx="78.96" cy="284.24" r="1.45"/><circle class="c" cx="78.78" cy="284.38" r="2.35"/><circle class="r" cx="80.45" cy="283.98" r="1.45"/><circle class="c" cx="80.42" cy="284.56" r="2.35"/><circle class="r" cx="81.93" cy="283.73" r="1.45"/><circle class="c" cx="82.58" cy="283.54" r="2.35"/><circle class="r" cx="83.42" cy="283.47" r="1.45"/><circle class="c" cx="83.17" cy="283.55" r="2.35"/><circle class="r" cx="84.91" cy="283.21" r="1.45"/><circle class="c" cx="85.23" cy="283.19" r="2.35"/><circle class="r" cx="86.40" cy="282.95" r="1.45"/><circle class="c" cx="86.38" cy="283.37" r="2.35"/><circle class="r" cx="87.88" cy="282.69" r="1.45"/><circle class="c" cx="88.59" cy="282.20" r="2.35"/><circle class="r" cx="89.37" cy="282.43" r="1.45"/><circle class="c" cx="89.53" cy="281.74" r="2.35"/><circle class="r" cx="90.86" cy="282.17" r="1.45"/><circle class="c" cx="91.01" cy="282.16" r="2.35"/><circle class="r" cx="92.35" cy="281.91" r="1.45"/><circle class="c" cx="92.38" cy="280.85" r="2.35"/><circle class="r" cx="93.83" cy="281.65" r="1.45"/><circle class="c" cx="93.65" cy="282.23" r="2.35"/><circle class="r" cx="95.32" cy="281.39" r="1.45"/><circle class="c" cx="95.64" cy="281.64" r="2.35"/><circle class="r" cx="96.81" cy="281.13" r="1.45"/><circle class="c" cx="97.18" cy="281.50" r="2.35"/><circle class="r" cx="98.30" cy="280.87" r="1.45"/><circle class="c" cx="98.32" cy="281.12" r="2.35"/><circle class="r" cx="99.78" cy="280.62" r="1.45"/><circle class="c" cx="100.50" cy="280.67" r="2.35"/><circle class="r" cx="101.27" cy="280.36" r="1.45"/><circle class="c" cx="102.28" cy="280.59" r="2.35"/><circle class="r" cx="102.76" cy="280.10" r="1.45"/><circle class="c" cx="103.59" cy="279.73" r="2.35"/><circle class="r" cx="104.25" cy="279.84" r="1.45"/><circle class="c" cx="104.56" cy="280.22" r="2.35"/><circle class="r" cx="105.74" cy="279.58" r="1.45"/><circle class="c" cx="106.52" cy="279.20" r="2.35"/><circle class="r" cx="107.22" cy="279.32" r="1.45"/><circle class="c" cx="106.83" cy="279.44" r="2.35"/><circle class="r" cx="108.71" cy="279.06" r="1.45"/><circle class="c" cx="108.08" cy="279.15" r="2.35"/><circle class="r" cx="110.20" cy="278.80" r="1.45"/><circle class="c" cx="110.23" cy="278.95" r="2.35"/><circle class="r" cx="111.69" cy="278.54" r="1.45"/><circle class="c" cx="111.45" cy="278.46" r="2.35"/><circle class="r" cx="113.17" cy="278.28" r="1.45"/><circle class="c" cx="113.13" cy="278.74" r="2.35"/>
<circle class="r" cx="97.64" cy="215.39" r="1.45"/><circle class="r" cx="98.00" cy="216.76" r="1.45"/><circle class="r" cx="98.35" cy="218.14" r="1.45"/><circle class="b" cx="98.24" cy="218.99" r="2.1"/><circle class="r" cx="98.71" cy="219.51" r="1.45"/><circle class="b" cx="98.97" cy="219.96" r="2.1"/><circle class="r" cx="99.06" cy="220.88" r="1.45"/><circle class="b" cx="99.25" cy="220.76" r="2.1"/><circle class="r" cx="99.42" cy="222.25" r="1.45"/><circle class="b" cx="100.31" cy="222.59" r="2.1"/><circle class="r" cx="99.78" cy="223.63" r="1.45"/><circle class="b" cx="99.90" cy="224.12" r="2.1"/><circle class="r" cx="100.13" cy="225.00" r="1.45"/><circle class="b" cx="100.12" cy="225.30" r="2.1"/><circle class="r" cx="100.49" cy="226.37" r="1.45"/><circle class="b" cx="102.08" cy="226.28" r="2.1"/><circle class="r" cx="100.84" cy="227.75" r="1.45"/><circle class="b" cx="101.15" cy="227.96" r="2.1"/><circle class="r" cx="101.20" cy="229.12" r="1.45"/><circle class="b" cx="101.88" cy="229.37" r="2.1"/><circle class="r" cx="101.55" cy="230.49" r="1.45"/><circle class="b" cx="101.63" cy="230.48" r="2.1"/><circle class="r" cx="101.91" cy="231.86" r="1.45"/><circle class="b" cx="101.78" cy="232.07" r="2.1"/><circle class="r" cx="102.27" cy="233.24" r="1.45"/><circle class="b" cx="103.29" cy="231.43" r="2.1"/><circle class="r" cx="102.62" cy="234.61" r="1.45"/><circle class="b" cx="101.71" cy="235.00" r="2.1"/><circle class="r" cx="102.98" cy="235.98" r="1.45"/><circle class="b" cx="102.76" cy="235.87" r="2.1"/><circle class="r" cx="103.33" cy="237.35" r="1.45"/><circle class="b" cx="103.42" cy="236.65" r="2.1"/><circle class="r" cx="103.69" cy="238.73" r="1.45"/><circle class="b" cx="103.86" cy="238.82" r="2.1"/><circle class="r" cx="104.05" cy="240.10" r="1.45"/><circle class="b" cx="103.69" cy="240.11" r="2.1"/><circle class="r" cx="104.40" cy="241.47" r="1.45"/><circle class="b" cx="103.86" cy="241.01" r="2.1"/><circle class="r" cx="104.76" cy="242.84" r="1.45"/><circle class="b" cx="104.49" cy="242.69" r="2.1"/><circle class="r" cx="105.11" cy="244.22" r="1.45"/><circle class="b" cx="105.06" cy="243.76" r="2.1"/><circle class="r" cx="105.47" cy="245.59" r="1.45"/><circle class="b" cx="106.24" cy="245.87" r="2.1"/><circle class="r" cx="105.82" cy="246.96" r="1.45"/><circle class="b" cx="106.32" cy="246.21" r="2.1"/><circle class="r" cx="106.18" cy="248.33" r="1.45"/><circle class="b" cx="107.16" cy="248.43" r="2.1"/><circle class="r" cx="106.54" cy="249.71" r="1.45"/><circle class="b" cx="106.78" cy="249.45" r="2.1"/><circle class="r" cx="106.89" cy="251.08" r="1.45"/><circle class="b" cx="107.10" cy="250.71" r="2.1"/><circle class="r" cx="107.25" cy="252.45" r="1.45"/><circle class="b" cx="106.83" cy="252.89" r="2.1"/><circle class="r" cx="107.60" cy="253.83" r="1.45"/><circle class="b" cx="105.77" cy="253.60" r="2.1"/><circle class="r" cx="107.96" cy="255.20" r="1.45"/><circle class="b" cx="108.48" cy="255.69" r="2.1"/><circle class="r" cx="108.32" cy="256.57" r="1.45"/><circle class="b" cx="108.58" cy="256.27" r="2.1"/><circle class="r" cx="108.67" cy="257.94" r="1.45"/><circle class="b" cx="108.12" cy="258.45" r="2.1"/><circle class="r" cx="109.03" cy="259.32" r="1.45"/><circle class="b" cx="109.81" cy="258.52" r="2.1"/><circle class="r" cx="109.38" cy="260.69" r="1.45"/><circle class="b" cx="108.83" cy="260.64" r="2.1"/><circle class="r" cx="109.74" cy="262.06" r="1.45"/><circle class="b" cx="110.91" cy="262.21" r="2.1"/><circle class="r" cx="110.09" cy="263.43" r="1.45"/><circle class="b" cx="110.18" cy="263.62" r="2.1"/><circle class="r" cx="110.45" cy="264.81" r="1.45"/><circle class="b" cx="110.50" cy="264.71" r="2.1"/><circle class="r" cx="110.81" cy="266.18" r="1.45"/><circle class="b" cx="110.71" cy="265.90" r="2.1"/><circle class="r" cx="111.16" cy="267.55" r="1.45"/><circle class="b" cx="109.35" cy="266.25" r="2.1"/><circle class="r" cx="111.52" cy="268.92" r="1.45"/><circle class="b" cx="111.46" cy="268.72" r="2.1"/><circle class="r" cx="111.87" cy="270.30" r="1.45"/><circle class="b" cx="111.85" cy="270.16" r="2.1"/><circle class="r" cx="112.23" cy="271.67" r="1.45"/><circle class="b" cx="111.70" cy="271.69" r="2.1"/><circle class="r" cx="112.59" cy="273.04" r="1.45"/><circle class="b" cx="112.92" cy="273.36" r="2.1"/><circle class="r" cx="112.94" cy="274.41" r="1.45"/><circle class="b" cx="112.19" cy="273.93" r="2.1"/><circle class="r" cx="113.30" cy="275.79" r="1.45"/><circle class="b" cx="112.63" cy="275.46" r="2.1"/><circle class="r" cx="113.65" cy="277.16" r="1.45"/><circle class="b" cx="114.14" cy="276.22" r="2.1"/><circle class="r" cx="114.01" cy="278.53" r="1.45"/><circle class="b" cx="113.25" cy="278.95" r="2.1"/><circle class="r" cx="114.36" cy="279.91" r="1.45"/><circle class="b" cx="113.52" cy="280.56" r="2.1"/><circle class="r" cx="114.72" cy="281.28" r="1.45"/><circle class="b" cx="114.54" cy="281.56" r="2.1"/><circle class="r" cx="115.08" cy="282.65" r="1.45"/><circle class="b" cx="113.91" cy="283.15" r="2.1"/><circle class="r" cx="115.43" cy="284.02" r="1.45"/><circle class="b" cx="116.14" cy="283.59" r="2.1"/><circle class="r" cx="115.79" cy="285.40" r="1.45"/><circle class="b" cx="116.30" cy="285.58" r="2.1"/><circle class="r" cx="116.14" cy="286.77" r="1.45"/><circle class="b" cx="116.46" cy="286.63" r="2.1"/><circle class="r" cx="116.50" cy="288.14" r="1.45"/><circle class="b" cx="116.21" cy="287.82" r="2.1"/><circle class="r" cx="116.86" cy="289.51" r="1.45"/><circle class="b" cx="117.29" cy="289.72" r="2.1"/><circle class="r" cx="117.21" cy="290.89" r="1.45"/><circle class="b" cx="117.46" cy="290.92" r="2.1"/><circle class="r" cx="117.57" cy="292.26" r="1.45"/><circle class="b" cx="117.74" cy="291.22" r="2.1"/><circle class="r" cx="117.92" cy="293.63" r="1.45"/><circle class="b" cx="118.26" cy="292.76" r="2.1"/><circle class="r" cx="118.28" cy="295.00" r="1.45"/><circle class="b" cx="118.91" cy="295.14" r="2.1"/><circle class="r" cx="118.63" cy="296.38" r="1.45"/><circle class="b" cx="118.48" cy="296.05" r="2.1"/><circle class="r" cx="118.99" cy="297.75" r="1.45"/><circle class="b" cx="119.55" cy="297.46" r="2.1"/><circle class="r" cx="119.35" cy="299.12" r="1.45"/><circle class="b" cx="118.87" cy="299.06" r="2.1"/><circle class="r" cx="119.70" cy="300.50" r="1.45"/><circle class="b" cx="119.61" cy="300.87" r="2.1"/><circle class="r" cx="120.06" cy="301.87" r="1.45"/><circle class="b" cx="120.50" cy="302.28" r="2.1"/><circle class="r" cx="120.41" cy="303.24" r="1.45"/><circle class="b" cx="120.06" cy="303.21" r="2.1"/><circle class="r" cx="120.77" cy="304.61" r="1.45"/><circle class="b" cx="120.52" cy="304.56" r="2.1"/><circle class="r" cx="121.13" cy="305.99" r="1.45"/><circle class="b" cx="121.38" cy="306.26" r="2.1"/><circle class="r" cx="121.48" cy="307.36" r="1.45"/><circle class="b" cx="121.40" cy="307.68" r="2.1"/><circle class="r" cx="121.84" cy="308.73" r="1.45"/><circle class="r" cx="122.19" cy="310.10" r="1.45"/>

</g>
<g>
<path d="M216.00 319.10H356.30M216.00 319.10v-1.8M236.04 319.10v-1.8M256.09 319.10v-1.8M276.13 319.10v-1.8M296.17 319.10v-1.8M316.21 319.10v-1.8M336.26 319.10v-1.8M356.30 319.10v-1.8" fill="none" stroke="#bcbcbc" stroke-width="1"/>
<path d="M216.00 194.15V319.60M216.00 319.10h1.8M216.00 277.45h1.8M216.00 235.80h1.8M216.00 194.15h1.8" fill="none" stroke="#a8a8a8" stroke-width="1"/>
<text transform="translate(216.00,329.00) scale(0.655,1)" text-anchor="middle">-400</text>
<text transform="translate(236.04,329.00) scale(0.655,1)" text-anchor="middle">-200</text>
<text transform="translate(256.09,329.00) scale(0.655,1)" text-anchor="middle">0</text>
<text transform="translate(276.13,329.00) scale(0.655,1)" text-anchor="middle">200</text>
<text transform="translate(296.17,329.00) scale(0.655,1)" text-anchor="middle">400</text>
<text transform="translate(316.21,329.00) scale(0.655,1)" text-anchor="middle">600</text>
<text transform="translate(336.26,329.00) scale(0.655,1)" text-anchor="middle">800</text>
<text transform="translate(356.30,329.00) scale(0.655,1)" text-anchor="middle">1000</text>
<text transform="translate(214.20,321.40) scale(0.655,1)" text-anchor="end">-1000</text>
<text transform="translate(214.20,279.75) scale(0.655,1)" text-anchor="end">-500</text>
<text transform="translate(214.20,238.10) scale(0.655,1)" text-anchor="end">0</text>
<text transform="translate(214.20,196.45) scale(0.655,1)" text-anchor="end">500</text>
<text transform="translate(286.15,186.75) scale(0.655,1)" text-anchor="middle">(e) Pd=0.8</text>
<text transform="translate(285.75,341.70) scale(0.655,1)" text-anchor="middle">X Position</text>
<text transform="translate(196.00,256.93) rotate(-90) scale(0.7,0.93)" text-anchor="middle" stroke="none" fill="#2a2a2a" letter-spacing="1.9">Y Position</text>
<circle class="r" cx="232.84" cy="257.04" r="1.45"/><circle class="r" cx="234.48" cy="257.35" r="1.45"/><circle class="r" cx="236.12" cy="257.66" r="1.45"/><circle class="r" cx="237.77" cy="257.97" r="1.45"/><circle class="b" cx="236.76" cy="257.66" r="2.1"/><circle class="r" cx="239.41" cy="258.27" r="1.45"/><circle class="b" cx="238.69" cy="257.93" r="2.1"/><circle class="r" cx="241.06" cy="258.58" r="1.45"/><circle class="b" cx="240.91" cy="257.99" r="2.1"/><circle class="r" cx="242.70" cy="258.89" r="1.45"/><circle class="b" cx="242.23" cy="258.49" r="2.1"/><circle class="r" cx="244.34" cy="259.20" r="1.45"/><circle class="b" cx="244.36" cy="259.59" r="2.1"/><circle class="r" cx="245.99" cy="259.50" r="1.45"/><circle class="b" cx="245.45" cy="259.99" r="2.1"/><circle class="r" cx="247.63" cy="259.81" r="1.45"/><circle class="b" cx="245.60" cy="262.52" r="2.1"/><circle class="r" cx="249.28" cy="260.12" r="1.45"/><circle class="b" cx="248.68" cy="259.90" r="2.1"/><circle class="r" cx="250.92" cy="260.43" r="1.45"/><circle class="b" cx="251.38" cy="260.39" r="2.1"/><circle class="r" cx="252.57" cy="260.74" r="1.45"/><circle class="b" cx="252.68" cy="260.91" r="2.1"/><circle class="r" cx="254.21" cy="261.04" r="1.45"/><circle class="b" cx="254.03" cy="261.12" r="2.1"/><circle class="r" cx="255.85" cy="261.35" r="1.45"/><circle class="b" cx="255.02" cy="261.68" r="2.1"/><circle class="r" cx="257.50" cy="261.66" r="1.45"/><circle class="b" cx="257.71" cy="263.03" r="2.1"/><circle class="r" cx="259.14" cy="261.97" r="1.45"/><circle class="b" cx="259.42" cy="262.38" r="2.1"/><circle class="r" cx="260.79" cy="262.27" r="1.45"/><circle class="b" cx="260.44" cy="261.60" r="2.1"/><circle class="r" cx="262.43" cy="262.58" r="1.45"/><circle class="b" cx="262.72" cy="261.98" r="2.1"/><circle class="r" cx="264.07" cy="262.89" r="1.45"/><circle class="b" cx="264.03" cy="261.96" r="2.1"/><circle class="r" cx="265.72" cy="263.20" r="1.45"/><circle class="b" cx="265.91" cy="262.36" r="2.1"/><circle class="r" cx="267.36" cy="263.51" r="1.45"/><circle class="b" cx="268.14" cy="264.30" r="2.1"/><circle class="r" cx="269.01" cy="263.81" r="1.45"/><circle class="b" cx="269.23" cy="261.57" r="2.1"/><circle class="r" cx="270.65" cy="264.12" r="1.45"/><circle class="b" cx="271.35" cy="263.96" r="2.1"/><circle class="r" cx="272.29" cy="264.43" r="1.45"/><circle class="b" cx="272.53" cy="263.34" r="2.1"/><circle class="r" cx="273.94" cy="264.74" r="1.45"/><circle class="b" cx="273.50" cy="265.15" r="2.1"/><circle class="r" cx="275.58" cy="265.05" r="1.45"/><circle class="b" cx="275.51" cy="264.59" r="2.1"/><circle class="r" cx="277.23" cy="265.35" r="1.45"/><circle class="b" cx="276.72" cy="265.17" r="2.1"/><circle class="r" cx="278.87" cy="265.66" r="1.45"/><circle class="b" cx="279.12" cy="264.62" r="2.1"/><circle class="r" cx="280.51" cy="265.97" r="1.45"/><circle class="b" cx="280.19" cy="266.09" r="2.1"/><circle class="r" cx="282.16" cy="266.28" r="1.45"/><circle class="b" cx="282.60" cy="266.85" r="2.1"/><circle class="r" cx="283.80" cy="266.58" r="1.45"/><circle class="b" cx="284.86" cy="267.23" r="2.1"/><circle class="r" cx="285.45" cy="266.89" r="1.45"/><circle class="b" cx="286.03" cy="266.02" r="2.1"/><circle class="r" cx="287.09" cy="267.20" r="1.45"/><circle class="b" cx="287.26" cy="267.76" r="2.1"/><circle class="r" cx="288.74" cy="267.51" r="1.45"/><circle class="b" cx="288.91" cy="267.52" r="2.1"/><circle class="r" cx="290.38" cy="267.82" r="1.45"/><circle class="b" cx="289.14" cy="267.84" r="2.1"/><circle class="r" cx="292.02" cy="268.12" r="1.45"/><circle class="b" cx="290.11" cy="267.65" r="2.1"/><circle class="r" cx="293.67" cy="268.43" r="1.45"/><circle class="b" cx="292.84" cy="268.34" r="2.1"/><circle class="r" cx="295.31" cy="268.74" r="1.45"/><circle class="b" cx="294.85" cy="269.32" r="2.1"/><circle class="r" cx="296.96" cy="269.05" r="1.45"/><circle class="b" cx="297.74" cy="268.78" r="2.1"/><circle class="r" cx="298.60" cy="269.36" r="1.45"/><circle class="b" cx="299.03" cy="269.67" r="2.1"/><circle class="r" cx="300.24" cy="269.66" r="1.45"/><circle class="b" cx="299.58" cy="269.39" r="2.1"/><circle class="r" cx="301.89" cy="269.97" r="1.45"/><circle class="b" cx="302.51" cy="269.83" r="2.1"/><circle class="r" cx="303.53" cy="270.28" r="1.45"/><circle class="b" cx="302.23" cy="268.99" r="2.1"/><circle class="r" cx="305.18" cy="270.59" r="1.45"/><circle class="b" cx="304.18" cy="270.40" r="2.1"/><circle class="r" cx="306.82" cy="270.89" r="1.45"/><circle class="b" cx="306.19" cy="272.28" r="2.1"/><circle class="r" cx="308.46" cy="271.20" r="1.45"/><circle class="b" cx="308.20" cy="271.18" r="2.1"/><circle class="r" cx="310.11" cy="271.51" r="1.45"/><circle class="b" cx="309.73" cy="270.56" r="2.1"/><circle class="r" cx="311.75" cy="271.82" r="1.45"/><circle class="b" cx="312.19" cy="271.45" r="2.1"/><circle class="r" cx="313.40" cy="272.13" r="1.45"/><circle class="b" cx="313.23" cy="272.76" r="2.1"/><circle class="r" cx="315.04" cy="272.43" r="1.45"/><circle class="b" cx="315.17" cy="272.76" r="2.1"/><circle class="r" cx="316.68" cy="272.74" r="1.45"/><circle class="b" cx="316.28" cy="272.43" r="2.1"/><circle class="r" cx="318.33" cy="273.05" r="1.45"/><circle class="b" cx="318.22" cy="272.93" r="2.1"/><circle class="r" cx="319.97" cy="273.36" r="1.45"/><circle class="b" cx="320.08" cy="272.90" r="2.1"/><circle class="r" cx="321.62" cy="273.67" r="1.45"/><circle class="b" cx="322.09" cy="273.68" r="2.1"/><circle class="r" cx="323.26" cy="273.97" r="1.45"/><circle class="b" cx="322.56" cy="273.55" r="2.1"/><circle class="r" cx="324.91" cy="274.28" r="1.45"/><circle class="b" cx="324.21" cy="274.29" r="2.1"/><circle class="r" cx="326.55" cy="274.59" r="1.45"/><circle class="b" cx="326.14" cy="274.05" r="2.1"/><circle class="r" cx="328.19" cy="274.90" r="1.45"/><circle class="b" cx="327.69" cy="274.64" r="2.1"/><circle class="r" cx="329.84" cy="275.20" r="1.45"/><circle class="b" cx="330.35" cy="275.98" r="2.1"/><circle class="r" cx="331.48" cy="275.51" r="1.45"/><circle class="b" cx="331.75" cy="275.71" r="2.1"/><circle class="r" cx="333.13" cy="275.82" r="1.45"/><circle class="b" cx="333.46" cy="275.14" r="2.1"/><circle class="r" cx="334.77" cy="276.13" r="1.45"/><circle class="b" cx="334.85" cy="276.16" r="2.1"/><circle class="r" cx="336.41" cy="276.44" r="1.45"/><circle class="b" cx="336.03" cy="277.22" r="2.1"/><circle class="r" cx="338.06" cy="276.74" r="1.45"/><circle class="b" cx="338.27" cy="277.12" r="2.1"/><circle class="r" cx="339.70" cy="277.05" r="1.45"/><circle class="b" cx="340.30" cy="276.64" r="2.1"/><circle class="r" cx="341.35" cy="277.36" r="1.45"/><circle class="b" cx="340.83" cy="277.53" r="2.1"/><circle class="r" cx="342.99" cy="277.67" r="1.45"/><circle class="b" cx="343.55" cy="277.21" r="2.1"/><circle class="r" cx="344.63" cy="277.98" r="1.45"/><circle class="b" cx="343.92" cy="278.26" r="2.1"/><circle class="r" cx="346.28" cy="278.28" r="1.45"/><circle class="b" cx="347.50" cy="278.63" r="2.1"/>
<circle class="r" cx="230.23" cy="289.94" r="1.45"/><circle class="c" cx="229.76" cy="291.03" r="2.35"/><circle class="r" cx="231.72" cy="289.69" r="1.45"/><circle class="c" cx="231.47" cy="290.39" r="2.35"/><circle class="r" cx="233.21" cy="289.43" r="1.45"/><circle class="c" cx="231.86" cy="289.46" r="2.35"/><circle class="r" cx="234.69" cy="289.17" r="1.45"/><circle class="c" cx="234.02" cy="289.73" r="2.35"/><circle class="r" cx="236.18" cy="288.91" r="1.45"/><circle class="c" cx="235.77" cy="289.95" r="2.35"/><circle class="r" cx="237.67" cy="288.65" r="1.45"/><circle class="c" cx="237.78" cy="288.25" r="2.35"/><circle class="r" cx="239.16" cy="288.39" r="1.45"/><circle class="c" cx="238.93" cy="288.66" r="2.35"/><circle class="r" cx="240.64" cy="288.13" r="1.45"/><circle class="c" cx="240.47" cy="288.81" r="2.35"/><circle class="r" cx="242.13" cy="287.87" r="1.45"/><circle class="c" cx="241.60" cy="287.76" r="2.35"/><circle class="r" cx="243.62" cy="287.61" r="1.45"/><circle class="c" cx="243.88" cy="287.73" r="2.35"/><circle class="r" cx="245.11" cy="287.35" r="1.45"/><circle class="c" cx="244.86" cy="287.69" r="2.35"/><circle class="r" cx="246.59" cy="287.09" r="1.45"/><circle class="c" cx="246.51" cy="287.49" r="2.35"/><circle class="r" cx="248.08" cy="286.84" r="1.45"/><circle class="c" cx="247.28" cy="285.50" r="2.35"/><circle class="r" cx="249.57" cy="286.58" r="1.45"/><circle class="c" cx="249.50" cy="286.34" r="2.35"/><circle class="r" cx="251.06" cy="286.32" r="1.45"/><circle class="c" cx="251.20" cy="286.07" r="2.35"/><circle class="r" cx="252.54" cy="286.06" r="1.45"/><circle class="c" cx="253.06" cy="285.21" r="2.35"/><circle class="r" cx="254.03" cy="285.80" r="1.45"/><circle class="c" cx="253.50" cy="286.50" r="2.35"/><circle class="r" cx="255.52" cy="285.54" r="1.45"/><circle class="c" cx="255.88" cy="285.44" r="2.35"/><circle class="r" cx="257.01" cy="285.28" r="1.45"/><circle class="c" cx="256.61" cy="285.27" r="2.35"/><circle class="r" cx="258.50" cy="285.02" r="1.45"/><circle class="c" cx="259.08" cy="285.65" r="2.35"/><circle class="r" cx="259.98" cy="284.76" r="1.45"/><circle class="c" cx="260.57" cy="284.33" r="2.35"/><circle class="r" cx="261.47" cy="284.50" r="1.45"/><circle class="c" cx="261.49" cy="285.26" r="2.35"/><circle class="r" cx="262.96" cy="284.24" r="1.45"/><circle class="c" cx="263.15" cy="284.04" r="2.35"/><circle class="r" cx="264.45" cy="283.98" r="1.45"/><circle class="c" cx="264.02" cy="283.87" r="2.35"/><circle class="r" cx="265.93" cy="283.73" r="1.45"/><circle class="c" cx="265.33" cy="284.26" r="2.35"/><circle class="r" cx="267.42" cy="283.47" r="1.45"/><circle class="c" cx="267.22" cy="283.97" r="2.35"/><circle class="r" cx="268.91" cy="283.21" r="1.45"/><circle class="c" cx="269.38" cy="284.17" r="2.35"/><circle class="r" cx="270.40" cy="282.95" r="1.45"/><circle class="c" cx="270.26" cy="282.72" r="2.35"/><circle class="r" cx="271.88" cy="282.69" r="1.45"/><circle class="c" cx="271.47" cy="283.18" r="2.35"/><circle class="r" cx="273.37" cy="282.43" r="1.45"/><circle class="c" cx="273.81" cy="282.62" r="2.35"/><circle class="r" cx="274.86" cy="282.17" r="1.45"/><circle class="c" cx="275.47" cy="282.79" r="2.35"/><circle class="r" cx="276.35" cy="281.91" r="1.45"/><circle class="c" cx="275.36" cy="282.60" r="2.35"/><circle class="r" cx="277.83" cy="281.65" r="1.45"/><circle class="c" cx="278.64" cy="280.92" r="2.35"/><circle class="r" cx="279.32" cy="281.39" r="1.45"/><circle class="c" cx="279.30" cy="281.53" r="2.35"/><circle class="r" cx="280.81" cy="281.13" r="1.45"/><circle class="c" cx="280.55" cy="280.70" r="2.35"/><circle class="r" cx="282.30" cy="280.87" r="1.45"/><circle class="c" cx="281.84" cy="280.16" r="2.35"/><circle class="r" cx="283.78" cy="280.62" r="1.45"/><circle class="c" cx="284.08" cy="280.19" r="2.35"/><circle class="r" cx="285.27" cy="280.36" r="1.45"/><circle class="c" cx="285.39" cy="280.60" r="2.35"/><circle class="r" cx="286.76" cy="280.10" r="1.45"/><circle class="c" cx="286.67" cy="279.23" r="2.35"/><circle class="r" cx="288.25" cy="279.84" r="1.45"/><circle class="c" cx="289.23" cy="280.09" r="2.35"/><circle class="r" cx="289.74" cy="279.58" r="1.45"/><circle class="c" cx="289.56" cy="280.09" r="2.35"/><circle class="r" cx="291.22" cy="279.32" r="1.45"/><circle class="c" cx="290.32" cy="281.57" r="2.35"/><circle class="r" cx="292.71" cy="279.06" r="1.45"/><circle class="c" cx="293.09" cy="278.46" r="2.35"/><circle class="r" cx="294.20" cy="278.80" r="1.45"/><circle class="c" cx="294.18" cy="279.39" r="2.35"/><circle class="r" cx="295.69" cy="278.54" r="1.45"/><circle class="c" cx="295.67" cy="278.56" r="2.35"/><circle class="r" cx="297.17" cy="278.28" r="1.45"/><circle class="c" cx="297.25" cy="277.84" r="2.35"/>
<circle class="r" cx="281.64" cy="215.39" r="1.45"/><circle class="r" cx="282.00" cy="216.76" r="1.45"/><circle class="r" cx="282.35" cy="218.14" r="1.45"/><circle class="r" cx="282.71" cy="219.51" r="1.45"/><circle class="b" cx="284.12" cy="217.66" r="2.1"/><circle class="r" cx="283.06" cy="220.88" r="1.45"/><circle class="b" cx="283.09" cy="221.71" r="2.1"/><circle class="r" cx="283.42" cy="222.25" r="1.45"/><circle class="b" cx="283.72" cy="223.44" r="2.1"/><circle class="r" cx="283.78" cy="223.63" r="1.45"/><circle class="b" cx="284.50" cy="224.06" r="2.1"/><circle class="r" cx="284.13" cy="225.00" r="1.45"/><circle class="b" cx="284.12" cy="223.97" r="2.1"/><circle class="r" cx="284.49" cy="226.37" r="1.45"/><circle class="b" cx="285.61" cy="227.08" r="2.1"/><circle class="r" cx="284.84" cy="227.75" r="1.45"/><circle class="b" cx="285.61" cy="227.39" r="2.1"/><circle class="r" cx="285.20" cy="229.12" r="1.45"/><circle class="b" cx="285.57" cy="228.44" r="2.1"/><circle class="r" cx="285.55" cy="230.49" r="1.45"/><circle class="b" cx="286.36" cy="230.78" r="2.1"/><circle class="r" cx="285.91" cy="231.86" r="1.45"/><circle class="b" cx="284.65" cy="231.77" r="2.1"/><circle class="r" cx="286.27" cy="233.24" r="1.45"/><circle class="b" cx="286.28" cy="233.07" r="2.1"/><circle class="r" cx="286.62" cy="234.61" r="1.45"/><circle class="b" cx="286.77" cy="234.21" r="2.1"/><circle class="r" cx="286.98" cy="235.98" r="1.45"/><circle class="b" cx="287.75" cy="235.83" r="2.1"/><circle class="r" cx="287.33" cy="237.35" r="1.45"/><circle class="b" cx="287.33" cy="237.55" r="2.1"/><circle class="r" cx="287.69" cy="238.73" r="1.45"/><circle class="b" cx="287.38" cy="238.92" r="2.1"/><circle class="r" cx="288.05" cy="240.10" r="1.45"/><circle class="b" cx="288.61" cy="240.75" r="2.1"/><circle class="r" cx="288.40" cy="241.47" r="1.45"/><circle class="b" cx="288.43" cy="241.88" r="2.1"/><circle class="r" cx="288.76" cy="242.84" r="1.45"/><circle class="b" cx="287.54" cy="243.28" r="2.1"/><circle class="r" cx="289.11" cy="244.22" r="1.45"/><circle class="b" cx="288.76" cy="245.31" r="2.1"/><circle class="r" cx="289.47" cy="245.59" r="1.45"/><circle class="b" cx="289.01" cy="245.40" r="2.1"/><circle class="r" cx="289.82" cy="246.96" r="1.45"/><circle class="b" cx="288.94" cy="246.68" r="2.1"/><circle class="r" cx="290.18" cy="248.33" r="1.45"/><circle class="b" cx="289.81" cy="247.69" r="2.1"/><circle class="r" cx="290.54" cy="249.71" r="1.45"/><circle class="b" cx="290.64" cy="248.68" r="2.1"/><circle class="r" cx="290.89" cy="251.08" r="1.45"/><circle class="b" cx="290.76" cy="251.58" r="2.1"/><circle class="r" cx="291.25" cy="252.45" r="1.45"/><circle class="b" cx="291.66" cy="252.62" r="2.1"/><circle class="r" cx="291.60" cy="253.83" r="1.45"/><circle class="b" cx="291.42" cy="253.25" r="2.1"/><circle class="r" cx="291.96" cy="255.20" r="1.45"/><circle class="b" cx="291.68" cy="255.75" r="2.1"/><circle class="r" cx="292.32" cy="256.57" r="1.45"/><circle class="b" cx="292.42" cy="256.76" r="2.1"/><circle class="r" cx="292.67" cy="257.94" r="1.45"/><circle class="b" cx="295.50" cy="257.80" r="2.1"/><circle class="r" cx="293.03" cy="259.32" r="1.45"/><circle class="b" cx="292.71" cy="257.81" r="2.1"/><circle class="r" cx="293.38" cy="260.69" r="1.45"/><circle class="b" cx="293.88" cy="261.09" r="2.1"/><circle class="r" cx="293.74" cy="262.06" r="1.45"/><circle class="b" cx="293.99" cy="262.70" r="2.1"/><circle class="r" cx="294.09" cy="263.43" r="1.45"/><circle class="b" cx="296.23" cy="262.25" r="2.1"/><circle class="r" cx="294.45" cy="264.81" r="1.45"/><circle class="b" cx="295.18" cy="264.49" r="2.1"/><circle class="r" cx="294.81" cy="266.18" r="1.45"/><circle class="b" cx="294.81" cy="266.48" r="2.1"/><circle class="r" cx="295.16" cy="267.55" r="1.45"/><circle class="b" cx="295.66" cy="264.34" r="2.1"/><circle class="r" cx="295.52" cy="268.92" r="1.45"/><circle class="b" cx="295.83" cy="269.65" r="2.1"/><circle class="r" cx="295.87" cy="270.30" r="1.45"/><circle class="b" cx="296.17" cy="270.15" r="2.1"/><circle class="r" cx="296.23" cy="271.67" r="1.45"/><circle class="b" cx="296.67" cy="270.88" r="2.1"/><circle class="r" cx="296.59" cy="273.04" r="1.45"/><circle class="b" cx="297.00" cy="273.98" r="2.1"/><circle class="r" cx="296.94" cy="274.41" r="1.45"/><circle class="b" cx="296.47" cy="274.93" r="2.1"/><circle class="r" cx="297.30" cy="275.79" r="1.45"/><circle class="b" cx="297.50" cy="275.43" r="2.1"/><circle class="r" cx="297.65" cy="277.16" r="1.45"/><circle class="b" cx="295.47" cy="276.18" r="2.1"/><circle class="r" cx="298.01" cy="278.53" r="1.45"/><circle class="b" cx="297.68" cy="277.39" r="2.1"/><circle class="r" cx="298.36" cy="279.91" r="1.45"/><circle class="b" cx="297.72" cy="279.93" r="2.1"/><circle class="r" cx="298.72" cy="281.28" r="1.45"/><circle class="b" cx="298.50" cy="281.97" r="2.1"/><circle class="r" cx="299.08" cy="282.65" r="1.45"/><circle class="b" cx="298.95" cy="282.35" r="2.1"/><circle class="r" cx="299.43" cy="284.02" r="1.45"/><circle class="b" cx="299.67" cy="283.98" r="2.1"/><circle class="r" cx="299.79" cy="285.40" r="1.45"/><circle class="b" cx="298.76" cy="285.81" r="2.1"/><circle class="r" cx="300.14" cy="286.77" r="1.45"/><circle class="b" cx="301.20" cy="286.79" r="2.1"/><circle class="r" cx="300.50" cy="288.14" r="1.45"/><circle class="b" cx="300.63" cy="287.58" r="2.1"/><circle class="r" cx="300.86" cy="289.51" r="1.45"/><circle class="b" cx="300.51" cy="288.95" r="2.1"/><circle class="r" cx="301.21" cy="290.89" r="1.45"/><circle class="b" cx="300.90" cy="291.39" r="2.1"/><circle class="r" cx="301.57" cy="292.26" r="1.45"/><circle class="b" cx="302.11" cy="291.20" r="2.1"/><circle class="r" cx="301.92" cy="293.63" r="1.45"/><circle class="b" cx="301.75" cy="294.20" r="2.1"/><circle class="r" cx="302.28" cy="295.00" r="1.45"/><circle class="b" cx="302.07" cy="295.30" r="2.1"/><circle class="r" cx="302.63" cy="296.38" r="1.45"/><circle class="b" cx="302.36" cy="296.92" r="2.1"/><circle class="r" cx="302.99" cy="297.75" r="1.45"/><circle class="b" cx="303.92" cy="297.15" r="2.1"/><circle class="r" cx="303.35" cy="299.12" r="1.45"/><circle class="b" cx="304.09" cy="298.94" r="2.1"/><circle class="r" cx="303.70" cy="300.50" r="1.45"/><circle class="b" cx="304.47" cy="300.80" r="2.1"/><circle class="r" cx="304.06" cy="301.87" r="1.45"/><circle class="b" cx="303.85" cy="302.55" r="2.1"/><circle class="r" cx="304.41" cy="303.24" r="1.45"/><circle class="b" cx="303.63" cy="303.34" r="2.1"/><circle class="r" cx="304.77" cy="304.61" r="1.45"/><circle class="b" cx="304.14" cy="305.57" r="2.1"/><circle class="r" cx="305.13" cy="305.99" r="1.45"/><circle class="b" cx="306.09" cy="308.36" r="2.1"/><circle class="r" cx="305.48" cy="307.36" r="1.45"/><circle class="b" cx="306.18" cy="307.77" r="2.1"/><circle class="r" cx="305.84" cy="308.73" r="1.45"/><circle class="b" cx="305.34" cy="308.45" r="2.1"/><circle class="r" cx="306.19" cy="310.10" r="1.45"/><circle class="b" cx="305.69" cy="309.88" r="2.1"/>

</g>
<g>
<path d="M400.60 319.10H540.80M400.60 319.10v-1.8M447.33 319.10v-1.8M494.07 319.10v-1.8M540.80 319.10v-1.8" fill="none" stroke="#bcbcbc" stroke-width="1"/>
<path d="M400.60 194.15V319.60M400.60 319.10h1.8M400.60 277.45h1.8M400.60 235.80h1.8M400.60 194.15h1.8" fill="none" stroke="#a8a8a8" stroke-width="1"/>
<text transform="translate(400.60,329.00) scale(0.655,1)" text-anchor="middle">-500</text>
<text transform="translate(447.33,329.00) scale(0.655,1)" text-anchor="middle">0</text>
<text transform="translate(494.07,329.00) scale(0.655,1)" text-anchor="middle">500</text>
<text transform="translate(540.80,329.00) scale(0.655,1)" text-anchor="middle">1000</text>
<text transform="translate(398.80,321.40) scale(0.655,1)" text-anchor="end">-1000</text>
<text transform="translate(398.80,279.75) scale(0.655,1)" text-anchor="end">-500</text>
<text transform="translate(398.80,238.10) scale(0.655,1)" text-anchor="end">0</text>
<text transform="translate(398.80,196.45) scale(0.655,1)" text-anchor="end">500</text>
<text transform="translate(470.70,186.75) scale(0.655,1)" text-anchor="middle">(f) Pd=0.7</text>
<text transform="translate(470.30,341.70) scale(0.655,1)" text-anchor="middle">X Position</text>
<text transform="translate(380.60,256.93) rotate(-90) scale(0.7,0.93)" text-anchor="middle" stroke="none" fill="#2a2a2a" letter-spacing="1.9">Y Position</text>
<circle class="r" cx="425.65" cy="257.04" r="1.45"/><circle class="r" cx="427.18" cy="257.35" r="1.45"/><circle class="r" cx="428.72" cy="257.66" r="1.45"/><circle class="r" cx="430.25" cy="257.97" r="1.45"/><circle class="r" cx="431.78" cy="258.27" r="1.45"/><circle class="b" cx="432.40" cy="259.61" r="2.1"/><circle class="r" cx="433.32" cy="258.58" r="1.45"/><circle class="b" cx="434.38" cy="259.48" r="2.1"/><circle class="r" cx="434.85" cy="258.89" r="1.45"/><circle class="b" cx="435.56" cy="259.37" r="2.1"/><circle class="r" cx="436.38" cy="259.20" r="1.45"/><circle class="b" cx="435.50" cy="259.26" r="2.1"/><circle class="r" cx="437.92" cy="259.50" r="1.45"/><circle class="b" cx="437.61" cy="259.35" r="2.1"/><circle class="r" cx="439.45" cy="259.81" r="1.45"/><circle class="b" cx="439.21" cy="259.66" r="2.1"/><circle class="r" cx="440.98" cy="260.12" r="1.45"/><circle class="b" cx="441.66" cy="260.46" r="2.1"/><circle class="r" cx="442.52" cy="260.43" r="1.45"/><circle class="b" cx="441.46" cy="260.08" r="2.1"/><circle class="r" cx="444.05" cy="260.74" r="1.45"/><circle class="b" cx="445.66" cy="262.15" r="2.1"/><circle class="r" cx="445.58" cy="261.04" r="1.45"/><circle class="b" cx="446.64" cy="261.83" r="2.1"/><circle class="r" cx="447.12" cy="261.35" r="1.45"/><circle class="b" cx="447.96" cy="262.91" r="2.1"/><circle class="r" cx="448.65" cy="261.66" r="1.45"/><circle class="b" cx="448.71" cy="261.28" r="2.1"/><circle class="r" cx="450.18" cy="261.97" r="1.45"/><circle class="b" cx="450.66" cy="262.15" r="2.1"/><circle class="r" cx="451.72" cy="262.27" r="1.45"/><circle class="b" cx="452.65" cy="262.36" r="2.1"/><circle class="r" cx="453.25" cy="262.58" r="1.45"/><circle class="b" cx="452.91" cy="263.63" r="2.1"/><circle class="r" cx="454.78" cy="262.89" r="1.45"/><circle class="b" cx="455.53" cy="262.26" r="2.1"/><circle class="r" cx="456.32" cy="263.20" r="1.45"/><circle class="b" cx="454.87" cy="262.60" r="2.1"/><circle class="r" cx="457.85" cy="263.51" r="1.45"/><circle class="b" cx="458.42" cy="264.51" r="2.1"/><circle class="r" cx="459.38" cy="263.81" r="1.45"/><circle class="b" cx="459.47" cy="262.76" r="2.1"/><circle class="r" cx="460.92" cy="264.12" r="1.45"/><circle class="b" cx="461.40" cy="264.59" r="2.1"/><circle class="r" cx="462.45" cy="264.43" r="1.45"/><circle class="b" cx="463.51" cy="264.07" r="2.1"/><circle class="r" cx="463.98" cy="264.74" r="1.45"/><circle class="b" cx="463.36" cy="264.26" r="2.1"/><circle class="r" cx="465.52" cy="265.05" r="1.45"/><circle class="b" cx="465.63" cy="264.72" r="2.1"/><circle class="r" cx="467.05" cy="265.35" r="1.45"/><circle class="b" cx="466.81" cy="264.87" r="2.1"/><circle class="r" cx="468.58" cy="265.66" r="1.45"/><circle class="b" cx="467.32" cy="266.10" r="2.1"/><circle class="r" cx="470.12" cy="265.97" r="1.45"/><circle class="b" cx="470.23" cy="266.06" r="2.1"/><circle class="r" cx="471.65" cy="266.28" r="1.45"/><circle class="b" cx="471.79" cy="265.85" r="2.1"/><circle class="r" cx="473.18" cy="266.58" r="1.45"/><circle class="b" cx="472.92" cy="267.62" r="2.1"/><circle class="r" cx="474.72" cy="266.89" r="1.45"/><circle class="b" cx="475.60" cy="268.02" r="2.1"/><circle class="r" cx="476.25" cy="267.20" r="1.45"/><circle class="b" cx="475.78" cy="266.02" r="2.1"/><circle class="r" cx="477.78" cy="267.51" r="1.45"/><circle class="b" cx="478.42" cy="267.56" r="2.1"/><circle class="r" cx="479.32" cy="267.82" r="1.45"/><circle class="b" cx="477.90" cy="267.80" r="2.1"/><circle class="r" cx="480.85" cy="268.12" r="1.45"/><circle class="b" cx="481.28" cy="268.22" r="2.1"/><circle class="r" cx="482.38" cy="268.43" r="1.45"/><circle class="b" cx="482.09" cy="267.80" r="2.1"/><circle class="r" cx="483.92" cy="268.74" r="1.45"/><circle class="b" cx="484.65" cy="269.87" r="2.1"/><circle class="r" cx="485.45" cy="269.05" r="1.45"/><circle class="b" cx="486.12" cy="268.36" r="2.1"/><circle class="r" cx="486.98" cy="269.36" r="1.45"/><circle class="b" cx="486.75" cy="269.78" r="2.1"/><circle class="r" cx="488.52" cy="269.66" r="1.45"/><circle class="b" cx="488.34" cy="269.55" r="2.1"/><circle class="r" cx="490.05" cy="269.97" r="1.45"/><circle class="b" cx="489.55" cy="270.57" r="2.1"/><circle class="r" cx="491.59" cy="270.28" r="1.45"/><circle class="b" cx="491.09" cy="270.70" r="2.1"/><circle class="r" cx="493.12" cy="270.59" r="1.45"/><circle class="b" cx="491.77" cy="269.86" r="2.1"/><circle class="r" cx="494.65" cy="270.89" r="1.45"/><circle class="b" cx="489.83" cy="272.15" r="2.1"/><circle class="r" cx="496.19" cy="271.20" r="1.45"/><circle class="b" cx="497.73" cy="273.21" r="2.1"/><circle class="r" cx="497.72" cy="271.51" r="1.45"/><circle class="b" cx="497.60" cy="272.33" r="2.1"/><circle class="r" cx="499.25" cy="271.82" r="1.45"/><circle class="b" cx="498.47" cy="271.46" r="2.1"/><circle class="r" cx="500.79" cy="272.13" r="1.45"/><circle class="b" cx="500.97" cy="272.12" r="2.1"/><circle class="r" cx="502.32" cy="272.43" r="1.45"/><circle class="b" cx="502.50" cy="271.03" r="2.1"/><circle class="r" cx="503.85" cy="272.74" r="1.45"/><circle class="b" cx="503.19" cy="272.00" r="2.1"/><circle class="r" cx="505.39" cy="273.05" r="1.45"/><circle class="b" cx="505.14" cy="274.27" r="2.1"/><circle class="r" cx="506.92" cy="273.36" r="1.45"/><circle class="b" cx="507.90" cy="272.96" r="2.1"/><circle class="r" cx="508.45" cy="273.67" r="1.45"/><circle class="b" cx="508.55" cy="272.52" r="2.1"/><circle class="r" cx="509.99" cy="273.97" r="1.45"/><circle class="b" cx="509.56" cy="273.48" r="2.1"/><circle class="r" cx="511.52" cy="274.28" r="1.45"/><circle class="b" cx="511.31" cy="274.42" r="2.1"/><circle class="r" cx="513.05" cy="274.59" r="1.45"/><circle class="b" cx="512.12" cy="276.46" r="2.1"/><circle class="r" cx="514.59" cy="274.90" r="1.45"/><circle class="b" cx="514.23" cy="275.28" r="2.1"/><circle class="r" cx="516.12" cy="275.20" r="1.45"/><circle class="b" cx="515.90" cy="275.51" r="2.1"/><circle class="r" cx="517.65" cy="275.51" r="1.45"/><circle class="b" cx="518.94" cy="274.16" r="2.1"/><circle class="r" cx="519.19" cy="275.82" r="1.45"/><circle class="b" cx="518.65" cy="275.57" r="2.1"/><circle class="r" cx="520.72" cy="276.13" r="1.45"/><circle class="b" cx="521.26" cy="276.37" r="2.1"/><circle class="r" cx="522.25" cy="276.44" r="1.45"/><circle class="b" cx="522.12" cy="275.56" r="2.1"/><circle class="r" cx="523.79" cy="276.74" r="1.45"/><circle class="b" cx="522.94" cy="278.07" r="2.1"/><circle class="r" cx="525.32" cy="277.05" r="1.45"/><circle class="b" cx="525.70" cy="277.26" r="2.1"/><circle class="r" cx="526.85" cy="277.36" r="1.45"/><circle class="b" cx="527.51" cy="277.31" r="2.1"/><circle class="r" cx="528.39" cy="277.67" r="1.45"/><circle class="b" cx="527.12" cy="278.28" r="2.1"/><circle class="r" cx="529.92" cy="277.98" r="1.45"/><circle class="b" cx="526.30" cy="278.33" r="2.1"/><circle class="r" cx="531.45" cy="278.28" r="1.45"/><circle class="b" cx="531.45" cy="278.43" r="2.1"/>
<circle class="r" cx="423.22" cy="289.94" r="1.45"/><circle class="c" cx="423.10" cy="291.03" r="2.35"/><circle class="r" cx="424.61" cy="289.69" r="1.45"/><circle class="c" cx="424.23" cy="289.96" r="2.35"/><circle class="r" cx="425.99" cy="289.43" r="1.45"/><circle class="c" cx="426.66" cy="288.66" r="2.35"/><circle class="r" cx="427.38" cy="289.17" r="1.45"/><circle class="c" cx="427.20" cy="287.38" r="2.35"/><circle class="r" cx="428.77" cy="288.91" r="1.45"/><circle class="c" cx="429.89" cy="289.52" r="2.35"/><circle class="r" cx="430.16" cy="288.65" r="1.45"/><circle class="c" cx="429.95" cy="288.97" r="2.35"/><circle class="r" cx="431.54" cy="288.39" r="1.45"/><circle class="c" cx="430.15" cy="288.06" r="2.35"/><circle class="r" cx="432.93" cy="288.13" r="1.45"/><circle class="c" cx="433.36" cy="287.91" r="2.35"/><circle class="r" cx="434.32" cy="287.87" r="1.45"/><circle class="c" cx="434.31" cy="286.86" r="2.35"/><circle class="r" cx="435.71" cy="287.61" r="1.45"/><circle class="c" cx="435.43" cy="287.04" r="2.35"/><circle class="r" cx="437.09" cy="287.35" r="1.45"/><circle class="c" cx="436.65" cy="287.62" r="2.35"/><circle class="r" cx="438.48" cy="287.09" r="1.45"/><circle class="c" cx="438.07" cy="287.80" r="2.35"/><circle class="r" cx="439.87" cy="286.84" r="1.45"/><circle class="c" cx="439.83" cy="287.62" r="2.35"/><circle class="r" cx="441.26" cy="286.58" r="1.45"/><circle class="c" cx="443.21" cy="285.58" r="2.35"/><circle class="r" cx="442.64" cy="286.32" r="1.45"/><circle class="c" cx="443.55" cy="286.65" r="2.35"/><circle class="r" cx="444.03" cy="286.06" r="1.45"/><circle class="c" cx="443.88" cy="286.33" r="2.35"/><circle class="r" cx="445.42" cy="285.80" r="1.45"/><circle class="c" cx="446.16" cy="286.73" r="2.35"/><circle class="r" cx="446.81" cy="285.54" r="1.45"/><circle class="c" cx="447.09" cy="284.86" r="2.35"/><circle class="r" cx="448.19" cy="285.28" r="1.45"/><circle class="c" cx="447.44" cy="284.81" r="2.35"/><circle class="r" cx="449.58" cy="285.02" r="1.45"/><circle class="c" cx="449.08" cy="284.65" r="2.35"/><circle class="r" cx="450.97" cy="284.76" r="1.45"/><circle class="c" cx="450.91" cy="285.86" r="2.35"/><circle class="r" cx="452.36" cy="284.50" r="1.45"/><circle class="c" cx="452.45" cy="283.91" r="2.35"/><circle class="r" cx="453.74" cy="284.24" r="1.45"/><circle class="c" cx="454.50" cy="284.13" r="2.35"/><circle class="r" cx="455.13" cy="283.98" r="1.45"/><circle class="c" cx="453.48" cy="283.74" r="2.35"/><circle class="r" cx="456.52" cy="283.73" r="1.45"/><circle class="c" cx="457.31" cy="283.77" r="2.35"/><circle class="r" cx="457.91" cy="283.47" r="1.45"/><circle class="c" cx="458.01" cy="282.81" r="2.35"/><circle class="r" cx="459.29" cy="283.21" r="1.45"/><circle class="c" cx="459.45" cy="284.37" r="2.35"/><circle class="r" cx="460.68" cy="282.95" r="1.45"/><circle class="c" cx="461.05" cy="283.01" r="2.35"/><circle class="r" cx="462.07" cy="282.69" r="1.45"/><circle class="c" cx="459.90" cy="282.66" r="2.35"/><circle class="r" cx="463.46" cy="282.43" r="1.45"/><circle class="c" cx="464.08" cy="282.18" r="2.35"/><circle class="r" cx="464.84" cy="282.17" r="1.45"/><circle class="c" cx="465.35" cy="283.20" r="2.35"/><circle class="r" cx="466.23" cy="281.91" r="1.45"/><circle class="c" cx="466.32" cy="282.06" r="2.35"/><circle class="r" cx="467.62" cy="281.65" r="1.45"/><circle class="c" cx="467.71" cy="283.64" r="2.35"/><circle class="r" cx="469.01" cy="281.39" r="1.45"/><circle class="c" cx="468.58" cy="280.91" r="2.35"/><circle class="r" cx="470.39" cy="281.13" r="1.45"/><circle class="c" cx="469.79" cy="281.29" r="2.35"/><circle class="r" cx="471.78" cy="280.87" r="1.45"/><circle class="c" cx="472.67" cy="281.59" r="2.35"/><circle class="r" cx="473.17" cy="280.62" r="1.45"/><circle class="c" cx="472.12" cy="279.25" r="2.35"/><circle class="r" cx="474.55" cy="280.36" r="1.45"/><circle class="c" cx="475.39" cy="280.69" r="2.35"/><circle class="r" cx="475.94" cy="280.10" r="1.45"/><circle class="c" cx="477.42" cy="279.28" r="2.35"/><circle class="r" cx="477.33" cy="279.84" r="1.45"/><circle class="c" cx="477.42" cy="280.36" r="2.35"/><circle class="r" cx="478.72" cy="279.58" r="1.45"/><circle class="c" cx="478.25" cy="279.78" r="2.35"/><circle class="r" cx="480.10" cy="279.32" r="1.45"/><circle class="c" cx="480.16" cy="278.32" r="2.35"/><circle class="r" cx="481.49" cy="279.06" r="1.45"/><circle class="c" cx="481.98" cy="279.04" r="2.35"/><circle class="r" cx="482.88" cy="278.80" r="1.45"/><circle class="c" cx="483.65" cy="279.96" r="2.35"/><circle class="r" cx="484.27" cy="278.54" r="1.45"/><circle class="c" cx="484.14" cy="279.70" r="2.35"/><circle class="r" cx="485.65" cy="278.28" r="1.45"/><circle class="c" cx="485.53" cy="278.90" r="2.35"/>
<circle class="r" cx="471.17" cy="215.39" r="1.45"/><circle class="r" cx="471.50" cy="216.76" r="1.45"/><circle class="r" cx="471.83" cy="218.14" r="1.45"/><circle class="r" cx="472.16" cy="219.51" r="1.45"/><circle class="b" cx="472.48" cy="219.25" r="2.1"/><circle class="r" cx="472.49" cy="220.88" r="1.45"/><circle class="b" cx="471.87" cy="220.44" r="2.1"/><circle class="r" cx="472.83" cy="222.25" r="1.45"/><circle class="b" cx="473.18" cy="221.93" r="2.1"/><circle class="r" cx="473.16" cy="223.63" r="1.45"/><circle class="b" cx="472.38" cy="224.56" r="2.1"/><circle class="r" cx="473.49" cy="225.00" r="1.45"/><circle class="b" cx="474.07" cy="226.27" r="2.1"/><circle class="r" cx="473.82" cy="226.37" r="1.45"/><circle class="b" cx="473.78" cy="226.52" r="2.1"/><circle class="r" cx="474.15" cy="227.75" r="1.45"/><circle class="b" cx="474.25" cy="227.73" r="2.1"/><circle class="r" cx="474.49" cy="229.12" r="1.45"/><circle class="b" cx="475.15" cy="230.05" r="2.1"/><circle class="r" cx="474.82" cy="230.49" r="1.45"/><circle class="b" cx="475.34" cy="231.42" r="2.1"/><circle class="r" cx="475.15" cy="231.86" r="1.45"/><circle class="b" cx="474.31" cy="233.19" r="2.1"/><circle class="r" cx="475.48" cy="233.24" r="1.45"/><circle class="b" cx="476.92" cy="231.92" r="2.1"/><circle class="r" cx="475.81" cy="234.61" r="1.45"/><circle class="b" cx="476.10" cy="237.61" r="2.1"/><circle class="r" cx="476.15" cy="235.98" r="1.45"/><circle class="b" cx="476.95" cy="236.18" r="2.1"/><circle class="r" cx="476.48" cy="237.35" r="1.45"/><circle class="b" cx="476.18" cy="237.49" r="2.1"/><circle class="r" cx="476.81" cy="238.73" r="1.45"/><circle class="b" cx="478.29" cy="238.64" r="2.1"/><circle class="r" cx="477.14" cy="240.10" r="1.45"/><circle class="b" cx="477.73" cy="240.65" r="2.1"/><circle class="r" cx="477.47" cy="241.47" r="1.45"/><circle class="b" cx="477.08" cy="241.66" r="2.1"/><circle class="r" cx="477.80" cy="242.84" r="1.45"/><circle class="b" cx="478.49" cy="243.76" r="2.1"/><circle class="r" cx="478.14" cy="244.22" r="1.45"/><circle class="b" cx="478.63" cy="244.64" r="2.1"/><circle class="r" cx="478.47" cy="245.59" r="1.45"/><circle class="b" cx="479.03" cy="245.27" r="2.1"/><circle class="r" cx="478.80" cy="246.96" r="1.45"/><circle class="b" cx="480.22" cy="246.67" r="2.1"/><circle class="r" cx="479.13" cy="248.33" r="1.45"/><circle class="b" cx="479.07" cy="248.77" r="2.1"/><circle class="r" cx="479.46" cy="249.71" r="1.45"/><circle class="b" cx="479.65" cy="249.79" r="2.1"/><circle class="r" cx="479.80" cy="251.08" r="1.45"/><circle class="b" cx="479.05" cy="251.57" r="2.1"/><circle class="r" cx="480.13" cy="252.45" r="1.45"/><circle class="b" cx="481.19" cy="252.52" r="2.1"/><circle class="r" cx="480.46" cy="253.83" r="1.45"/><circle class="b" cx="479.61" cy="253.58" r="2.1"/><circle class="r" cx="480.79" cy="255.20" r="1.45"/><circle class="b" cx="482.21" cy="255.04" r="2.1"/><circle class="r" cx="481.12" cy="256.57" r="1.45"/><circle class="b" cx="480.63" cy="256.93" r="2.1"/><circle class="r" cx="481.46" cy="257.94" r="1.45"/><circle class="b" cx="482.14" cy="257.83" r="2.1"/><circle class="r" cx="481.79" cy="259.32" r="1.45"/><circle class="b" cx="481.46" cy="259.52" r="2.1"/><circle class="r" cx="482.12" cy="260.69" r="1.45"/><circle class="b" cx="483.08" cy="260.72" r="2.1"/><circle class="r" cx="482.45" cy="262.06" r="1.45"/><circle class="b" cx="482.42" cy="263.02" r="2.1"/><circle class="r" cx="482.78" cy="263.43" r="1.45"/><circle class="b" cx="482.81" cy="263.90" r="2.1"/><circle class="r" cx="483.11" cy="264.81" r="1.45"/><circle class="b" cx="483.79" cy="263.78" r="2.1"/><circle class="r" cx="483.45" cy="266.18" r="1.45"/><circle class="b" cx="484.47" cy="266.51" r="2.1"/><circle class="r" cx="483.78" cy="267.55" r="1.45"/><circle class="b" cx="483.24" cy="266.85" r="2.1"/><circle class="r" cx="484.11" cy="268.92" r="1.45"/><circle class="b" cx="484.14" cy="268.92" r="2.1"/><circle class="r" cx="484.44" cy="270.30" r="1.45"/><circle class="b" cx="484.95" cy="269.63" r="2.1"/><circle class="r" cx="484.77" cy="271.67" r="1.45"/><circle class="b" cx="485.29" cy="271.65" r="2.1"/><circle class="r" cx="485.11" cy="273.04" r="1.45"/><circle class="b" cx="485.08" cy="272.36" r="2.1"/><circle class="r" cx="485.44" cy="274.41" r="1.45"/><circle class="b" cx="484.77" cy="274.95" r="2.1"/><circle class="r" cx="485.77" cy="275.79" r="1.45"/><circle class="b" cx="485.50" cy="275.23" r="2.1"/><circle class="r" cx="486.10" cy="277.16" r="1.45"/><circle class="b" cx="485.62" cy="277.03" r="2.1"/><circle class="r" cx="486.43" cy="278.53" r="1.45"/><circle class="b" cx="486.29" cy="280.06" r="2.1"/><circle class="r" cx="486.77" cy="279.91" r="1.45"/><circle class="b" cx="486.61" cy="279.07" r="2.1"/><circle class="r" cx="487.10" cy="281.28" r="1.45"/><circle class="b" cx="487.17" cy="281.66" r="2.1"/><circle class="r" cx="487.43" cy="282.65" r="1.45"/><circle class="b" cx="486.59" cy="282.50" r="2.1"/><circle class="r" cx="487.76" cy="284.02" r="1.45"/><circle class="b" cx="487.96" cy="283.55" r="2.1"/><circle class="r" cx="488.09" cy="285.40" r="1.45"/><circle class="b" cx="488.43" cy="284.70" r="2.1"/><circle class="r" cx="488.42" cy="286.77" r="1.45"/><circle class="b" cx="489.12" cy="285.46" r="2.1"/><circle class="r" cx="488.76" cy="288.14" r="1.45"/><circle class="b" cx="489.42" cy="288.33" r="2.1"/><circle class="r" cx="489.09" cy="289.51" r="1.45"/><circle class="b" cx="489.24" cy="289.19" r="2.1"/><circle class="r" cx="489.42" cy="290.89" r="1.45"/><circle class="b" cx="489.42" cy="291.21" r="2.1"/><circle class="r" cx="489.75" cy="292.26" r="1.45"/><circle class="b" cx="490.03" cy="291.46" r="2.1"/><circle class="r" cx="490.08" cy="293.63" r="1.45"/><circle class="b" cx="490.68" cy="294.00" r="2.1"/><circle class="r" cx="490.42" cy="295.00" r="1.45"/><circle class="b" cx="490.16" cy="294.29" r="2.1"/><circle class="r" cx="490.75" cy="296.38" r="1.45"/><circle class="b" cx="491.10" cy="295.25" r="2.1"/><circle class="r" cx="491.08" cy="297.75" r="1.45"/><circle class="b" cx="490.80" cy="297.14" r="2.1"/><circle class="r" cx="491.41" cy="299.12" r="1.45"/><circle class="b" cx="491.46" cy="299.79" r="2.1"/><circle class="r" cx="491.74" cy="300.50" r="1.45"/><circle class="b" cx="491.65" cy="300.59" r="2.1"/><circle class="r" cx="492.08" cy="301.87" r="1.45"/><circle class="b" cx="491.86" cy="301.76" r="2.1"/><circle class="r" cx="492.41" cy="303.24" r="1.45"/><circle class="b" cx="492.30" cy="302.69" r="2.1"/><circle class="r" cx="492.74" cy="304.61" r="1.45"/><circle class="b" cx="492.81" cy="305.94" r="2.1"/><circle class="r" cx="493.07" cy="305.99" r="1.45"/><circle class="b" cx="492.16" cy="304.94" r="2.1"/><circle class="r" cx="493.40" cy="307.36" r="1.45"/><circle class="b" cx="492.30" cy="307.93" r="2.1"/><circle class="r" cx="493.73" cy="308.73" r="1.45"/><circle class="b" cx="493.59" cy="308.88" r="2.1"/><circle class="r" cx="494.07" cy="310.10" r="1.45"/><circle class="b" cx="493.32" cy="310.92" r="2.1"/>
<circle class="e" cx="496.10" cy="261.30" r="2.3"/>
</g>
<g>
<path d="M32.00 492.80H172.30M32.00 492.80v-1.8M52.04 492.80v-1.8M72.09 492.80v-1.8M92.13 492.80v-1.8M112.17 492.80v-1.8M132.21 492.80v-1.8M152.26 492.80v-1.8M172.30 492.80v-1.8" fill="none" stroke="#bcbcbc" stroke-width="1"/>
<path d="M32.00 367.15V493.30M32.00 492.80h1.8M32.00 450.92h1.8M32.00 409.03h1.8M32.00 367.15h1.8" fill="none" stroke="#a8a8a8" stroke-width="1"/>
<text transform="translate(32.00,502.70) scale(0.655,1)" text-anchor="middle">-400</text>
<text transform="translate(52.04,502.70) scale(0.655,1)" text-anchor="middle">-200</text>
<text transform="translate(72.09,502.70) scale(0.655,1)" text-anchor="middle">0</text>
<text transform="translate(92.13,502.70) scale(0.655,1)" text-anchor="middle">200</text>
<text transform="translate(112.17,502.70) scale(0.655,1)" text-anchor="middle">400</text>
<text transform="translate(132.21,502.70) scale(0.655,1)" text-anchor="middle">600</text>
<text transform="translate(152.26,502.70) scale(0.655,1)" text-anchor="middle">800</text>
<text transform="translate(172.30,502.70) scale(0.655,1)" text-anchor="middle">1000</text>
<text transform="translate(30.20,495.10) scale(0.655,1)" text-anchor="end">-1000</text>
<text transform="translate(30.20,453.22) scale(0.655,1)" text-anchor="end">-500</text>
<text transform="translate(30.20,411.33) scale(0.655,1)" text-anchor="end">0</text>
<text transform="translate(30.20,369.45) scale(0.655,1)" text-anchor="end">500</text>
<text transform="translate(102.15,359.75) scale(0.655,1)" text-anchor="middle">(g) Pd=0.9</text>
<text transform="translate(101.75,515.40) scale(0.655,1)" text-anchor="middle">X Position</text>
<text transform="translate(12.00,430.28) rotate(-90) scale(0.7,0.93)" text-anchor="middle" stroke="none" fill="#2a2a2a" letter-spacing="1.9">Y Position</text>
<circle class="r" cx="48.84" cy="430.39" r="1.45"/><circle class="r" cx="50.48" cy="430.70" r="1.45"/><circle class="r" cx="52.12" cy="431.01" r="1.45"/><circle class="r" cx="53.77" cy="431.32" r="1.45"/><circle class="b" cx="53.22" cy="431.68" r="2.1"/><circle class="r" cx="55.41" cy="431.63" r="1.45"/><circle class="b" cx="55.15" cy="431.99" r="2.1"/><circle class="r" cx="57.06" cy="431.94" r="1.45"/><circle class="b" cx="57.32" cy="431.81" r="2.1"/><circle class="r" cx="58.70" cy="432.25" r="1.45"/><circle class="b" cx="58.60" cy="431.83" r="2.1"/><circle class="r" cx="60.34" cy="432.56" r="1.45"/><circle class="b" cx="60.26" cy="432.71" r="2.1"/><circle class="r" cx="61.99" cy="432.87" r="1.45"/><circle class="b" cx="61.59" cy="433.25" r="2.1"/><circle class="r" cx="63.63" cy="433.18" r="1.45"/><circle class="b" cx="64.25" cy="432.74" r="2.1"/><circle class="r" cx="65.28" cy="433.49" r="1.45"/><circle class="b" cx="63.70" cy="432.45" r="2.1"/><circle class="r" cx="66.92" cy="433.80" r="1.45"/><circle class="b" cx="67.17" cy="433.41" r="2.1"/><circle class="r" cx="68.57" cy="434.11" r="1.45"/><circle class="b" cx="68.94" cy="433.80" r="2.1"/><circle class="r" cx="70.21" cy="434.42" r="1.45"/><circle class="b" cx="69.37" cy="434.36" r="2.1"/><circle class="r" cx="71.85" cy="434.73" r="1.45"/><circle class="b" cx="71.83" cy="434.27" r="2.1"/><circle class="r" cx="73.50" cy="435.04" r="1.45"/><circle class="b" cx="73.25" cy="434.52" r="2.1"/><circle class="r" cx="75.14" cy="435.35" r="1.45"/><circle class="b" cx="75.17" cy="435.12" r="2.1"/><circle class="r" cx="76.79" cy="435.66" r="1.45"/><circle class="b" cx="77.52" cy="436.04" r="2.1"/><circle class="r" cx="78.43" cy="435.97" r="1.45"/><circle class="b" cx="79.07" cy="436.36" r="2.1"/><circle class="r" cx="80.07" cy="436.28" r="1.45"/><circle class="b" cx="80.71" cy="436.51" r="2.1"/><circle class="r" cx="81.72" cy="436.59" r="1.45"/><circle class="b" cx="81.57" cy="436.60" r="2.1"/><circle class="r" cx="83.36" cy="436.89" r="1.45"/><circle class="b" cx="82.84" cy="437.19" r="2.1"/><circle class="r" cx="85.01" cy="437.20" r="1.45"/><circle class="b" cx="85.38" cy="436.37" r="2.1"/><circle class="r" cx="86.65" cy="437.51" r="1.45"/><circle class="b" cx="86.38" cy="437.98" r="2.1"/><circle class="r" cx="88.29" cy="437.82" r="1.45"/><circle class="b" cx="89.65" cy="437.73" r="2.1"/><circle class="r" cx="89.94" cy="438.13" r="1.45"/><circle class="b" cx="89.81" cy="438.45" r="2.1"/><circle class="r" cx="91.58" cy="438.44" r="1.45"/><circle class="b" cx="91.08" cy="438.26" r="2.1"/><circle class="r" cx="93.23" cy="438.75" r="1.45"/><circle class="b" cx="93.59" cy="438.87" r="2.1"/><circle class="r" cx="94.87" cy="439.06" r="1.45"/><circle class="b" cx="95.16" cy="438.22" r="2.1"/><circle class="r" cx="96.51" cy="439.37" r="1.45"/><circle class="b" cx="96.56" cy="439.51" r="2.1"/><circle class="r" cx="98.16" cy="439.68" r="1.45"/><circle class="b" cx="97.81" cy="440.04" r="2.1"/><circle class="r" cx="99.80" cy="439.99" r="1.45"/><circle class="b" cx="99.43" cy="439.77" r="2.1"/><circle class="r" cx="101.45" cy="440.30" r="1.45"/><circle class="b" cx="101.76" cy="441.26" r="2.1"/><circle class="r" cx="103.09" cy="440.61" r="1.45"/><circle class="b" cx="103.46" cy="440.73" r="2.1"/><circle class="r" cx="104.74" cy="440.92" r="1.45"/><circle class="b" cx="104.25" cy="441.23" r="2.1"/><circle class="r" cx="106.38" cy="441.23" r="1.45"/><circle class="b" cx="106.26" cy="442.02" r="2.1"/><circle class="r" cx="108.02" cy="441.54" r="1.45"/><circle class="b" cx="107.82" cy="440.75" r="2.1"/><circle class="r" cx="109.67" cy="441.85" r="1.45"/><circle class="b" cx="108.66" cy="442.14" r="2.1"/><circle class="r" cx="111.31" cy="442.16" r="1.45"/><circle class="b" cx="111.42" cy="442.05" r="2.1"/><circle class="r" cx="112.96" cy="442.47" r="1.45"/><circle class="b" cx="112.86" cy="442.36" r="2.1"/><circle class="r" cx="114.60" cy="442.78" r="1.45"/><circle class="b" cx="115.15" cy="443.04" r="2.1"/><circle class="r" cx="116.24" cy="443.09" r="1.45"/><circle class="b" cx="116.75" cy="442.82" r="2.1"/><circle class="r" cx="117.89" cy="443.40" r="1.45"/><circle class="b" cx="117.21" cy="443.40" r="2.1"/><circle class="r" cx="119.53" cy="443.71" r="1.45"/><circle class="b" cx="119.45" cy="444.00" r="2.1"/><circle class="r" cx="121.18" cy="444.02" r="1.45"/><circle class="b" cx="121.79" cy="444.81" r="2.1"/><circle class="r" cx="122.82" cy="444.32" r="1.45"/><circle class="b" cx="122.98" cy="444.44" r="2.1"/><circle class="r" cx="124.46" cy="444.63" r="1.45"/><circle class="b" cx="124.91" cy="444.49" r="2.1"/><circle class="r" cx="126.11" cy="444.94" r="1.45"/><circle class="b" cx="126.06" cy="445.92" r="2.1"/><circle class="r" cx="127.75" cy="445.25" r="1.45"/><circle class="b" cx="127.84" cy="445.38" r="2.1"/><circle class="r" cx="129.40" cy="445.56" r="1.45"/><circle class="b" cx="130.22" cy="445.78" r="2.1"/><circle class="r" cx="131.04" cy="445.87" r="1.45"/><circle class="b" cx="131.11" cy="446.46" r="2.1"/><circle class="r" cx="132.68" cy="446.18" r="1.45"/><circle class="b" cx="132.44" cy="446.09" r="2.1"/><circle class="r" cx="134.33" cy="446.49" r="1.45"/><circle class="b" cx="133.94" cy="447.26" r="2.1"/><circle class="r" cx="135.97" cy="446.80" r="1.45"/><circle class="b" cx="136.36" cy="445.60" r="2.1"/><circle class="r" cx="137.62" cy="447.11" r="1.45"/><circle class="b" cx="138.05" cy="447.20" r="2.1"/><circle class="r" cx="139.26" cy="447.42" r="1.45"/><circle class="b" cx="139.36" cy="447.98" r="2.1"/><circle class="r" cx="140.91" cy="447.73" r="1.45"/><circle class="b" cx="140.20" cy="447.89" r="2.1"/><circle class="r" cx="142.55" cy="448.04" r="1.45"/><circle class="b" cx="142.45" cy="447.84" r="2.1"/><circle class="r" cx="144.19" cy="448.35" r="1.45"/><circle class="b" cx="144.93" cy="449.06" r="2.1"/><circle class="r" cx="145.84" cy="448.66" r="1.45"/><circle class="b" cx="146.35" cy="448.45" r="2.1"/><circle class="r" cx="147.48" cy="448.97" r="1.45"/><circle class="b" cx="147.05" cy="449.58" r="2.1"/><circle class="r" cx="149.13" cy="449.28" r="1.45"/><circle class="b" cx="149.31" cy="449.19" r="2.1"/><circle class="r" cx="150.77" cy="449.59" r="1.45"/><circle class="b" cx="151.17" cy="449.13" r="2.1"/><circle class="r" cx="152.41" cy="449.90" r="1.45"/><circle class="b" cx="152.62" cy="450.03" r="2.1"/><circle class="r" cx="154.06" cy="450.21" r="1.45"/><circle class="b" cx="154.74" cy="449.67" r="2.1"/><circle class="r" cx="155.70" cy="450.52" r="1.45"/><circle class="b" cx="155.80" cy="450.46" r="2.1"/><circle class="r" cx="157.35" cy="450.83" r="1.45"/><circle class="b" cx="157.75" cy="450.74" r="2.1"/><circle class="r" cx="158.99" cy="451.14" r="1.45"/><circle class="b" cx="158.91" cy="451.02" r="2.1"/><circle class="r" cx="160.63" cy="451.44" r="1.45"/><circle class="b" cx="160.31" cy="451.55" r="2.1"/><circle class="r" cx="162.28" cy="451.75" r="1.45"/><circle class="b" cx="162.62" cy="452.47" r="2.1"/>
<circle class="r" cx="46.23" cy="463.48" r="1.45"/><circle class="c" cx="46.75" cy="463.73" r="2.35"/><circle class="r" cx="47.72" cy="463.22" r="1.45"/><circle class="c" cx="46.97" cy="462.97" r="2.35"/><circle class="r" cx="49.21" cy="462.96" r="1.45"/><circle class="c" cx="49.09" cy="462.99" r="2.35"/><circle class="r" cx="50.69" cy="462.70" r="1.45"/><circle class="c" cx="51.23" cy="463.07" r="2.35"/><circle class="r" cx="52.18" cy="462.44" r="1.45"/><circle class="c" cx="51.81" cy="462.24" r="2.35"/><circle class="r" cx="53.67" cy="462.18" r="1.45"/><circle class="c" cx="53.53" cy="461.95" r="2.35"/><circle class="r" cx="55.16" cy="461.92" r="1.45"/><circle class="c" cx="55.53" cy="461.77" r="2.35"/><circle class="r" cx="56.64" cy="461.66" r="1.45"/><circle class="c" cx="57.00" cy="461.29" r="2.35"/><circle class="r" cx="58.13" cy="461.40" r="1.45"/><circle class="c" cx="58.90" cy="461.91" r="2.35"/><circle class="r" cx="59.62" cy="461.14" r="1.45"/><circle class="c" cx="59.06" cy="461.15" r="2.35"/><circle class="r" cx="61.11" cy="460.88" r="1.45"/><circle class="c" cx="60.84" cy="460.93" r="2.35"/><circle class="r" cx="62.59" cy="460.61" r="1.45"/><circle class="c" cx="62.16" cy="460.60" r="2.35"/><circle class="r" cx="64.08" cy="460.35" r="1.45"/><circle class="c" cx="63.83" cy="460.53" r="2.35"/><circle class="r" cx="65.57" cy="460.09" r="1.45"/><circle class="c" cx="65.63" cy="461.00" r="2.35"/><circle class="r" cx="67.06" cy="459.83" r="1.45"/><circle class="c" cx="67.12" cy="459.78" r="2.35"/><circle class="r" cx="68.54" cy="459.57" r="1.45"/><circle class="c" cx="67.75" cy="459.63" r="2.35"/><circle class="r" cx="70.03" cy="459.31" r="1.45"/><circle class="c" cx="69.91" cy="459.01" r="2.35"/><circle class="r" cx="71.52" cy="459.05" r="1.45"/><circle class="c" cx="71.72" cy="459.34" r="2.35"/><circle class="r" cx="73.01" cy="458.79" r="1.45"/><circle class="c" cx="72.58" cy="459.13" r="2.35"/><circle class="r" cx="74.50" cy="458.53" r="1.45"/><circle class="c" cx="74.64" cy="458.41" r="2.35"/><circle class="r" cx="75.98" cy="458.27" r="1.45"/><circle class="c" cx="76.04" cy="458.87" r="2.35"/><circle class="r" cx="77.47" cy="458.01" r="1.45"/><circle class="c" cx="77.43" cy="457.85" r="2.35"/><circle class="r" cx="78.96" cy="457.75" r="1.45"/><circle class="c" cx="77.92" cy="457.00" r="2.35"/><circle class="r" cx="80.45" cy="457.49" r="1.45"/><circle class="c" cx="79.94" cy="457.02" r="2.35"/><circle class="r" cx="81.93" cy="457.23" r="1.45"/><circle class="c" cx="81.48" cy="457.91" r="2.35"/><circle class="r" cx="83.42" cy="456.97" r="1.45"/><circle class="c" cx="83.48" cy="456.93" r="2.35"/><circle class="r" cx="84.91" cy="456.71" r="1.45"/><circle class="c" cx="84.52" cy="456.95" r="2.35"/><circle class="r" cx="86.40" cy="456.45" r="1.45"/><circle class="c" cx="86.42" cy="457.18" r="2.35"/><circle class="r" cx="87.88" cy="456.18" r="1.45"/><circle class="c" cx="88.12" cy="456.52" r="2.35"/><circle class="r" cx="89.37" cy="455.92" r="1.45"/><circle class="c" cx="89.47" cy="456.22" r="2.35"/><circle class="r" cx="90.86" cy="455.66" r="1.45"/><circle class="c" cx="92.39" cy="455.43" r="2.35"/><circle class="r" cx="92.35" cy="455.40" r="1.45"/><circle class="c" cx="91.82" cy="455.47" r="2.35"/><circle class="r" cx="93.83" cy="455.14" r="1.45"/><circle class="c" cx="94.46" cy="454.73" r="2.35"/><circle class="r" cx="95.32" cy="454.88" r="1.45"/><circle class="c" cx="95.52" cy="455.48" r="2.35"/><circle class="r" cx="96.81" cy="454.62" r="1.45"/><circle class="c" cx="96.85" cy="454.43" r="2.35"/><circle class="r" cx="98.30" cy="454.36" r="1.45"/><circle class="c" cx="98.14" cy="454.58" r="2.35"/><circle class="r" cx="99.78" cy="454.10" r="1.45"/><circle class="c" cx="99.44" cy="453.44" r="2.35"/><circle class="r" cx="101.27" cy="453.84" r="1.45"/><circle class="c" cx="101.77" cy="452.91" r="2.35"/><circle class="r" cx="102.76" cy="453.58" r="1.45"/><circle class="c" cx="102.73" cy="452.73" r="2.35"/><circle class="r" cx="104.25" cy="453.32" r="1.45"/><circle class="c" cx="103.84" cy="453.06" r="2.35"/><circle class="r" cx="105.74" cy="453.06" r="1.45"/><circle class="c" cx="105.93" cy="452.17" r="2.35"/><circle class="r" cx="107.22" cy="452.80" r="1.45"/><circle class="c" cx="107.76" cy="452.66" r="2.35"/><circle class="r" cx="108.71" cy="452.54" r="1.45"/><circle class="c" cx="109.59" cy="453.32" r="2.35"/><circle class="r" cx="110.20" cy="452.28" r="1.45"/><circle class="c" cx="110.19" cy="453.13" r="2.35"/><circle class="r" cx="111.69" cy="452.01" r="1.45"/><circle class="c" cx="111.85" cy="452.49" r="2.35"/><circle class="r" cx="113.17" cy="451.75" r="1.45"/><circle class="c" cx="112.19" cy="451.80" r="2.35"/>
<circle class="r" cx="97.64" cy="388.51" r="1.45"/><circle class="r" cx="98.00" cy="389.89" r="1.45"/><circle class="r" cx="98.35" cy="391.27" r="1.45"/><circle class="b" cx="98.24" cy="390.84" r="2.1"/><circle class="r" cx="98.71" cy="392.65" r="1.45"/><circle class="b" cx="98.89" cy="391.99" r="2.1"/><circle class="r" cx="99.06" cy="394.03" r="1.45"/><circle class="b" cx="99.27" cy="393.62" r="2.1"/><circle class="r" cx="99.42" cy="395.41" r="1.45"/><circle class="b" cx="98.93" cy="394.71" r="2.1"/><circle class="r" cx="99.78" cy="396.79" r="1.45"/><circle class="b" cx="99.07" cy="396.31" r="2.1"/><circle class="r" cx="100.13" cy="398.17" r="1.45"/><circle class="b" cx="100.65" cy="398.19" r="2.1"/><circle class="r" cx="100.49" cy="399.55" r="1.45"/><circle class="b" cx="102.88" cy="401.54" r="2.1"/><circle class="r" cx="100.84" cy="400.93" r="1.45"/><circle class="b" cx="100.45" cy="400.63" r="2.1"/><circle class="r" cx="101.20" cy="402.31" r="1.45"/><circle class="b" cx="101.29" cy="402.72" r="2.1"/><circle class="r" cx="101.55" cy="403.69" r="1.45"/><circle class="b" cx="101.28" cy="403.44" r="2.1"/><circle class="r" cx="101.91" cy="405.07" r="1.45"/><circle class="b" cx="101.82" cy="405.77" r="2.1"/><circle class="r" cx="102.27" cy="406.45" r="1.45"/><circle class="b" cx="101.83" cy="405.76" r="2.1"/><circle class="r" cx="102.62" cy="407.84" r="1.45"/><circle class="b" cx="102.57" cy="407.72" r="2.1"/><circle class="r" cx="102.98" cy="409.22" r="1.45"/><circle class="b" cx="103.12" cy="409.54" r="2.1"/><circle class="r" cx="103.33" cy="410.60" r="1.45"/><circle class="b" cx="103.13" cy="410.84" r="2.1"/><circle class="r" cx="103.69" cy="411.98" r="1.45"/><circle class="b" cx="102.96" cy="411.37" r="2.1"/><circle class="r" cx="104.05" cy="413.36" r="1.45"/><circle class="b" cx="102.92" cy="413.36" r="2.1"/><circle class="r" cx="104.40" cy="414.74" r="1.45"/><circle class="b" cx="104.69" cy="414.72" r="2.1"/><circle class="r" cx="104.76" cy="416.12" r="1.45"/><circle class="b" cx="105.05" cy="416.59" r="2.1"/><circle class="r" cx="105.11" cy="417.50" r="1.45"/><circle class="b" cx="106.96" cy="421.15" r="2.1"/><circle class="r" cx="105.47" cy="418.88" r="1.45"/><circle class="b" cx="105.59" cy="418.56" r="2.1"/><circle class="r" cx="105.82" cy="420.26" r="1.45"/><circle class="b" cx="106.28" cy="420.60" r="2.1"/><circle class="r" cx="106.18" cy="421.64" r="1.45"/><circle class="b" cx="105.74" cy="421.60" r="2.1"/><circle class="r" cx="106.54" cy="423.02" r="1.45"/><circle class="b" cx="107.06" cy="422.61" r="2.1"/><circle class="r" cx="106.89" cy="424.40" r="1.45"/><circle class="b" cx="106.55" cy="424.06" r="2.1"/><circle class="r" cx="107.25" cy="425.78" r="1.45"/><circle class="b" cx="106.82" cy="426.28" r="2.1"/><circle class="r" cx="107.60" cy="427.16" r="1.45"/><circle class="b" cx="107.21" cy="427.54" r="2.1"/><circle class="r" cx="107.96" cy="428.54" r="1.45"/><circle class="b" cx="108.40" cy="428.25" r="2.1"/><circle class="r" cx="108.32" cy="429.92" r="1.45"/><circle class="b" cx="108.47" cy="429.90" r="2.1"/><circle class="r" cx="108.67" cy="431.30" r="1.45"/><circle class="b" cx="108.44" cy="430.78" r="2.1"/><circle class="r" cx="109.03" cy="432.68" r="1.45"/><circle class="b" cx="109.03" cy="431.73" r="2.1"/><circle class="r" cx="109.38" cy="434.06" r="1.45"/><circle class="b" cx="109.38" cy="433.94" r="2.1"/><circle class="r" cx="109.74" cy="435.44" r="1.45"/><circle class="b" cx="110.46" cy="436.29" r="2.1"/><circle class="r" cx="110.09" cy="436.82" r="1.45"/><circle class="b" cx="110.46" cy="437.29" r="2.1"/><circle class="r" cx="110.45" cy="438.20" r="1.45"/><circle class="b" cx="110.88" cy="438.33" r="2.1"/><circle class="r" cx="110.81" cy="439.58" r="1.45"/><circle class="b" cx="110.58" cy="439.30" r="2.1"/><circle class="r" cx="111.16" cy="440.96" r="1.45"/><circle class="b" cx="111.02" cy="441.51" r="2.1"/><circle class="r" cx="111.52" cy="442.34" r="1.45"/><circle class="b" cx="112.16" cy="442.25" r="2.1"/><circle class="r" cx="111.87" cy="443.72" r="1.45"/><circle class="b" cx="111.68" cy="443.33" r="2.1"/><circle class="r" cx="112.23" cy="445.10" r="1.45"/><circle class="b" cx="112.06" cy="444.44" r="2.1"/><circle class="r" cx="112.59" cy="446.48" r="1.45"/><circle class="b" cx="112.89" cy="446.99" r="2.1"/><circle class="r" cx="112.94" cy="447.86" r="1.45"/><circle class="b" cx="113.05" cy="447.46" r="2.1"/><circle class="r" cx="113.30" cy="449.24" r="1.45"/><circle class="b" cx="112.38" cy="449.15" r="2.1"/><circle class="r" cx="113.65" cy="450.63" r="1.45"/><circle class="b" cx="113.63" cy="450.35" r="2.1"/><circle class="r" cx="114.01" cy="452.01" r="1.45"/><circle class="b" cx="114.37" cy="452.13" r="2.1"/><circle class="r" cx="114.36" cy="453.39" r="1.45"/><circle class="b" cx="115.49" cy="453.15" r="2.1"/><circle class="r" cx="114.72" cy="454.77" r="1.45"/><circle class="b" cx="114.33" cy="455.77" r="2.1"/><circle class="r" cx="115.08" cy="456.15" r="1.45"/><circle class="b" cx="114.87" cy="456.58" r="2.1"/><circle class="r" cx="115.43" cy="457.53" r="1.45"/><circle class="b" cx="115.40" cy="457.98" r="2.1"/><circle class="r" cx="115.79" cy="458.91" r="1.45"/><circle class="b" cx="116.13" cy="458.83" r="2.1"/><circle class="r" cx="116.14" cy="460.29" r="1.45"/><circle class="b" cx="116.56" cy="460.02" r="2.1"/><circle class="r" cx="116.50" cy="461.67" r="1.45"/><circle class="b" cx="115.99" cy="461.07" r="2.1"/><circle class="r" cx="116.86" cy="463.05" r="1.45"/><circle class="b" cx="117.29" cy="463.67" r="2.1"/><circle class="r" cx="117.21" cy="464.43" r="1.45"/><circle class="b" cx="116.59" cy="464.19" r="2.1"/><circle class="r" cx="117.57" cy="465.81" r="1.45"/><circle class="b" cx="117.50" cy="466.23" r="2.1"/><circle class="r" cx="117.92" cy="467.19" r="1.45"/><circle class="b" cx="117.56" cy="467.12" r="2.1"/><circle class="r" cx="118.28" cy="468.57" r="1.45"/><circle class="b" cx="118.23" cy="469.34" r="2.1"/><circle class="r" cx="118.63" cy="469.95" r="1.45"/><circle class="b" cx="118.90" cy="469.43" r="2.1"/><circle class="r" cx="118.99" cy="471.33" r="1.45"/><circle class="b" cx="119.32" cy="471.20" r="2.1"/><circle class="r" cx="119.35" cy="472.71" r="1.45"/><circle class="b" cx="119.86" cy="472.95" r="2.1"/><circle class="r" cx="119.70" cy="474.09" r="1.45"/><circle class="b" cx="119.50" cy="473.67" r="2.1"/><circle class="r" cx="120.06" cy="475.47" r="1.45"/><circle class="b" cx="120.35" cy="475.72" r="2.1"/><circle class="r" cx="120.41" cy="476.85" r="1.45"/><circle class="b" cx="121.04" cy="476.72" r="2.1"/><circle class="r" cx="120.77" cy="478.23" r="1.45"/><circle class="b" cx="120.84" cy="477.79" r="2.1"/><circle class="r" cx="121.13" cy="479.61" r="1.45"/><circle class="b" cx="121.11" cy="479.20" r="2.1"/><circle class="r" cx="121.48" cy="480.99" r="1.45"/><circle class="b" cx="121.62" cy="480.60" r="2.1"/><circle class="r" cx="121.84" cy="482.37" r="1.45"/><circle class="r" cx="122.19" cy="483.75" r="1.45"/>
<circle class="e" cx="73.10" cy="438.80" r="2.3"/><circle class="e" cx="97.10" cy="436.90" r="2.3"/><circle class="e" cx="97.10" cy="443.40" r="2.3"/><circle class="e" cx="118.10" cy="470.20" r="2.3"/>
</g>
<g>
<path d="M216.00 492.80H356.30M216.00 492.80v-1.8M236.04 492.80v-1.8M256.09 492.80v-1.8M276.13 492.80v-1.8M296.17 492.80v-1.8M316.21 492.80v-1.8M336.26 492.80v-1.8M356.30 492.80v-1.8" fill="none" stroke="#bcbcbc" stroke-width="1"/>
<path d="M216.00 367.15V493.30M216.00 492.80h1.8M216.00 450.92h1.8M216.00 409.03h1.8M216.00 367.15h1.8" fill="none" stroke="#a8a8a8" stroke-width="1"/>
<text transform="translate(216.00,502.70) scale(0.655,1)" text-anchor="middle">-400</text>
<text transform="translate(236.04,502.70) scale(0.655,1)" text-anchor="middle">-200</text>
<text transform="translate(256.09,502.70) scale(0.655,1)" text-anchor="middle">0</text>
<text transform="translate(276.13,502.70) scale(0.655,1)" text-anchor="middle">200</text>
<text transform="translate(296.17,502.70) scale(0.655,1)" text-anchor="middle">400</text>
<text transform="translate(316.21,502.70) scale(0.655,1)" text-anchor="middle">600</text>
<text transform="translate(336.26,502.70) scale(0.655,1)" text-anchor="middle">800</text>
<text transform="translate(356.30,502.70) scale(0.655,1)" text-anchor="middle">1000</text>
<text transform="translate(214.20,495.10) scale(0.655,1)" text-anchor="end">-1000</text>
<text transform="translate(214.20,453.22) scale(0.655,1)" text-anchor="end">-500</text>
<text transform="translate(214.20,411.33) scale(0.655,1)" text-anchor="end">0</text>
<text transform="translate(214.20,369.45) scale(0.655,1)" text-anchor="end">500</text>
<text transform="translate(286.15,359.75) scale(0.655,1)" text-anchor="middle">(h) Pd=0.8</text>
<text transform="translate(285.75,515.40) scale(0.655,1)" text-anchor="middle">X Position</text>
<text transform="translate(196.00,430.28) rotate(-90) scale(0.7,0.93)" text-anchor="middle" stroke="none" fill="#2a2a2a" letter-spacing="1.9">Y Position</text>
<circle class="r" cx="232.84" cy="430.39" r="1.45"/><circle class="r" cx="234.48" cy="430.70" r="1.45"/><circle class="r" cx="236.12" cy="431.01" r="1.45"/><circle class="r" cx="237.77" cy="431.32" r="1.45"/><circle class="b" cx="238.24" cy="430.83" r="2.1"/><circle class="r" cx="239.41" cy="431.63" r="1.45"/><circle class="b" cx="238.84" cy="430.60" r="2.1"/><circle class="r" cx="241.06" cy="431.94" r="1.45"/><circle class="b" cx="240.95" cy="432.11" r="2.1"/><circle class="r" cx="242.70" cy="432.25" r="1.45"/><circle class="b" cx="241.63" cy="432.24" r="2.1"/><circle class="r" cx="244.34" cy="432.56" r="1.45"/><circle class="b" cx="243.85" cy="432.30" r="2.1"/><circle class="r" cx="245.99" cy="432.87" r="1.45"/><circle class="b" cx="245.83" cy="433.92" r="2.1"/><circle class="r" cx="247.63" cy="433.18" r="1.45"/><circle class="b" cx="247.80" cy="432.91" r="2.1"/><circle class="r" cx="249.28" cy="433.49" r="1.45"/><circle class="b" cx="249.29" cy="432.84" r="2.1"/><circle class="r" cx="250.92" cy="433.80" r="1.45"/><circle class="b" cx="251.65" cy="433.26" r="2.1"/><circle class="r" cx="252.57" cy="434.11" r="1.45"/><circle class="b" cx="251.89" cy="433.20" r="2.1"/><circle class="r" cx="254.21" cy="434.42" r="1.45"/><circle class="b" cx="253.97" cy="433.60" r="2.1"/><circle class="r" cx="255.85" cy="434.73" r="1.45"/><circle class="b" cx="255.82" cy="434.93" r="2.1"/><circle class="r" cx="257.50" cy="435.04" r="1.45"/><circle class="b" cx="257.69" cy="434.65" r="2.1"/><circle class="r" cx="259.14" cy="435.35" r="1.45"/><circle class="b" cx="259.18" cy="435.59" r="2.1"/><circle class="r" cx="260.79" cy="435.66" r="1.45"/><circle class="b" cx="261.76" cy="435.50" r="2.1"/><circle class="r" cx="262.43" cy="435.97" r="1.45"/><circle class="b" cx="262.36" cy="435.76" r="2.1"/><circle class="r" cx="264.07" cy="436.28" r="1.45"/><circle class="b" cx="264.05" cy="436.32" r="2.1"/><circle class="r" cx="265.72" cy="436.59" r="1.45"/><circle class="b" cx="266.00" cy="436.92" r="2.1"/><circle class="r" cx="267.36" cy="436.89" r="1.45"/><circle class="b" cx="266.70" cy="437.13" r="2.1"/><circle class="r" cx="269.01" cy="437.20" r="1.45"/><circle class="b" cx="270.01" cy="437.46" r="2.1"/><circle class="r" cx="270.65" cy="437.51" r="1.45"/><circle class="b" cx="270.77" cy="438.28" r="2.1"/><circle class="r" cx="272.29" cy="437.82" r="1.45"/><circle class="b" cx="271.95" cy="438.45" r="2.1"/><circle class="r" cx="273.94" cy="438.13" r="1.45"/><circle class="b" cx="274.04" cy="437.77" r="2.1"/><circle class="r" cx="275.58" cy="438.44" r="1.45"/><circle class="b" cx="275.83" cy="437.81" r="2.1"/><circle class="r" cx="277.23" cy="438.75" r="1.45"/><circle class="b" cx="277.30" cy="438.35" r="2.1"/><circle class="r" cx="278.87" cy="439.06" r="1.45"/><circle class="b" cx="278.69" cy="439.15" r="2.1"/><circle class="r" cx="280.51" cy="439.37" r="1.45"/><circle class="b" cx="280.40" cy="438.65" r="2.1"/><circle class="r" cx="282.16" cy="439.68" r="1.45"/><circle class="b" cx="281.43" cy="439.63" r="2.1"/><circle class="r" cx="283.80" cy="439.99" r="1.45"/><circle class="b" cx="285.03" cy="438.65" r="2.1"/><circle class="r" cx="285.45" cy="440.30" r="1.45"/><circle class="b" cx="285.92" cy="440.18" r="2.1"/><circle class="r" cx="287.09" cy="440.61" r="1.45"/><circle class="b" cx="287.66" cy="440.88" r="2.1"/><circle class="r" cx="288.74" cy="440.92" r="1.45"/><circle class="b" cx="287.94" cy="441.16" r="2.1"/><circle class="r" cx="290.38" cy="441.23" r="1.45"/><circle class="b" cx="289.90" cy="441.37" r="2.1"/><circle class="r" cx="292.02" cy="441.54" r="1.45"/><circle class="b" cx="291.66" cy="441.80" r="2.1"/><circle class="r" cx="293.67" cy="441.85" r="1.45"/><circle class="b" cx="293.61" cy="441.19" r="2.1"/><circle class="r" cx="295.31" cy="442.16" r="1.45"/><circle class="b" cx="295.59" cy="442.97" r="2.1"/><circle class="r" cx="296.96" cy="442.47" r="1.45"/><circle class="b" cx="296.89" cy="443.17" r="2.1"/><circle class="r" cx="298.60" cy="442.78" r="1.45"/><circle class="b" cx="299.50" cy="442.62" r="2.1"/><circle class="r" cx="300.24" cy="443.09" r="1.45"/><circle class="b" cx="301.02" cy="442.66" r="2.1"/><circle class="r" cx="301.89" cy="443.40" r="1.45"/><circle class="b" cx="302.23" cy="443.54" r="2.1"/><circle class="r" cx="303.53" cy="443.71" r="1.45"/><circle class="b" cx="305.31" cy="441.65" r="2.1"/><circle class="r" cx="305.18" cy="444.02" r="1.45"/><circle class="b" cx="305.13" cy="444.53" r="2.1"/><circle class="r" cx="306.82" cy="444.32" r="1.45"/><circle class="b" cx="305.68" cy="443.07" r="2.1"/><circle class="r" cx="308.46" cy="444.63" r="1.45"/><circle class="b" cx="308.79" cy="444.73" r="2.1"/><circle class="r" cx="310.11" cy="444.94" r="1.45"/><circle class="b" cx="310.91" cy="444.35" r="2.1"/><circle class="r" cx="311.75" cy="445.25" r="1.45"/><circle class="b" cx="311.96" cy="445.41" r="2.1"/><circle class="r" cx="313.40" cy="445.56" r="1.45"/><circle class="b" cx="313.50" cy="444.95" r="2.1"/><circle class="r" cx="315.04" cy="445.87" r="1.45"/><circle class="b" cx="315.87" cy="445.36" r="2.1"/><circle class="r" cx="316.68" cy="446.18" r="1.45"/><circle class="b" cx="316.81" cy="445.92" r="2.1"/><circle class="r" cx="318.33" cy="446.49" r="1.45"/><circle class="b" cx="317.73" cy="446.24" r="2.1"/><circle class="r" cx="319.97" cy="446.80" r="1.45"/><circle class="b" cx="319.97" cy="446.92" r="2.1"/><circle class="r" cx="321.62" cy="447.11" r="1.45"/><circle class="b" cx="321.29" cy="445.83" r="2.1"/><circle class="r" cx="323.26" cy="447.42" r="1.45"/><circle class="b" cx="322.44" cy="447.77" r="2.1"/><circle class="r" cx="324.91" cy="447.73" r="1.45"/><circle class="b" cx="325.31" cy="446.75" r="2.1"/><circle class="r" cx="326.55" cy="448.04" r="1.45"/><circle class="b" cx="326.93" cy="448.07" r="2.1"/><circle class="r" cx="328.19" cy="448.35" r="1.45"/><circle class="b" cx="328.14" cy="448.40" r="2.1"/><circle class="r" cx="329.84" cy="448.66" r="1.45"/><circle class="b" cx="329.98" cy="448.06" r="2.1"/><circle class="r" cx="331.48" cy="448.97" r="1.45"/><circle class="b" cx="333.09" cy="447.62" r="2.1"/><circle class="r" cx="333.13" cy="449.28" r="1.45"/><circle class="b" cx="332.78" cy="449.97" r="2.1"/><circle class="r" cx="334.77" cy="449.59" r="1.45"/><circle class="b" cx="333.99" cy="449.66" r="2.1"/><circle class="r" cx="336.41" cy="449.90" r="1.45"/><circle class="b" cx="336.46" cy="451.09" r="2.1"/><circle class="r" cx="338.06" cy="450.21" r="1.45"/><circle class="b" cx="338.64" cy="450.65" r="2.1"/><circle class="r" cx="339.70" cy="450.52" r="1.45"/><circle class="b" cx="339.89" cy="451.09" r="2.1"/><circle class="r" cx="341.35" cy="450.83" r="1.45"/><circle class="b" cx="340.78" cy="450.17" r="2.1"/><circle class="r" cx="342.99" cy="451.14" r="1.45"/><circle class="b" cx="343.80" cy="451.50" r="2.1"/><circle class="r" cx="344.63" cy="451.44" r="1.45"/><circle class="b" cx="344.09" cy="451.55" r="2.1"/><circle class="r" cx="346.28" cy="451.75" r="1.45"/><circle class="b" cx="346.19" cy="451.36" r="2.1"/>
<circle class="r" cx="230.23" cy="463.48" r="1.45"/><circle class="c" cx="230.01" cy="462.90" r="2.35"/><circle class="r" cx="231.72" cy="463.22" r="1.45"/><circle class="c" cx="232.34" cy="462.82" r="2.35"/><circle class="r" cx="233.21" cy="462.96" r="1.45"/><circle class="c" cx="233.32" cy="464.57" r="2.35"/><circle class="r" cx="234.69" cy="462.70" r="1.45"/><circle class="c" cx="233.94" cy="463.31" r="2.35"/><circle class="r" cx="236.18" cy="462.44" r="1.45"/><circle class="c" cx="235.58" cy="461.76" r="2.35"/><circle class="r" cx="237.67" cy="462.18" r="1.45"/><circle class="c" cx="241.53" cy="464.76" r="2.35"/><circle class="r" cx="239.16" cy="461.92" r="1.45"/><circle class="c" cx="239.32" cy="461.96" r="2.35"/><circle class="r" cx="240.64" cy="461.66" r="1.45"/><circle class="c" cx="240.99" cy="461.49" r="2.35"/><circle class="r" cx="242.13" cy="461.40" r="1.45"/><circle class="c" cx="242.84" cy="461.06" r="2.35"/><circle class="r" cx="243.62" cy="461.14" r="1.45"/><circle class="c" cx="243.59" cy="461.45" r="2.35"/><circle class="r" cx="245.11" cy="460.88" r="1.45"/><circle class="c" cx="245.14" cy="460.08" r="2.35"/><circle class="r" cx="246.59" cy="460.61" r="1.45"/><circle class="c" cx="246.51" cy="460.27" r="2.35"/><circle class="r" cx="248.08" cy="460.35" r="1.45"/><circle class="c" cx="248.43" cy="460.92" r="2.35"/><circle class="r" cx="249.57" cy="460.09" r="1.45"/><circle class="c" cx="249.84" cy="458.97" r="2.35"/><circle class="r" cx="251.06" cy="459.83" r="1.45"/><circle class="c" cx="252.13" cy="459.85" r="2.35"/><circle class="r" cx="252.54" cy="459.57" r="1.45"/><circle class="c" cx="252.83" cy="458.99" r="2.35"/><circle class="r" cx="254.03" cy="459.31" r="1.45"/><circle class="c" cx="253.22" cy="458.76" r="2.35"/><circle class="r" cx="255.52" cy="459.05" r="1.45"/><circle class="c" cx="256.17" cy="459.28" r="2.35"/><circle class="r" cx="257.01" cy="458.79" r="1.45"/><circle class="c" cx="256.95" cy="458.83" r="2.35"/><circle class="r" cx="258.50" cy="458.53" r="1.45"/><circle class="c" cx="259.52" cy="458.69" r="2.35"/><circle class="r" cx="259.98" cy="458.27" r="1.45"/><circle class="c" cx="259.71" cy="458.34" r="2.35"/><circle class="r" cx="261.47" cy="458.01" r="1.45"/><circle class="c" cx="261.63" cy="458.57" r="2.35"/><circle class="r" cx="262.96" cy="457.75" r="1.45"/><circle class="c" cx="263.64" cy="457.65" r="2.35"/><circle class="r" cx="264.45" cy="457.49" r="1.45"/><circle class="c" cx="265.19" cy="457.98" r="2.35"/><circle class="r" cx="265.93" cy="457.23" r="1.45"/><circle class="c" cx="266.08" cy="457.02" r="2.35"/><circle class="r" cx="267.42" cy="456.97" r="1.45"/><circle class="c" cx="267.12" cy="457.85" r="2.35"/><circle class="r" cx="268.91" cy="456.71" r="1.45"/><circle class="c" cx="267.71" cy="455.76" r="2.35"/><circle class="r" cx="270.40" cy="456.45" r="1.45"/><circle class="c" cx="270.61" cy="456.45" r="2.35"/><circle class="r" cx="271.88" cy="456.18" r="1.45"/><circle class="c" cx="271.62" cy="455.49" r="2.35"/><circle class="r" cx="273.37" cy="455.92" r="1.45"/><circle class="c" cx="272.83" cy="456.08" r="2.35"/><circle class="r" cx="274.86" cy="455.66" r="1.45"/><circle class="c" cx="274.13" cy="454.68" r="2.35"/><circle class="r" cx="276.35" cy="455.40" r="1.45"/><circle class="c" cx="276.70" cy="454.24" r="2.35"/><circle class="r" cx="277.83" cy="455.14" r="1.45"/><circle class="c" cx="277.81" cy="455.01" r="2.35"/><circle class="r" cx="279.32" cy="454.88" r="1.45"/><circle class="c" cx="279.67" cy="454.41" r="2.35"/><circle class="r" cx="280.81" cy="454.62" r="1.45"/><circle class="c" cx="281.37" cy="455.81" r="2.35"/><circle class="r" cx="282.30" cy="454.36" r="1.45"/><circle class="c" cx="282.18" cy="453.96" r="2.35"/><circle class="r" cx="283.78" cy="454.10" r="1.45"/><circle class="c" cx="283.50" cy="454.50" r="2.35"/><circle class="r" cx="285.27" cy="453.84" r="1.45"/><circle class="c" cx="283.82" cy="454.38" r="2.35"/><circle class="r" cx="286.76" cy="453.58" r="1.45"/><circle class="c" cx="287.61" cy="453.19" r="2.35"/><circle class="r" cx="288.25" cy="453.32" r="1.45"/><circle class="c" cx="289.17" cy="453.28" r="2.35"/><circle class="r" cx="289.74" cy="453.06" r="1.45"/><circle class="c" cx="289.74" cy="453.62" r="2.35"/><circle class="r" cx="291.22" cy="452.80" r="1.45"/><circle class="c" cx="291.65" cy="456.32" r="2.35"/><circle class="r" cx="292.71" cy="452.54" r="1.45"/><circle class="c" cx="292.26" cy="453.37" r="2.35"/><circle class="r" cx="294.20" cy="452.28" r="1.45"/><circle class="c" cx="294.95" cy="451.65" r="2.35"/><circle class="r" cx="295.69" cy="452.01" r="1.45"/><circle class="c" cx="296.50" cy="452.64" r="2.35"/><circle class="r" cx="297.17" cy="451.75" r="1.45"/><circle class="c" cx="296.81" cy="451.38" r="2.35"/>
<circle class="r" cx="281.64" cy="388.51" r="1.45"/><circle class="r" cx="282.00" cy="389.89" r="1.45"/><circle class="r" cx="282.35" cy="391.27" r="1.45"/><circle class="b" cx="282.67" cy="391.20" r="2.1"/><circle class="r" cx="282.71" cy="392.65" r="1.45"/><circle class="b" cx="282.31" cy="392.10" r="2.1"/><circle class="r" cx="283.06" cy="394.03" r="1.45"/><circle class="b" cx="282.05" cy="394.70" r="2.1"/><circle class="r" cx="283.42" cy="395.41" r="1.45"/><circle class="b" cx="283.65" cy="395.36" r="2.1"/><circle class="r" cx="283.78" cy="396.79" r="1.45"/><circle class="b" cx="283.50" cy="397.96" r="2.1"/><circle class="r" cx="284.13" cy="398.17" r="1.45"/><circle class="b" cx="283.96" cy="400.86" r="2.1"/><circle class="r" cx="284.49" cy="399.55" r="1.45"/><circle class="b" cx="284.75" cy="400.08" r="2.1"/><circle class="r" cx="284.84" cy="400.93" r="1.45"/><circle class="b" cx="284.51" cy="400.09" r="2.1"/><circle class="r" cx="285.20" cy="402.31" r="1.45"/><circle class="b" cx="285.20" cy="402.74" r="2.1"/><circle class="r" cx="285.55" cy="403.69" r="1.45"/><circle class="b" cx="285.13" cy="402.61" r="2.1"/><circle class="r" cx="285.91" cy="405.07" r="1.45"/><circle class="b" cx="286.68" cy="404.90" r="2.1"/><circle class="r" cx="286.27" cy="406.45" r="1.45"/><circle class="b" cx="285.85" cy="405.84" r="2.1"/><circle class="r" cx="286.62" cy="407.84" r="1.45"/><circle class="b" cx="286.56" cy="408.02" r="2.1"/><circle class="r" cx="286.98" cy="409.22" r="1.45"/><circle class="b" cx="287.50" cy="409.26" r="2.1"/><circle class="r" cx="287.33" cy="410.60" r="1.45"/><circle class="b" cx="287.82" cy="411.01" r="2.1"/><circle class="r" cx="287.69" cy="411.98" r="1.45"/><circle class="b" cx="287.52" cy="411.57" r="2.1"/><circle class="r" cx="288.05" cy="413.36" r="1.45"/><circle class="b" cx="288.16" cy="413.58" r="2.1"/><circle class="r" cx="288.40" cy="414.74" r="1.45"/><circle class="b" cx="287.69" cy="415.19" r="2.1"/><circle class="r" cx="288.76" cy="416.12" r="1.45"/><circle class="b" cx="288.72" cy="415.87" r="2.1"/><circle class="r" cx="289.11" cy="417.50" r="1.45"/><circle class="b" cx="288.54" cy="418.37" r="2.1"/><circle class="r" cx="289.47" cy="418.88" r="1.45"/><circle class="b" cx="290.05" cy="417.81" r="2.1"/><circle class="r" cx="289.82" cy="420.26" r="1.45"/><circle class="b" cx="290.09" cy="419.48" r="2.1"/><circle class="r" cx="290.18" cy="421.64" r="1.45"/><circle class="b" cx="290.54" cy="421.66" r="2.1"/><circle class="r" cx="290.54" cy="423.02" r="1.45"/><circle class="b" cx="290.98" cy="423.69" r="2.1"/><circle class="r" cx="290.89" cy="424.40" r="1.45"/><circle class="b" cx="290.71" cy="424.10" r="2.1"/><circle class="r" cx="291.25" cy="425.78" r="1.45"/><circle class="b" cx="292.53" cy="426.68" r="2.1"/><circle class="r" cx="291.60" cy="427.16" r="1.45"/><circle class="b" cx="291.19" cy="426.58" r="2.1"/><circle class="r" cx="291.96" cy="428.54" r="1.45"/><circle class="b" cx="292.05" cy="428.58" r="2.1"/><circle class="r" cx="292.32" cy="429.92" r="1.45"/><circle class="b" cx="293.28" cy="430.95" r="2.1"/><circle class="r" cx="292.67" cy="431.30" r="1.45"/><circle class="b" cx="292.62" cy="431.00" r="2.1"/><circle class="r" cx="293.03" cy="432.68" r="1.45"/><circle class="b" cx="293.02" cy="433.21" r="2.1"/><circle class="r" cx="293.38" cy="434.06" r="1.45"/><circle class="b" cx="293.70" cy="434.33" r="2.1"/><circle class="r" cx="293.74" cy="435.44" r="1.45"/><circle class="b" cx="293.62" cy="435.97" r="2.1"/><circle class="r" cx="294.09" cy="436.82" r="1.45"/><circle class="b" cx="294.15" cy="437.18" r="2.1"/><circle class="r" cx="294.45" cy="438.20" r="1.45"/><circle class="b" cx="294.06" cy="438.55" r="2.1"/><circle class="r" cx="294.81" cy="439.58" r="1.45"/><circle class="b" cx="293.71" cy="439.78" r="2.1"/><circle class="r" cx="295.16" cy="440.96" r="1.45"/><circle class="b" cx="294.62" cy="440.07" r="2.1"/><circle class="r" cx="295.52" cy="442.34" r="1.45"/><circle class="b" cx="296.10" cy="442.45" r="2.1"/><circle class="r" cx="295.87" cy="443.72" r="1.45"/><circle class="b" cx="295.03" cy="443.94" r="2.1"/><circle class="r" cx="296.23" cy="445.10" r="1.45"/><circle class="b" cx="296.69" cy="445.53" r="2.1"/><circle class="r" cx="296.59" cy="446.48" r="1.45"/><circle class="b" cx="296.66" cy="447.07" r="2.1"/><circle class="r" cx="296.94" cy="447.86" r="1.45"/><circle class="b" cx="297.42" cy="448.08" r="2.1"/><circle class="r" cx="297.30" cy="449.24" r="1.45"/><circle class="b" cx="297.94" cy="448.97" r="2.1"/><circle class="r" cx="297.65" cy="450.63" r="1.45"/><circle class="b" cx="297.81" cy="451.52" r="2.1"/><circle class="r" cx="298.01" cy="452.01" r="1.45"/><circle class="b" cx="298.97" cy="450.98" r="2.1"/><circle class="r" cx="298.36" cy="453.39" r="1.45"/><circle class="b" cx="299.38" cy="454.23" r="2.1"/><circle class="r" cx="298.72" cy="454.77" r="1.45"/><circle class="b" cx="298.74" cy="455.10" r="2.1"/><circle class="r" cx="299.08" cy="456.15" r="1.45"/><circle class="b" cx="299.13" cy="456.37" r="2.1"/><circle class="r" cx="299.43" cy="457.53" r="1.45"/><circle class="b" cx="299.98" cy="457.25" r="2.1"/><circle class="r" cx="299.79" cy="458.91" r="1.45"/><circle class="b" cx="300.33" cy="459.18" r="2.1"/><circle class="r" cx="300.14" cy="460.29" r="1.45"/><circle class="b" cx="300.37" cy="461.07" r="2.1"/><circle class="r" cx="300.50" cy="461.67" r="1.45"/><circle class="b" cx="301.66" cy="462.75" r="2.1"/><circle class="r" cx="300.86" cy="463.05" r="1.45"/><circle class="b" cx="300.89" cy="463.12" r="2.1"/><circle class="r" cx="301.21" cy="464.43" r="1.45"/><circle class="b" cx="301.09" cy="464.42" r="2.1"/><circle class="r" cx="301.57" cy="465.81" r="1.45"/><circle class="b" cx="301.53" cy="465.13" r="2.1"/><circle class="r" cx="301.92" cy="467.19" r="1.45"/><circle class="b" cx="301.17" cy="467.19" r="2.1"/><circle class="r" cx="302.28" cy="468.57" r="1.45"/><circle class="b" cx="302.89" cy="469.35" r="2.1"/><circle class="r" cx="302.63" cy="469.95" r="1.45"/><circle class="b" cx="302.57" cy="468.87" r="2.1"/><circle class="r" cx="302.99" cy="471.33" r="1.45"/><circle class="b" cx="303.28" cy="471.13" r="2.1"/><circle class="r" cx="303.35" cy="472.71" r="1.45"/><circle class="b" cx="302.38" cy="472.03" r="2.1"/><circle class="r" cx="303.70" cy="474.09" r="1.45"/><circle class="b" cx="303.73" cy="474.24" r="2.1"/><circle class="r" cx="304.06" cy="475.47" r="1.45"/><circle class="b" cx="304.29" cy="475.75" r="2.1"/><circle class="r" cx="304.41" cy="476.85" r="1.45"/><circle class="b" cx="303.29" cy="476.20" r="2.1"/><circle class="r" cx="304.77" cy="478.23" r="1.45"/><circle class="b" cx="304.73" cy="478.15" r="2.1"/><circle class="r" cx="305.13" cy="479.61" r="1.45"/><circle class="b" cx="305.19" cy="480.23" r="2.1"/><circle class="r" cx="305.48" cy="480.99" r="1.45"/><circle class="b" cx="306.09" cy="480.79" r="2.1"/><circle class="r" cx="305.84" cy="482.37" r="1.45"/><circle class="b" cx="305.56" cy="482.11" r="2.1"/><circle class="r" cx="306.19" cy="483.75" r="1.45"/><circle class="b" cx="306.84" cy="485.82" r="2.1"/>
<circle class="e" cx="280.00" cy="392.00" r="2.3"/><circle class="e" cx="286.80" cy="428.80" r="2.3"/><circle class="e" cx="319.00" cy="443.00" r="2.3"/><circle class="e" cx="265.80" cy="439.20" r="2.3"/>
</g>
<g>
<path d="M400.60 492.80H540.80M400.60 492.80v-1.8M447.33 492.80v-1.8M494.07 492.80v-1.8M540.80 492.80v-1.8" fill="none" stroke="#bcbcbc" stroke-width="1"/>
<path d="M400.60 367.15V493.30M400.60 492.80h1.8M400.60 450.92h1.8M400.60 409.03h1.8M400.60 367.15h1.8" fill="none" stroke="#a8a8a8" stroke-width="1"/>
<text transform="translate(400.60,502.70) scale(0.655,1)" text-anchor="middle">-500</text>
<text transform="translate(447.33,502.70) scale(0.655,1)" text-anchor="middle">0</text>
<text transform="translate(494.07,502.70) scale(0.655,1)" text-anchor="middle">500</text>
<text transform="translate(540.80,502.70) scale(0.655,1)" text-anchor="middle">1000</text>
<text transform="translate(398.80,495.10) scale(0.655,1)" text-anchor="end">-1000</text>
<text transform="translate(398.80,453.22) scale(0.655,1)" text-anchor="end">-500</text>
<text transform="translate(398.80,411.33) scale(0.655,1)" text-anchor="end">0</text>
<text transform="translate(398.80,369.45) scale(0.655,1)" text-anchor="end">500</text>
<text transform="translate(470.70,359.75) scale(0.655,1)" text-anchor="middle">(i) Pd=0.7</text>
<text transform="translate(470.30,515.40) scale(0.655,1)" text-anchor="middle">X Position</text>
<text transform="translate(380.60,430.28) rotate(-90) scale(0.7,0.93)" text-anchor="middle" stroke="none" fill="#2a2a2a" letter-spacing="1.9">Y Position</text>
<circle class="r" cx="425.65" cy="430.39" r="1.45"/><circle class="r" cx="427.18" cy="430.70" r="1.45"/><circle class="r" cx="428.72" cy="431.01" r="1.45"/><circle class="r" cx="430.25" cy="431.32" r="1.45"/><circle class="b" cx="430.51" cy="433.09" r="2.1"/><circle class="r" cx="431.78" cy="431.63" r="1.45"/><circle class="b" cx="431.25" cy="431.99" r="2.1"/><circle class="r" cx="433.32" cy="431.94" r="1.45"/><circle class="b" cx="433.99" cy="432.04" r="2.1"/><circle class="r" cx="434.85" cy="432.25" r="1.45"/><circle class="b" cx="434.86" cy="432.24" r="2.1"/><circle class="r" cx="436.38" cy="432.56" r="1.45"/><circle class="b" cx="436.34" cy="433.33" r="2.1"/><circle class="r" cx="437.92" cy="432.87" r="1.45"/><circle class="b" cx="437.83" cy="432.50" r="2.1"/><circle class="r" cx="439.45" cy="433.18" r="1.45"/><circle class="b" cx="440.74" cy="434.40" r="2.1"/><circle class="r" cx="440.98" cy="433.49" r="1.45"/><circle class="b" cx="441.54" cy="434.14" r="2.1"/><circle class="r" cx="442.52" cy="433.80" r="1.45"/><circle class="b" cx="442.70" cy="433.64" r="2.1"/><circle class="r" cx="444.05" cy="434.11" r="1.45"/><circle class="b" cx="444.51" cy="434.92" r="2.1"/><circle class="r" cx="445.58" cy="434.42" r="1.45"/><circle class="b" cx="444.35" cy="435.21" r="2.1"/><circle class="r" cx="447.12" cy="434.73" r="1.45"/><circle class="b" cx="448.24" cy="433.38" r="2.1"/><circle class="r" cx="448.65" cy="435.04" r="1.45"/><circle class="b" cx="449.32" cy="434.78" r="2.1"/><circle class="r" cx="450.18" cy="435.35" r="1.45"/><circle class="b" cx="450.87" cy="434.94" r="2.1"/><circle class="r" cx="451.72" cy="435.66" r="1.45"/><circle class="b" cx="451.37" cy="437.02" r="2.1"/><circle class="r" cx="453.25" cy="435.97" r="1.45"/><circle class="b" cx="453.75" cy="435.43" r="2.1"/><circle class="r" cx="454.78" cy="436.28" r="1.45"/><circle class="b" cx="455.52" cy="435.24" r="2.1"/><circle class="r" cx="456.32" cy="436.59" r="1.45"/><circle class="b" cx="455.97" cy="436.56" r="2.1"/><circle class="r" cx="457.85" cy="436.89" r="1.45"/><circle class="b" cx="457.34" cy="436.12" r="2.1"/><circle class="r" cx="459.38" cy="437.20" r="1.45"/><circle class="b" cx="460.83" cy="436.14" r="2.1"/><circle class="r" cx="460.92" cy="437.51" r="1.45"/><circle class="b" cx="462.24" cy="438.20" r="2.1"/><circle class="r" cx="462.45" cy="437.82" r="1.45"/><circle class="b" cx="462.90" cy="438.80" r="2.1"/><circle class="r" cx="463.98" cy="438.13" r="1.45"/><circle class="b" cx="464.04" cy="438.80" r="2.1"/><circle class="r" cx="465.52" cy="438.44" r="1.45"/><circle class="b" cx="465.40" cy="438.20" r="2.1"/><circle class="r" cx="467.05" cy="438.75" r="1.45"/><circle class="b" cx="466.49" cy="438.20" r="2.1"/><circle class="r" cx="468.58" cy="439.06" r="1.45"/><circle class="b" cx="468.61" cy="438.97" r="2.1"/><circle class="r" cx="470.12" cy="439.37" r="1.45"/><circle class="b" cx="469.64" cy="438.38" r="2.1"/><circle class="r" cx="471.65" cy="439.68" r="1.45"/><circle class="b" cx="472.40" cy="441.28" r="2.1"/><circle class="r" cx="473.18" cy="439.99" r="1.45"/><circle class="b" cx="473.26" cy="440.73" r="2.1"/><circle class="r" cx="474.72" cy="440.30" r="1.45"/><circle class="b" cx="474.91" cy="440.99" r="2.1"/><circle class="r" cx="476.25" cy="440.61" r="1.45"/><circle class="b" cx="476.66" cy="440.31" r="2.1"/><circle class="r" cx="477.78" cy="440.92" r="1.45"/><circle class="b" cx="477.13" cy="441.72" r="2.1"/><circle class="r" cx="479.32" cy="441.23" r="1.45"/><circle class="b" cx="479.66" cy="441.59" r="2.1"/><circle class="r" cx="480.85" cy="441.54" r="1.45"/><circle class="b" cx="480.83" cy="441.73" r="2.1"/><circle class="r" cx="482.38" cy="441.85" r="1.45"/><circle class="b" cx="481.78" cy="442.25" r="2.1"/><circle class="r" cx="483.92" cy="442.16" r="1.45"/><circle class="b" cx="482.46" cy="441.33" r="2.1"/><circle class="r" cx="485.45" cy="442.47" r="1.45"/><circle class="b" cx="484.78" cy="443.33" r="2.1"/><circle class="r" cx="486.98" cy="442.78" r="1.45"/><circle class="b" cx="487.35" cy="443.49" r="2.1"/><circle class="r" cx="488.52" cy="443.09" r="1.45"/><circle class="b" cx="488.07" cy="442.19" r="2.1"/><circle class="r" cx="490.05" cy="443.40" r="1.45"/><circle class="b" cx="491.21" cy="443.12" r="2.1"/><circle class="r" cx="491.59" cy="443.71" r="1.45"/><circle class="b" cx="490.96" cy="442.93" r="2.1"/><circle class="r" cx="493.12" cy="444.02" r="1.45"/><circle class="b" cx="493.57" cy="443.92" r="2.1"/><circle class="r" cx="494.65" cy="444.32" r="1.45"/><circle class="b" cx="494.48" cy="444.84" r="2.1"/><circle class="r" cx="496.19" cy="444.63" r="1.45"/><circle class="b" cx="495.09" cy="443.83" r="2.1"/><circle class="r" cx="497.72" cy="444.94" r="1.45"/><circle class="b" cx="497.32" cy="444.70" r="2.1"/><circle class="r" cx="499.25" cy="445.25" r="1.45"/><circle class="b" cx="496.58" cy="444.66" r="2.1"/><circle class="r" cx="500.79" cy="445.56" r="1.45"/><circle class="b" cx="500.85" cy="445.59" r="2.1"/><circle class="r" cx="502.32" cy="445.87" r="1.45"/><circle class="b" cx="502.30" cy="445.81" r="2.1"/><circle class="r" cx="503.85" cy="446.18" r="1.45"/><circle class="b" cx="503.75" cy="447.28" r="2.1"/><circle class="r" cx="505.39" cy="446.49" r="1.45"/><circle class="b" cx="505.73" cy="446.53" r="2.1"/><circle class="r" cx="506.92" cy="446.80" r="1.45"/><circle class="b" cx="507.31" cy="446.73" r="2.1"/><circle class="r" cx="508.45" cy="447.11" r="1.45"/><circle class="b" cx="507.84" cy="447.02" r="2.1"/><circle class="r" cx="509.99" cy="447.42" r="1.45"/><circle class="b" cx="509.45" cy="447.49" r="2.1"/><circle class="r" cx="511.52" cy="447.73" r="1.45"/><circle class="b" cx="512.39" cy="448.24" r="2.1"/><circle class="r" cx="513.05" cy="448.04" r="1.45"/><circle class="b" cx="512.28" cy="447.28" r="2.1"/><circle class="r" cx="514.59" cy="448.35" r="1.45"/><circle class="b" cx="514.88" cy="447.26" r="2.1"/><circle class="r" cx="516.12" cy="448.66" r="1.45"/><circle class="b" cx="515.67" cy="448.68" r="2.1"/><circle class="r" cx="517.65" cy="448.97" r="1.45"/><circle class="b" cx="517.44" cy="448.88" r="2.1"/><circle class="r" cx="519.19" cy="449.28" r="1.45"/><circle class="b" cx="518.94" cy="448.63" r="2.1"/><circle class="r" cx="520.72" cy="449.59" r="1.45"/><circle class="b" cx="520.88" cy="450.83" r="2.1"/><circle class="r" cx="522.25" cy="449.90" r="1.45"/><circle class="b" cx="523.02" cy="450.42" r="2.1"/><circle class="r" cx="523.79" cy="450.21" r="1.45"/><circle class="b" cx="523.45" cy="448.99" r="2.1"/><circle class="r" cx="525.32" cy="450.52" r="1.45"/><circle class="b" cx="525.36" cy="450.82" r="2.1"/><circle class="r" cx="526.85" cy="450.83" r="1.45"/><circle class="b" cx="526.50" cy="450.67" r="2.1"/><circle class="r" cx="528.39" cy="451.14" r="1.45"/><circle class="b" cx="528.10" cy="450.97" r="2.1"/><circle class="r" cx="529.92" cy="451.44" r="1.45"/><circle class="b" cx="529.95" cy="451.99" r="2.1"/><circle class="r" cx="531.45" cy="451.75" r="1.45"/><circle class="b" cx="530.35" cy="451.52" r="2.1"/>
<circle class="r" cx="423.22" cy="463.48" r="1.45"/><circle class="c" cx="423.03" cy="462.30" r="2.35"/><circle class="r" cx="424.61" cy="463.22" r="1.45"/><circle class="c" cx="423.92" cy="462.40" r="2.35"/><circle class="r" cx="425.99" cy="462.96" r="1.45"/><circle class="c" cx="426.38" cy="462.69" r="2.35"/><circle class="r" cx="427.38" cy="462.70" r="1.45"/><circle class="c" cx="427.10" cy="462.24" r="2.35"/><circle class="r" cx="428.77" cy="462.44" r="1.45"/><circle class="c" cx="428.95" cy="463.63" r="2.35"/><circle class="r" cx="430.16" cy="462.18" r="1.45"/><circle class="c" cx="429.78" cy="460.45" r="2.35"/><circle class="r" cx="431.54" cy="461.92" r="1.45"/><circle class="c" cx="431.32" cy="462.49" r="2.35"/><circle class="r" cx="432.93" cy="461.66" r="1.45"/><circle class="c" cx="433.83" cy="461.99" r="2.35"/><circle class="r" cx="434.32" cy="461.40" r="1.45"/><circle class="c" cx="435.12" cy="461.65" r="2.35"/><circle class="r" cx="435.71" cy="461.14" r="1.45"/><circle class="c" cx="437.01" cy="460.54" r="2.35"/><circle class="r" cx="437.09" cy="460.88" r="1.45"/><circle class="c" cx="437.21" cy="461.21" r="2.35"/><circle class="r" cx="438.48" cy="460.61" r="1.45"/><circle class="c" cx="437.82" cy="460.53" r="2.35"/><circle class="r" cx="439.87" cy="460.35" r="1.45"/><circle class="c" cx="438.68" cy="460.13" r="2.35"/><circle class="r" cx="441.26" cy="460.09" r="1.45"/><circle class="c" cx="441.88" cy="460.39" r="2.35"/><circle class="r" cx="442.64" cy="459.83" r="1.45"/><circle class="c" cx="442.63" cy="460.87" r="2.35"/><circle class="r" cx="444.03" cy="459.57" r="1.45"/><circle class="c" cx="443.70" cy="460.30" r="2.35"/><circle class="r" cx="445.42" cy="459.31" r="1.45"/><circle class="c" cx="445.50" cy="458.64" r="2.35"/><circle class="r" cx="446.81" cy="459.05" r="1.45"/><circle class="c" cx="448.27" cy="458.33" r="2.35"/><circle class="r" cx="448.19" cy="458.79" r="1.45"/><circle class="c" cx="448.80" cy="459.26" r="2.35"/><circle class="r" cx="449.58" cy="458.53" r="1.45"/><circle class="c" cx="449.55" cy="458.72" r="2.35"/><circle class="r" cx="450.97" cy="458.27" r="1.45"/><circle class="c" cx="451.28" cy="458.07" r="2.35"/><circle class="r" cx="452.36" cy="458.01" r="1.45"/><circle class="c" cx="451.92" cy="457.61" r="2.35"/><circle class="r" cx="453.74" cy="457.75" r="1.45"/><circle class="c" cx="453.76" cy="454.83" r="2.35"/><circle class="r" cx="455.13" cy="457.49" r="1.45"/><circle class="c" cx="455.73" cy="457.85" r="2.35"/><circle class="r" cx="456.52" cy="457.23" r="1.45"/><circle class="c" cx="456.74" cy="457.18" r="2.35"/><circle class="r" cx="457.91" cy="456.97" r="1.45"/><circle class="c" cx="457.95" cy="456.59" r="2.35"/><circle class="r" cx="459.29" cy="456.71" r="1.45"/><circle class="c" cx="459.67" cy="456.89" r="2.35"/><circle class="r" cx="460.68" cy="456.45" r="1.45"/><circle class="c" cx="460.89" cy="456.08" r="2.35"/><circle class="r" cx="462.07" cy="456.18" r="1.45"/><circle class="c" cx="462.14" cy="455.45" r="2.35"/><circle class="r" cx="463.46" cy="455.92" r="1.45"/><circle class="c" cx="463.83" cy="456.29" r="2.35"/><circle class="r" cx="464.84" cy="455.66" r="1.45"/><circle class="c" cx="465.25" cy="456.03" r="2.35"/><circle class="r" cx="466.23" cy="455.40" r="1.45"/><circle class="c" cx="467.41" cy="454.45" r="2.35"/><circle class="r" cx="467.62" cy="455.14" r="1.45"/><circle class="c" cx="468.54" cy="454.88" r="2.35"/><circle class="r" cx="469.01" cy="454.88" r="1.45"/><circle class="c" cx="467.92" cy="455.12" r="2.35"/><circle class="r" cx="470.39" cy="454.62" r="1.45"/><circle class="c" cx="470.71" cy="454.96" r="2.35"/><circle class="r" cx="471.78" cy="454.36" r="1.45"/><circle class="c" cx="472.78" cy="455.16" r="2.35"/><circle class="r" cx="473.17" cy="454.10" r="1.45"/><circle class="c" cx="473.17" cy="454.64" r="2.35"/><circle class="r" cx="474.55" cy="453.84" r="1.45"/><circle class="c" cx="474.95" cy="453.82" r="2.35"/><circle class="r" cx="475.94" cy="453.58" r="1.45"/><circle class="c" cx="475.76" cy="453.97" r="2.35"/><circle class="r" cx="477.33" cy="453.32" r="1.45"/><circle class="c" cx="477.08" cy="453.70" r="2.35"/><circle class="r" cx="478.72" cy="453.06" r="1.45"/><circle class="c" cx="479.32" cy="451.80" r="2.35"/><circle class="r" cx="480.10" cy="452.80" r="1.45"/><circle class="c" cx="481.29" cy="452.87" r="2.35"/><circle class="r" cx="481.49" cy="452.54" r="1.45"/><circle class="c" cx="482.88" cy="451.52" r="2.35"/><circle class="r" cx="482.88" cy="452.28" r="1.45"/><circle class="c" cx="483.63" cy="451.22" r="2.35"/><circle class="r" cx="484.27" cy="452.01" r="1.45"/><circle class="c" cx="483.82" cy="452.52" r="2.35"/><circle class="r" cx="485.65" cy="451.75" r="1.45"/><circle class="c" cx="485.41" cy="451.99" r="2.35"/>
<circle class="r" cx="471.17" cy="388.51" r="1.45"/><circle class="r" cx="471.50" cy="389.89" r="1.45"/><circle class="r" cx="471.83" cy="391.27" r="1.45"/><circle class="r" cx="472.16" cy="392.65" r="1.45"/><circle class="b" cx="472.77" cy="392.26" r="2.1"/><circle class="r" cx="472.49" cy="394.03" r="1.45"/><circle class="b" cx="473.39" cy="393.27" r="2.1"/><circle class="r" cx="472.83" cy="395.41" r="1.45"/><circle class="b" cx="473.93" cy="394.80" r="2.1"/><circle class="r" cx="473.16" cy="396.79" r="1.45"/><circle class="b" cx="473.00" cy="395.63" r="2.1"/><circle class="r" cx="473.49" cy="398.17" r="1.45"/><circle class="b" cx="473.47" cy="399.20" r="2.1"/><circle class="r" cx="473.82" cy="399.55" r="1.45"/><circle class="b" cx="474.02" cy="399.24" r="2.1"/><circle class="r" cx="474.15" cy="400.93" r="1.45"/><circle class="b" cx="473.48" cy="402.04" r="2.1"/><circle class="r" cx="474.49" cy="402.31" r="1.45"/><circle class="b" cx="475.24" cy="401.18" r="2.1"/><circle class="r" cx="474.82" cy="403.69" r="1.45"/><circle class="b" cx="475.88" cy="404.96" r="2.1"/><circle class="r" cx="475.15" cy="405.07" r="1.45"/><circle class="b" cx="474.70" cy="404.16" r="2.1"/><circle class="r" cx="475.48" cy="406.45" r="1.45"/><circle class="b" cx="476.95" cy="404.89" r="2.1"/><circle class="r" cx="475.81" cy="407.84" r="1.45"/><circle class="b" cx="475.16" cy="408.87" r="2.1"/><circle class="r" cx="476.15" cy="409.22" r="1.45"/><circle class="b" cx="476.48" cy="408.86" r="2.1"/><circle class="r" cx="476.48" cy="410.60" r="1.45"/><circle class="b" cx="476.48" cy="410.92" r="2.1"/><circle class="r" cx="476.81" cy="411.98" r="1.45"/><circle class="b" cx="478.04" cy="412.18" r="2.1"/><circle class="r" cx="477.14" cy="413.36" r="1.45"/><circle class="b" cx="477.38" cy="413.47" r="2.1"/><circle class="r" cx="477.47" cy="414.74" r="1.45"/><circle class="b" cx="477.72" cy="415.48" r="2.1"/><circle class="r" cx="477.80" cy="416.12" r="1.45"/><circle class="b" cx="478.37" cy="414.47" r="2.1"/><circle class="r" cx="478.14" cy="417.50" r="1.45"/><circle class="b" cx="477.14" cy="416.40" r="2.1"/><circle class="r" cx="478.47" cy="418.88" r="1.45"/><circle class="b" cx="479.39" cy="418.21" r="2.1"/><circle class="r" cx="478.80" cy="420.26" r="1.45"/><circle class="b" cx="479.44" cy="419.61" r="2.1"/><circle class="r" cx="479.13" cy="421.64" r="1.45"/><circle class="b" cx="478.01" cy="420.95" r="2.1"/><circle class="r" cx="479.46" cy="423.02" r="1.45"/><circle class="b" cx="478.74" cy="423.09" r="2.1"/><circle class="r" cx="479.80" cy="424.40" r="1.45"/><circle class="b" cx="479.55" cy="423.99" r="2.1"/><circle class="r" cx="480.13" cy="425.78" r="1.45"/><circle class="b" cx="478.97" cy="427.12" r="2.1"/><circle class="r" cx="480.46" cy="427.16" r="1.45"/><circle class="b" cx="481.56" cy="428.26" r="2.1"/><circle class="r" cx="480.79" cy="428.54" r="1.45"/><circle class="b" cx="479.27" cy="427.56" r="2.1"/><circle class="r" cx="481.12" cy="429.92" r="1.45"/><circle class="b" cx="480.85" cy="430.05" r="2.1"/><circle class="r" cx="481.46" cy="431.30" r="1.45"/><circle class="b" cx="481.98" cy="430.18" r="2.1"/><circle class="r" cx="481.79" cy="432.68" r="1.45"/><circle class="b" cx="481.99" cy="433.82" r="2.1"/><circle class="r" cx="482.12" cy="434.06" r="1.45"/><circle class="b" cx="482.40" cy="435.48" r="2.1"/><circle class="r" cx="482.45" cy="435.44" r="1.45"/><circle class="b" cx="481.82" cy="435.72" r="2.1"/><circle class="r" cx="482.78" cy="436.82" r="1.45"/><circle class="b" cx="483.21" cy="436.62" r="2.1"/><circle class="r" cx="483.11" cy="438.20" r="1.45"/><circle class="b" cx="482.57" cy="439.20" r="2.1"/><circle class="r" cx="483.45" cy="439.58" r="1.45"/><circle class="b" cx="482.66" cy="439.34" r="2.1"/><circle class="r" cx="483.78" cy="440.96" r="1.45"/><circle class="b" cx="484.87" cy="442.34" r="2.1"/><circle class="r" cx="484.11" cy="442.34" r="1.45"/><circle class="b" cx="482.95" cy="441.88" r="2.1"/><circle class="r" cx="484.44" cy="443.72" r="1.45"/><circle class="b" cx="485.19" cy="443.25" r="2.1"/><circle class="r" cx="484.77" cy="445.10" r="1.45"/><circle class="b" cx="485.22" cy="444.62" r="2.1"/><circle class="r" cx="485.11" cy="446.48" r="1.45"/><circle class="b" cx="485.15" cy="446.63" r="2.1"/><circle class="r" cx="485.44" cy="447.86" r="1.45"/><circle class="b" cx="486.65" cy="446.97" r="2.1"/><circle class="r" cx="485.77" cy="449.24" r="1.45"/><circle class="b" cx="484.15" cy="449.13" r="2.1"/><circle class="r" cx="486.10" cy="450.63" r="1.45"/><circle class="b" cx="486.71" cy="451.40" r="2.1"/><circle class="r" cx="486.43" cy="452.01" r="1.45"/><circle class="b" cx="485.59" cy="452.44" r="2.1"/><circle class="r" cx="486.77" cy="453.39" r="1.45"/><circle class="b" cx="486.65" cy="454.11" r="2.1"/><circle class="r" cx="487.10" cy="454.77" r="1.45"/><circle class="b" cx="486.80" cy="454.83" r="2.1"/><circle class="r" cx="487.43" cy="456.15" r="1.45"/><circle class="b" cx="485.98" cy="458.43" r="2.1"/><circle class="r" cx="487.76" cy="457.53" r="1.45"/><circle class="b" cx="487.80" cy="458.06" r="2.1"/><circle class="r" cx="488.09" cy="458.91" r="1.45"/><circle class="b" cx="488.52" cy="459.76" r="2.1"/><circle class="r" cx="488.42" cy="460.29" r="1.45"/><circle class="b" cx="488.70" cy="461.17" r="2.1"/><circle class="r" cx="488.76" cy="461.67" r="1.45"/><circle class="b" cx="488.75" cy="460.56" r="2.1"/><circle class="r" cx="489.09" cy="463.05" r="1.45"/><circle class="b" cx="488.90" cy="464.37" r="2.1"/><circle class="r" cx="489.42" cy="464.43" r="1.45"/><circle class="b" cx="491.01" cy="464.97" r="2.1"/><circle class="r" cx="489.75" cy="465.81" r="1.45"/><circle class="b" cx="489.98" cy="465.95" r="2.1"/><circle class="r" cx="490.08" cy="467.19" r="1.45"/><circle class="b" cx="489.91" cy="466.84" r="2.1"/><circle class="r" cx="490.42" cy="468.57" r="1.45"/><circle class="b" cx="488.85" cy="466.71" r="2.1"/><circle class="r" cx="490.75" cy="469.95" r="1.45"/><circle class="b" cx="490.80" cy="469.43" r="2.1"/><circle class="r" cx="491.08" cy="471.33" r="1.45"/><circle class="b" cx="491.46" cy="471.94" r="2.1"/><circle class="r" cx="491.41" cy="472.71" r="1.45"/><circle class="b" cx="491.28" cy="473.10" r="2.1"/><circle class="r" cx="491.74" cy="474.09" r="1.45"/><circle class="b" cx="492.14" cy="474.32" r="2.1"/><circle class="r" cx="492.08" cy="475.47" r="1.45"/><circle class="b" cx="491.63" cy="475.46" r="2.1"/><circle class="r" cx="492.41" cy="476.85" r="1.45"/><circle class="b" cx="490.66" cy="477.55" r="2.1"/><circle class="r" cx="492.74" cy="478.23" r="1.45"/><circle class="b" cx="493.48" cy="477.96" r="2.1"/><circle class="r" cx="493.07" cy="479.61" r="1.45"/><circle class="b" cx="492.74" cy="479.40" r="2.1"/><circle class="r" cx="493.40" cy="480.99" r="1.45"/><circle class="b" cx="494.38" cy="481.48" r="2.1"/><circle class="r" cx="493.73" cy="482.37" r="1.45"/><circle class="b" cx="493.20" cy="482.75" r="2.1"/><circle class="r" cx="494.07" cy="483.75" r="1.45"/><circle class="b" cx="493.43" cy="484.61" r="2.1"/>
<circle class="e" cx="449.50" cy="430.20" r="2.3"/><circle class="e" cx="472.70" cy="413.30" r="2.3"/><circle class="e" cx="483.00" cy="420.10" r="2.3"/><circle class="e" cx="465.80" cy="437.00" r="2.3"/><circle class="e" cx="491.80" cy="460.20" r="2.3"/><circle class="e" cx="487.70" cy="465.70" r="2.3"/><circle class="e" cx="495.80" cy="476.60" r="2.3"/><circle class="e" cx="499.90" cy="448.50" r="2.3"/><circle class="e" cx="528.00" cy="454.80" r="2.3"/><circle class="e" cx="422.20" cy="461.60" r="2.3"/>
</g>
</svg>
</body></html>
